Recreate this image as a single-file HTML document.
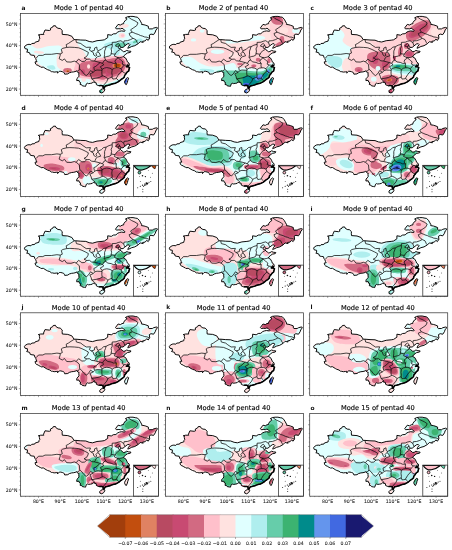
<!DOCTYPE html>
<html><head><meta charset="utf-8"><title>Modes of pentad 40</title>
<style>html,body{margin:0;padding:0;background:#fff}svg{display:block}text{font-family:"DejaVu Sans","Liberation Sans",sans-serif;fill:#262626}.t{font-size:6.7px;fill:#000;stroke:#000;stroke-width:.12px;text-anchor:middle}.k{font-size:4.65px;stroke:#262626;stroke-width:.07px}.l{font-size:5.9px;font-weight:bold;fill:#111}</style></head><body>
<svg width="452" height="550" viewBox="0 0 452 550">
<defs>
<path id="cn" d="M3.9 -9.5L4.8 -10.8L6.7 -11.9L8.5 -12.2L10.4 -11.9L11.3 -13L14.1 -13.2L14.7 -14.3L18.4 -15.4L18.6 -16.9L19.3 -17.6L18.9 -19.7L19.1 -21L17.8 -21.5L20.2 -22.1L23.4 -22.1L23 -23L24.5 -26.5L28.8 -26L30.1 -26.5L29.9 -28.2L32.3 -29.5L32.7 -30.6L34.9 -30.8L35.3 -29.7L37.5 -28.2L39.7 -28L41.8 -26L41.6 -24.5L41.8 -22.1L47.3 -21.7L51.4 -20.2L53.5 -16.9L55.3 -16.9L60.3 -16.5L65.3 -16.3L68.7 -15L72 -14.5L76.5 -15.8L81.5 -16.3L83.9 -16.7L87.2 -18.9L87.2 -21.9L90.8 -21.3L92.8 -22.6L95.4 -22.8L97.3 -24.5L99.1 -25.2L101 -25.6L104.1 -25.2L104.5 -25.8L102.8 -27.6L101.5 -28.2L99.9 -27.6L98.4 -27.8L95.8 -27.6L95 -28.6L97.6 -32.1L99.9 -31.5L101.5 -32.5L103.2 -32.8L103.2 -33.9L104.9 -36.2L106.2 -36.9L106.2 -38.2L104.9 -38.6L106.9 -39.7L109.7 -40.1L112.5 -40.1L115.3 -39.5L116.9 -39.3L118.8 -37.3L119.9 -35.4L121.2 -33L121 -32.1L123.6 -31.7L125.3 -31.2L127.9 -30.2L127.9 -28.2L128.6 -27.6L131.8 -27.6L133.1 -28.4L135.9 -29.1L136.8 -28.9L136.6 -27.6L135.5 -26.7L134.8 -24.5L133.1 -21.9L130.5 -22.4L128.8 -21.5L129.2 -18.4L127.7 -16.1L126.2 -17.4L124.7 -15.6L122.1 -15.2L122.7 -14.1L119.7 -14.8L117.7 -12.8L114.3 -10.8L111.2 -10L108.2 -8.5L107.3 -8.2L108 -10L109.5 -11.9L108.6 -12.8L106.9 -12.6L104.3 -10.6L102.5 -9.1L100.2 -9.1L99.5 -7.8L100.6 -6.7L102.3 -5.4L103 -4.8L104.5 -5L106.2 -6.1L108.2 -5.4L110.4 -5.2L109.9 -4.1L106.9 -3.5L105.4 -2.4L103.6 -0.9L103 0.4L105.1 1.5L106.4 3.9L106.9 5.4L108.6 6.7L108.8 8.7L106.9 9.5L105.8 10.2L107.7 10.2L109.1 11.1L108.6 12.6L108.2 14.5L106.7 15.4L105.4 17.4L104.1 18.9L103.8 20.6L102.3 21.9L100.6 23L98.9 24.5L97.6 25.4L95 26.7L92.4 27.3L90.8 27.8L89.5 28.4L86.9 29.1L84.8 29.5L83.9 31.2L83.5 31.9L82.6 31.2L82.6 29.5L81.1 29.1L79.3 29.1L78.7 29.3L77.4 28.9L75.9 28.2L75.7 26.3L74.1 26L72.8 25.4L71.8 26.5L69.8 26.9L67.9 27.1L66.8 26.7L65.9 27.3L65 29.9L64 29.7L61.8 29.3L61.1 28.2L59.6 28L60.1 26L59 25.6L58.5 23.9L56.2 24.1L56.4 22.1L57.5 21L58.5 19.7L58.3 17.4L58.5 16.1L57.7 16.1L55.9 14.5L55.5 14.8L53.3 15.4L51.2 15.6L48.8 16.3L47.3 17.4L44.2 17.7L43.8 16.5L43.1 15.6L41.8 15.2L40.3 14.8L38.8 14.8L37.5 16.1L37.1 16.7L37.1 15.2L35.6 15.4L33.6 15.6L32.1 15.2L31 15.2L29.3 13.9L27.1 13.2L25.6 12.4L22.8 10.6L20.6 10.8L20.2 10.4L18.4 9.5L17.6 8.9L15.8 8.2L15.2 7.6L14.5 5.4L15.4 5.2L16.5 5.2L15.8 3.9L15.2 2L14.3 0.9L13.7 -1.1L11.5 -1.3L9.8 -1.7L9.1 -3.7L7.2 -4.3L6.1 -4.6L6.9 -5L6.9 -7.4L4.6 -7.8Z M79.3 34.1L80.4 33L82.2 32.3L84.1 32.5L84.3 33.4L83.3 35.2L81.3 36.5L79.3 35.8Z M107.1 21L108.2 21.7L107.3 23.9L106.9 25.8L105.8 28.2L105.4 28.2L104.3 26.5L104.1 25L105.1 23L106 21.7Z"/>
<path id="co" d="M108.8 8.7L106.9 9.5L105.8 10.2L107.7 10.2L109.1 11.1L108.6 12.6L108.2 14.5L106.7 15.4L105.4 17.4L104.1 18.9L103.8 20.6L102.3 21.9L100.6 23L98.9 24.5L97.6 25.4L95 26.7L92.4 27.3L90.8 27.8L89.5 28.4L86.9 29.1L84.8 29.5L83.9 31.2L83.5 31.9L82.6 31.2L82.6 29.5L81.1 29.1L79.3 29.1L78.7 29.3"/>
<path id="pv" d="M15.8 1.5L18 -1.1L22.3 -1.1L24.5 -2.2L31 -2.2L36.4 -3L39.7 -2.6 M39.7 -2.6L41.8 -3.5L40.8 -7.2L42.3 -8.2L46.2 -9.1 M46.2 -9.1L45.7 -11.9L47.9 -13L50.5 -14.8L53.5 -16.7 M39.7 -2.6L39.7 -1.1L38.6 2.2L41.8 3.9L44 2.4L46.2 5.4L50.5 5.6L53.8 4.6L55.7 5.4 M55.7 5.4L58.8 8L59.2 12.6 M59.2 12.6L58.1 14.3L57 14.5L55.9 14.5 M66.3 2.8L63.5 1.5L66.1 0L67.4 -2.2L67.9 -4.1L64.6 -5.9L61.4 -7.4L58.1 -8.7L53.8 -9.1L49.4 -9.3L46.2 -9.1 M66.3 2.8L64 4.8L61.4 5L58.1 2.6L55.7 5.4 M70.7 -5.2L68.9 -6.5L70 -9.3L65.7 -9.1L62.4 -11.3L60.3 -13L55.9 -14.1L55.3 -16.9 M76.3 -9.5L76.5 -6.9L77.8 -5.9L77.2 -4.6L75.4 -2.8L76.3 -1.1L75 -0.4L73.3 -1.5L72.8 -3.9L70.7 -5.2L73.9 -6.1L74.1 -8.5L76.3 -9.5 M77.2 -4.6L78.7 -3.7L80.2 -0.7L77 0.2L75.4 1.5L74.8 3.3L73.9 4.6 M73.9 4.6L71.1 4.3L68.9 2.6L66.3 2.8 M73.9 4.6L76.5 5.2L79.8 6.1L82 6.9 M82 6.9L83.5 4.3L85.2 3.7 M85.2 3.7L84.3 1.7L83.7 0.9 M85.6 -9.8L85 -7.6L84.1 -5.4L84.1 -2.2L83.7 0.9 M85.6 -9.8L83 -9.3L80.9 -7.2L77.8 -5.9 M91.7 -12.2L88.5 -11.3L85.6 -9.8 M83.7 0.9L86.3 0L88.5 -0.4L90.6 -1.7L90.6 -3 M91.7 -12.2L91.7 -9.8L90.6 -7.6L91.1 -5.4L90.6 -3 M90.6 -3L93.4 -2.4L94.7 -2.4 M94.7 -2.4L96 -4.3L97.1 -5.6L99.5 -6.9L99.9 -7.2 M103.2 -13.7L100.4 -15.8L97.6 -15.2L95.6 -14.3L91.7 -14.1L91.7 -12.2 M103.2 -13.7L104.3 -10.8 M112.5 -18.2L110.1 -16.9L106.9 -15.8L103.6 -15.6L103.2 -13.7 M112.5 -18.2L115.3 -16.9L116.6 -14.1L117.7 -12.8 M111.7 -24.3L108.6 -23L109.5 -20.6L112.3 -18.4L112.5 -18.2 M111.7 -24.3L113.4 -23.7L115.3 -22.8L117.7 -22.1L119.9 -21L122.1 -20.4L124.2 -19.5L126.4 -19.3L129 -18.2 M107.5 -39.7L110.8 -37.3L114.5 -35.6L117.5 -33.6L116.2 -30.8L113.4 -28.9L110.1 -26.7L111.7 -24.3 M95 -10.4L96 -11.9L97.8 -13L99.1 -11.9L98.6 -10.4L97.1 -9.8L95 -10.4 M98.6 -10.4L99.5 -11.1L100.2 -9.3 M97.8 -9.8L98 -8.2L99.5 -7.8 M85.2 3.7L87.4 5.4L90.6 5.9L92.8 6.9L95.8 6.9 M95.8 6.9L94.5 5.2L95 3.3L96.9 2.2L96.9 0.9 M96.9 0.9L93.9 -0.4L94.7 -2.4 M96.9 0.9L99.3 1.1L101.5 0.7L103 0 M96.9 0.9L99.3 2.6L101 4.3L102.5 5.4L101.7 7.6L103.8 8.5 M103.8 8.5L105.8 8.7L106.9 8.9L107.5 9.3 M106.9 8.9L107.1 7.6L108 6.9 M103.8 8.5L102.3 10.2L100.6 12.2 M100.6 12.2L98.2 11.3L96 11.3 M96 11.3L95.6 9.1L95.8 6.9 M96 11.3L93.9 11.7L91.7 13 M91.7 13L89.5 11.7L86.3 11.1L84.1 11.5L81.5 12.8 M81.5 12.8L79.8 10.2L82.8 8.7L83 7.6L82 6.9 M91.7 13L91.3 16.3L91.7 19.1L91.5 20.6 M91.5 20.6L89.1 21.5L87.4 22.4 M87.4 22.4L85.2 20.6L83 19.5L81.7 19.5 M81.7 19.5L81.3 16.7L81.5 13.9L81.5 12.8 M100.6 12.2L101.5 14.5 M101.5 14.5L103.6 16.3L105.6 16.9 M101.5 14.5L99.3 16.3L97.8 18.4L96 21.3L96 22.1 M96 22.1L98 23.9L98.6 24.7 M96 22.1L93.9 22.4L92.4 22.6L91.5 20.6 M87.4 22.4L86.3 25L84.1 27.6L82.6 29.3 M81.7 19.5L78.7 21L75.4 21.7L71.3 22.4 M71.3 22.4L73.3 23.9L74.4 25L73.3 25.6 M71.3 22.4L70.7 20L69.4 17.4L72.8 15.8 M72.8 15.8L74.4 14.1L76.5 13.5L79.8 13.7L81.5 13.9 M72.8 15.8L70 14.1L67.9 17.4L65.7 19.1L63.5 17.4L61.4 14.5L59.2 12.6 M73.9 13.9L73.3 10.8L75.4 9.8L78.7 6.9L79.8 6.1"/>
<g id="dots" fill="#111"><circle cx="8.9" cy="10.4" r="0.78"/><circle cx="11.8" cy="11.3" r="0.69"/><circle cx="6.0" cy="11.3" r="0.44"/><circle cx="16.9" cy="11.9" r="0.44"/><circle cx="6.7" cy="16.2" r="0.44"/><circle cx="4.1" cy="22.4" r="0.50"/><circle cx="6.7" cy="20.9" r="0.56"/><circle cx="8.9" cy="19.9" r="0.62"/><circle cx="11.1" cy="18.8" r="0.69"/><circle cx="12.9" cy="17.9" r="1.00"/><circle cx="14.0" cy="18.2" r="0.69"/><circle cx="15.4" cy="16.9" r="0.56"/><circle cx="17.2" cy="16.2" r="0.50"/><circle cx="9.2" cy="23.9" r="0.50"/><circle cx="9.2" cy="26.4" r="0.50"/><circle cx="14.7" cy="5.3" r="0.44"/><circle cx="18.7" cy="7.9" r="0.44"/><circle cx="10.7" cy="20.2" r="0.56"/><circle cx="12.1" cy="19.6" r="0.62"/><circle cx="10.0" cy="21.3" r="0.50"/><circle cx="13.4" cy="19.2" r="0.56"/></g>
</defs>
<rect width="452" height="550" fill="#fff"/>
<clipPath id="c0"><use href="#cn" transform="translate(20.5 56.5)"/></clipPath>
<g clip-path="url(#c0)">
<rect x="20.5" y="13.5" width="138" height="81.8" fill="#FFE2E0"/>
<path d="M77.4 43C77.4 40.9 78.7 37.9 81.1 35.4C83.5 32.8 87.2 30 91.7 27.7C96.3 25.4 104.2 23.9 108.5 21.6C112.9 19.3 109.5 15.3 117.7 14C125.9 12.7 151.3 7.1 158 14C164.7 20.9 161.4 48.7 158 55.2C154.6 61.7 142.7 52.8 137.5 53.1C132.4 53.3 131.2 56.2 126.9 56.7C122.5 57.3 116.4 55.6 111.6 56.1C106.8 56.6 101.7 59.2 97.9 59.8C94 60.4 90.9 60.9 88.7 59.8C86.5 58.7 86 55 84.7 53.1C83.5 51.1 82.3 49.9 81.1 48.2C79.8 46.5 77.4 45.1 77.4 43Z" fill="#E0FFFF"/>
<ellipse cx="123.4" cy="26.1" rx="5.52" ry="2.07" transform="rotate(-5 123.4 26.1)" fill="#FFE2E0"/>
<ellipse cx="122" cy="35.6" rx="3.45" ry="2.76" fill="#FFE2E0"/>
<ellipse cx="122.6" cy="35.6" rx="1.73" ry="1.38" fill="#FFC0CB"/>
<path d="M104.4 44.2C105.6 43 112.5 41.6 116.5 41.3C120.5 40.9 124.7 42.4 128.6 42C132.5 41.5 137.6 38.6 139.8 38.5C142.1 38.4 143.5 40.1 142.1 41.6C140.6 43.1 134.7 46.3 131.2 47.6C127.7 49 124.4 49.7 120.8 49.9C117.2 50 112.4 49.5 109.6 48.5C106.9 47.6 103.3 45.4 104.4 44.2Z" fill="#AFEEEE"/>
<ellipse cx="116.5" cy="51.6" rx="3.11" ry="3.8" fill="#AFEEEE"/>
<path d="M115.1 43.8C116.2 43.2 119.4 42.6 121.7 42.8C124 42.9 128 44 129.1 44.7C130.2 45.5 129.6 46.7 128.3 47C126.9 47.4 123 47.2 120.9 47C118.7 46.9 116.4 46.6 115.5 46.1C114.5 45.5 114.1 44.3 115.1 43.8Z" fill="#66CDAA"/>
<ellipse cx="135.5" cy="41.6" rx="2.95" ry="1.15" transform="rotate(-25 135.5 41.6)" fill="#66CDAA"/>
<ellipse cx="118.6" cy="45.1" rx="1.09" ry="0.78" fill="#3CB371"/>
<ellipse cx="127.2" cy="46.3" rx="0.93" ry="0.62" fill="#3CB371"/>
<path d="M23.5 47.6C24.5 46.6 28.1 44.9 30.4 45.1C32.7 45.2 34.1 48.4 37.3 48.5C40.4 48.7 45.5 46.4 49.3 45.9C53.2 45.5 58.5 45.1 60.6 45.9C62.6 46.8 62 49.5 61.4 51.1C60.8 52.7 57.8 53 57.1 55.4C56.4 57.9 56.4 63.2 57.1 65.8C57.8 68.4 61.8 69.9 61.4 70.9C61 72 57.1 72.2 54.5 71.8C51.9 71.4 48.8 69.9 45.9 68.4C43 66.8 38.8 64.5 37.3 62.3C35.7 60.2 37.8 56.8 36.4 55.4C35 54 30.6 54.8 28.6 54C26.6 53.3 25.2 52.2 24.3 51.1C23.5 50 22.4 48.7 23.5 47.6Z" fill="#E0FFFF"/>
<ellipse cx="39" cy="52.3" rx="5.18" ry="1.38" transform="rotate(5 39 52.3)" fill="#FFE2E0"/>
<path d="M47.6 65.8C48.6 65.4 52.4 64.9 53.6 65.4C54.9 65.9 55.8 68.2 55.4 68.9C54.9 69.6 52.4 69.7 51.1 69.6C49.8 69.4 48.2 68.5 47.6 67.8C47 67.2 46.6 66.2 47.6 65.8Z" fill="#AFEEEE"/>
<path d="M77.8 73.5C79.2 72.2 84.3 70.9 86.4 71.8C88.6 72.7 90.5 76.1 90.8 78.7C91 81.3 89.9 86.2 88.2 87.3C86.4 88.5 82.1 86.9 80.4 85.6C78.7 84.3 78.2 81.6 77.8 79.6C77.4 77.6 76.4 74.8 77.8 73.5Z" fill="#E0FFFF"/>
<ellipse cx="83.8" cy="79.6" rx="2.42" ry="2.42" fill="#FFE2E0"/>
<path d="M76.9 59.7C79.2 58.4 86.4 57 89 58C91.6 59 92.5 63.3 92.5 65.8C92.5 68.2 91.3 71.7 89 72.7C86.7 73.7 80.9 73 78.7 71.8C76.4 70.7 75.9 67.8 75.6 65.8C75.3 63.8 74.7 61 76.9 59.7Z" fill="#FFC0CB"/>
<path d="M75.1 65.8C76.4 63.5 79.1 60.4 82 59.2C84.9 58 88.3 58.9 92.4 58.5C96.4 58.2 101.7 57.7 106.2 57.1C110.6 56.6 115.9 55.4 119.1 55.4C122.3 55.4 123.9 55.7 125.5 57.1C127.1 58.6 128.4 61.7 128.6 64C128.8 66.4 127.7 69.3 126.5 71.3C125.3 73.3 123.3 74.9 121.4 76.1C119.4 77.4 117 78.1 114.8 78.7C112.6 79.3 109.8 79.4 107.9 79.9C106 80.4 105.3 81.6 103.6 81.8C101.9 82 100 81.4 97.5 81C95.1 80.5 92.1 79.4 88.9 78.9C85.7 78.4 81 78.9 78.6 77.8C76.1 76.8 74.8 74.7 74.2 72.7C73.7 70.7 73.8 68 75.1 65.8Z" fill="#FFC0CB"/>
<path d="M78.9 66C79.7 64.3 80.7 62.9 83 62C85.4 61.1 89.1 61.1 92.9 60.7C96.7 60.3 101.8 59.9 106 59.4C110.2 58.9 115.4 57.8 118.3 57.8C121.2 57.7 122 57.9 123.2 59.1C124.4 60.2 125.5 62.7 125.7 64.6C125.8 66.6 125.1 68.9 124 70.5C123 72.2 121.1 73.4 119.4 74.5C117.7 75.5 115.8 76.2 113.9 76.8C111.9 77.3 109.4 77.4 107.6 77.9C105.9 78.4 105.1 79.6 103.5 79.7C102 79.9 100.5 79.3 98.1 78.9C95.8 78.5 92.4 77.7 89.6 77.1C86.8 76.5 83.3 76.4 81.4 75.5C79.5 74.6 78.9 73.3 78.5 71.7C78 70.1 78.2 67.6 78.9 66Z" fill="#D26A82"/>
<path d="M92.6 66.1C93 64.7 91.9 63.8 94.2 63C96.4 62.3 102.5 62 106.3 61.5C110.1 61 114.6 60 117.2 59.9C119.7 59.9 120.5 60.3 121.5 61.2C122.5 62.1 123.3 63.9 123.4 65.4C123.4 66.9 122.7 68.9 121.8 70.2C120.9 71.5 119.5 72.3 117.9 73.1C116.4 73.9 114.3 74.5 112.5 75C110.7 75.5 108.6 75.6 107.1 76.1C105.5 76.5 104.5 77.5 103.2 77.6C101.9 77.8 100.9 77.3 99.3 76.9C97.7 76.4 94.8 76 93.5 75.1C92.3 74.3 92.1 73.1 92 71.6C91.8 70.1 92.3 67.6 92.6 66.1Z" fill="#C84A72"/>
<ellipse cx="99.3" cy="71.3" rx="6.52" ry="4.35" fill="#B84A62"/>
<ellipse cx="113.1" cy="70.6" rx="6.52" ry="3.73" fill="#B84A62"/>
<ellipse cx="94.1" cy="74.7" rx="3.42" ry="1.86" fill="#B84A62"/>
<ellipse cx="106.2" cy="64.4" rx="6.21" ry="2.17" fill="#B84A62"/>
<ellipse cx="82.9" cy="71.8" rx="2.17" ry="2.48" fill="#C84A72"/>
<ellipse cx="104.4" cy="74.7" rx="1.97" ry="1.31" fill="#D26A82"/>
<ellipse cx="119.1" cy="73.5" rx="1.64" ry="1.15" fill="#D26A82"/>
<ellipse cx="88.6" cy="66.6" rx="1.55" ry="2.24" fill="#FFE2E0"/>
<ellipse cx="117.4" cy="65.8" rx="4.97" ry="2.8" fill="#E08262"/>
<ellipse cx="117.4" cy="65.4" rx="3.42" ry="1.86" fill="#C24E0E"/>
<ellipse cx="117.9" cy="65.1" rx="1.24" ry="0.78" fill="#A23E0C"/>
<ellipse cx="67.5" cy="70.3" rx="4.26" ry="2.3" fill="#D26A82"/>
<ellipse cx="67.5" cy="70.9" rx="2.17" ry="1.4" fill="#E08262"/>
<ellipse cx="67.8" cy="71.3" rx="1.24" ry="0.78" fill="#A23E0C"/>
<path d="M92.4 82.3C94.2 81.9 99.8 84.3 103.6 84.1C107.3 83.8 111.8 81.7 114.8 80.6C117.8 79.5 119.6 79 121.7 77.5C123.8 76 125.7 72.5 127.2 71.8C128.7 71.1 131.3 72.1 130.7 73.5C130 75 126.4 78.4 123.4 80.4C120.5 82.5 116.5 84.4 113.1 85.8C109.6 87.1 106.2 88.4 102.7 88.5C99.3 88.7 94.1 87.5 92.4 86.5C90.6 85.4 90.5 82.7 92.4 82.3Z" fill="#E0FFFF"/>
<path d="M96.7 84.4C97.8 84.2 101.9 85.5 104.4 85.3C107 85 109.8 83.8 112.2 82.9C114.7 81.9 117.6 79.7 119.1 79.4C120.6 79.1 122 80.1 121 81.1C120 82.1 115.8 84.2 113.1 85.3C110.3 86.3 107 87.3 104.4 87.5C101.9 87.7 98.8 87 97.5 86.5C96.2 86 95.5 84.6 96.7 84.4Z" fill="#AFEEEE"/>
<ellipse cx="107.9" cy="84.9" rx="6.56" ry="0.98" transform="rotate(-15 107.9 84.9)" fill="#66CDAA"/>
<ellipse cx="99.4" cy="90.9" rx="3.19" ry="2.9" fill="#66CDAA"/>
<ellipse cx="99.4" cy="91.2" rx="1.37" ry="1.37" fill="#008B8B"/>
<ellipse cx="125" cy="80.6" rx="2.2" ry="3.85" transform="rotate(15 125 80.6)" fill="#4169E1"/>
<ellipse cx="125" cy="80.3" rx="0.96" ry="1.92" transform="rotate(15 125 80.3)" fill="#191970"/>
</g>
<g transform="translate(20.5 56.5)" fill="none" stroke-linejoin="round"><use href="#pv" stroke="#0a0a0a" stroke-width="0.75"/><use href="#cn" stroke="#000" stroke-width="0.95"/><use href="#co" stroke="#000" stroke-width="1.5"/></g>
<rect x="20.50" y="13.50" width="138.00" height="81.80" fill="none" stroke="#3a3a3a" stroke-width="0.75"/>
<path d="M21.15 95.30 v0.9M25.49 95.30 v0.9M29.82 95.30 v0.9M34.16 95.30 v0.9M38.49 95.30 v1.7M42.83 95.30 v0.9M47.17 95.30 v0.9M51.50 95.30 v0.9M55.84 95.30 v0.9M60.17 95.30 v1.7M64.51 95.30 v0.9M68.85 95.30 v0.9M73.18 95.30 v0.9M77.52 95.30 v0.9M81.85 95.30 v1.7M86.19 95.30 v0.9M90.53 95.30 v0.9M94.86 95.30 v0.9M99.20 95.30 v0.9M103.53 95.30 v1.7M107.87 95.30 v0.9M112.21 95.30 v0.9M116.54 95.30 v0.9M120.88 95.30 v0.9M125.21 95.30 v1.7M129.55 95.30 v0.9M133.89 95.30 v0.9M138.22 95.30 v0.9M142.56 95.30 v0.9M146.89 95.30 v1.7M151.23 95.30 v0.9M155.57 95.30 v0.9M20.50 93.39 h-0.9M20.50 89.05 h-1.7M20.50 84.71 h-0.9M20.50 80.37 h-0.9M20.50 76.03 h-0.9M20.50 71.69 h-0.9M20.50 67.35 h-1.7M20.50 63.01 h-0.9M20.50 58.67 h-0.9M20.50 54.33 h-0.9M20.50 49.99 h-0.9M20.50 45.65 h-1.7M20.50 41.31 h-0.9M20.50 36.97 h-0.9M20.50 32.63 h-0.9M20.50 28.29 h-0.9M20.50 23.95 h-1.7M20.50 19.61 h-0.9M20.50 15.27 h-0.9" fill="none" stroke="#3a3a3a" stroke-width="0.45"/>
<text class="k" x="17.40" y="25.65" text-anchor="end">50°N</text>
<text class="k" x="17.40" y="47.35" text-anchor="end">40°N</text>
<text class="k" x="17.40" y="69.05" text-anchor="end">30°N</text>
<text class="k" x="17.40" y="90.75" text-anchor="end">20°N</text>
<text class="l" x="21.40" y="9.80">a</text>
<text class="t" x="88.65" y="10.20">Mode 1 of pentad 40</text>
<clipPath id="c1"><use href="#cn" transform="translate(165.4 56.5)"/></clipPath>
<g clip-path="url(#c1)">
<rect x="165.4" y="13.5" width="138" height="81.8" fill="#FFE2E0"/>
<path d="M204.7 54.3C206.5 51.9 214.1 49.2 218.4 48.2C222.8 47.2 228.1 48.4 230.6 48.2C233.2 48 231.4 46.7 233.9 46.8C236.5 46.8 242.8 49.1 246 48.5C249.2 47.9 249.4 44.3 252.9 43.3C256.3 42.3 263.5 41.6 266.7 42.5C269.9 43.3 271.6 46.1 272.2 48.5C272.8 51 270 54.6 270.1 57.1C270.3 59.7 273.8 62.3 273.3 64C272.7 65.8 271.5 67.1 266.7 67.8C261.9 68.6 250.9 68.2 244.3 68.4C237.6 68.5 231.6 69.3 227 68.9C222.4 68.4 219.9 66.8 216.7 65.8C213.4 64.8 209.7 64.8 207.7 62.8C205.7 60.9 202.9 56.7 204.7 54.3Z" fill="#FFD2D6"/>
<ellipse cx="252.9" cy="51.1" rx="2.42" ry="4.83" fill="#FFE2E0"/>
<ellipse cx="233.9" cy="55.4" rx="5.18" ry="3.11" fill="#FFE2E0"/>
<path d="M270.1 24.4C270.7 21.6 271.3 17.7 273.6 16.6C275.9 15.4 279.5 15.6 284 17.5C288.4 19.3 298.3 24.3 300.3 27.5C302.4 30.6 298.3 33.4 296 36.4C293.7 39.5 289.8 43.8 286.5 45.9C283.2 48.1 278.6 50.1 276.2 49.4C273.8 48.7 273.2 44.3 272.2 41.6C271.2 38.9 270.5 35.9 270.1 33C269.8 30.1 269.6 27.1 270.1 24.4Z" fill="#FFD2D6"/>
<path d="M227 39.9C229.6 38.7 238.5 37.1 244.3 36.4C250 35.8 258.2 35.7 261.5 36.1C264.8 36.5 266.4 38.1 264.1 39C261.8 39.9 253.6 40.8 247.7 41.6C241.8 42.4 232.2 44 228.7 43.7C225.3 43.4 224.4 41.1 227 39.9Z" fill="#E0FFFF"/>
<ellipse cx="296" cy="30.9" rx="3.8" ry="2.42" fill="#E0FFFF"/>
<ellipse cx="284" cy="30.4" rx="4.31" ry="3.11" fill="#FFE2E0"/>
<path d="M271.3 17.6C272.5 16.6 276.8 15.7 278.7 16C280.6 16.2 282.3 17.9 282.8 19.2C283.3 20.6 282.9 23.3 281.6 24.2C280.4 25 277 24.9 275.4 24.5C273.8 24.1 272.5 22.9 271.8 21.7C271.1 20.6 270.2 18.6 271.3 17.6Z" fill="#D26A82"/>
<ellipse cx="277.4" cy="18.7" rx="3.11" ry="1.86" fill="#C84A72"/>
<ellipse cx="276.2" cy="17.5" rx="1.24" ry="0.78" fill="#B84A62"/>
<ellipse cx="281.9" cy="39" rx="2.3" ry="2.95" fill="#D26A82"/>
<ellipse cx="280.5" cy="43.3" rx="5.25" ry="1.64" transform="rotate(-25 280.5 43.3)" fill="#D26A82"/>
<ellipse cx="258.1" cy="59.7" rx="2.3" ry="1.97" fill="#D26A82"/>
<ellipse cx="253.8" cy="65.8" rx="2.62" ry="1.64" fill="#D26A82"/>
<ellipse cx="268.9" cy="60.6" rx="1.64" ry="2.62" fill="#D26A82"/>
<ellipse cx="253.8" cy="66.1" rx="1.09" ry="0.62" fill="#C84A72"/>
<ellipse cx="240" cy="64" rx="2.95" ry="1.31" fill="#D26A82"/>
<path d="M180.9 58.5C181.5 56.9 187.8 56.5 190.9 57.1C194 57.8 196.3 61.1 199.5 62.7C202.7 64.2 206 66.1 209.9 66.6C213.7 67.1 218.8 66.3 222.8 65.8C226.8 65.2 231.9 62.5 234 63.2C236.2 63.9 237.5 68.4 235.8 70.1C234 71.7 227.4 72.4 223.7 73C219.9 73.7 217.3 74.3 213.3 74.1C209.3 73.8 203.8 73 199.5 71.8C195.2 70.6 190.5 68.8 187.4 66.6C184.3 64.4 180.3 60.1 180.9 58.5Z" fill="#E0FFFF"/>
<ellipse cx="193.5" cy="39.9" rx="2.76" ry="1.55" fill="#E0FFFF"/>
<ellipse cx="202.1" cy="30.9" rx="2.42" ry="1.73" fill="#E0FFFF"/>
<ellipse cx="217.6" cy="51.6" rx="6.9" ry="2.42" fill="#E0FFFF"/>
<ellipse cx="208.1" cy="70.6" rx="8.63" ry="1.55" transform="rotate(8 208.1 70.6)" fill="#AFEEEE"/>
<path d="M214.9 68.9C216.9 66.3 222.1 68 227 67.8C231.9 67.7 238.5 67.7 244.3 67.8C250 68 257.6 69.2 261.5 68.9C265.4 68.5 265.8 66.9 267.6 65.8C269.3 64.7 270.9 62.3 272.2 62.3C273.5 62.3 275.4 63.5 275.3 65.8C275.3 68.1 273.7 73.2 271.9 76.1C270 79 267.3 81 264.1 83C260.9 85.1 256.5 87.6 252.9 88.5C249.3 89.5 246.9 89.1 242.5 88.9C238.2 88.7 231.6 88.1 227 87.2C222.4 86.2 216.9 86.1 214.9 83C212.9 80 212.9 71.4 214.9 68.9Z" fill="#E0FFFF"/>
<path d="M216.6 71.5C218.5 69.6 223.5 70.7 228.1 70.5C232.7 70.4 239 70.4 244.5 70.5C250 70.7 257.1 71.9 260.9 71.5C264.7 71.1 265.7 69.2 267.4 68.2C269.2 67.3 270.7 65.7 271.5 65.6C272.4 65.6 273 66.2 272.7 67.9C272.4 69.6 271.5 73.4 269.9 75.8C268.3 78.1 265.7 80 262.9 82C260 84 256 86.6 252.7 87.6C249.4 88.6 247 88.1 242.9 87.9C238.8 87.7 232.5 87.2 228.1 86.3C223.7 85.4 218.5 84.8 216.6 82.3C214.7 79.9 214.7 73.5 216.6 71.5Z" fill="#66CDAA"/>
<path d="M236 73.9C237.3 72.3 241.2 72.9 245.3 72.8C249.4 72.7 257.1 73.9 260.8 73.4C264.6 72.9 266.2 70.8 267.8 70C269.4 69.2 270.3 67.8 270.5 68.8C270.6 69.7 269.9 73.4 268.6 75.4C267.3 77.5 265 79.1 262.4 80.9C259.8 82.6 256 84.9 253.1 85.8C250.1 86.8 247.1 87 244.5 86.5C241.9 85.9 239 84.5 237.5 82.4C236.1 80.3 234.7 75.5 236 73.9Z" fill="#3CB371"/>
<path d="M243.1 77.1C244 76.1 245.6 76 248.5 75.7C251.5 75.4 257.9 75.7 261 75.1C264.1 74.5 265.9 72.4 267.2 72C268.5 71.5 268.8 71.7 268.7 72.4C268.7 73.2 268 75 266.9 76.3C265.7 77.6 264 78.8 261.7 80.2C259.5 81.6 255.9 83.8 253.2 84.7C250.5 85.6 247.1 85.8 245.4 85.3C243.7 84.8 243.5 83.1 243.1 81.8C242.7 80.4 242.2 78.1 243.1 77.1Z" fill="#008B8B"/>
<ellipse cx="258.9" cy="77.5" rx="4.35" ry="2.8" transform="rotate(-25 258.9 77.5)" fill="#6495ED"/>
<ellipse cx="259.4" cy="77.8" rx="1.86" ry="1.09" transform="rotate(-25 259.4 77.8)" fill="#4169E1"/>
<ellipse cx="268.4" cy="71.3" rx="1.4" ry="2.17" fill="#6495ED"/>
<ellipse cx="268.4" cy="71.6" rx="0.62" ry="0.93" fill="#4169E1"/>
<ellipse cx="246.3" cy="84.4" rx="3.42" ry="1.55" fill="#4169E1"/>
<ellipse cx="246.3" cy="85.1" rx="1.86" ry="0.78" fill="#191970"/>
<ellipse cx="244.4" cy="90.9" rx="3.02" ry="2.75" fill="#6495ED"/>
<ellipse cx="244.4" cy="91.2" rx="1.37" ry="1.37" fill="#4169E1"/>
<ellipse cx="270" cy="80.6" rx="2.2" ry="3.85" transform="rotate(15 270 80.6)" fill="#008B8B"/>
<ellipse cx="270" cy="80.3" rx="0.96" ry="1.92" transform="rotate(15 270 80.3)" fill="#6495ED"/>
</g>
<g transform="translate(165.4 56.5)" fill="none" stroke-linejoin="round"><use href="#pv" stroke="#0a0a0a" stroke-width="0.75"/><use href="#cn" stroke="#000" stroke-width="0.95"/><use href="#co" stroke="#000" stroke-width="1.5"/></g>
<rect x="165.40" y="13.50" width="138.00" height="81.80" fill="none" stroke="#3a3a3a" stroke-width="0.75"/>
<path d="M166.05 95.30 v0.9M170.39 95.30 v0.9M174.72 95.30 v0.9M179.06 95.30 v0.9M183.39 95.30 v1.7M187.73 95.30 v0.9M192.07 95.30 v0.9M196.40 95.30 v0.9M200.74 95.30 v0.9M205.07 95.30 v1.7M209.41 95.30 v0.9M213.75 95.30 v0.9M218.08 95.30 v0.9M222.42 95.30 v0.9M226.75 95.30 v1.7M231.09 95.30 v0.9M235.43 95.30 v0.9M239.76 95.30 v0.9M244.10 95.30 v0.9M248.43 95.30 v1.7M252.77 95.30 v0.9M257.11 95.30 v0.9M261.44 95.30 v0.9M265.78 95.30 v0.9M270.11 95.30 v1.7M274.45 95.30 v0.9M278.79 95.30 v0.9M283.12 95.30 v0.9M287.46 95.30 v0.9M291.79 95.30 v1.7M296.13 95.30 v0.9M300.47 95.30 v0.9M165.40 93.39 h-0.9M165.40 89.05 h-1.7M165.40 84.71 h-0.9M165.40 80.37 h-0.9M165.40 76.03 h-0.9M165.40 71.69 h-0.9M165.40 67.35 h-1.7M165.40 63.01 h-0.9M165.40 58.67 h-0.9M165.40 54.33 h-0.9M165.40 49.99 h-0.9M165.40 45.65 h-1.7M165.40 41.31 h-0.9M165.40 36.97 h-0.9M165.40 32.63 h-0.9M165.40 28.29 h-0.9M165.40 23.95 h-1.7M165.40 19.61 h-0.9M165.40 15.27 h-0.9" fill="none" stroke="#3a3a3a" stroke-width="0.45"/>
<text class="l" x="166.30" y="9.80">b</text>
<text class="t" x="233.55" y="10.20">Mode 2 of pentad 40</text>
<clipPath id="c2"><use href="#cn" transform="translate(309.7 56.5)"/></clipPath>
<g clip-path="url(#c2)">
<rect x="309.7" y="13.5" width="138" height="81.8" fill="#FFE2E0"/>
<path d="M313.5 46.8C314 44.5 317.8 42.2 320.4 39.9C322.9 37.6 325.8 34.7 329 33C332.1 31.3 336.7 29.2 339.3 29.5C341.9 29.8 343.9 32.7 344.5 34.7C345.1 36.7 341.6 39.5 342.8 41.6C343.9 43.8 348.5 46.4 351.4 47.6C354.3 48.9 358.7 47.9 360 49.4C361.3 50.8 360.8 55 359.2 56.3C357.6 57.6 353 56.7 350.6 57.1C348.1 57.6 346 57.8 344.5 59.2C343.1 60.6 342.2 63.8 341.9 65.8C341.6 67.7 343.8 70.4 342.8 70.9C341.8 71.5 338.5 70.4 335.9 69.2C333.3 68.1 329.3 66.1 327.3 64C325.2 62 325.5 58.9 323.8 57.1C322.1 55.4 318.6 55.4 316.9 53.7C315.2 52 312.9 49.1 313.5 46.8Z" fill="#E0FFFF"/>
<path d="M326.4 57.1C327.5 55.8 333.3 55.9 335.9 56.3C338.5 56.6 341.1 57.6 341.9 59.2C342.8 60.8 342.1 64.3 341.1 65.8C340.1 67.2 337.9 68.1 335.9 67.8C333.9 67.6 330.6 65.8 329 64C327.4 62.3 325.2 58.4 326.4 57.1Z" fill="#AFEEEE"/>
<ellipse cx="352.3" cy="38.2" rx="6.9" ry="4.31" fill="#FFE2E0"/>
<path d="M349.7 52.2C350.7 47.8 353.8 48.6 358.8 46.1C363.9 43.5 373.1 40 380.2 36.9C387.3 33.8 396.5 31 401.6 27.7C406.7 24.4 405.7 19.3 410.8 17.1C415.8 14.8 425.9 12.5 432.1 14C438.3 15.5 445.4 19.6 448 26.2C450.6 32.8 451.7 49.6 448 53.7C444.3 57.8 430.7 49.1 426 50.6C421.3 52.2 422.5 60.5 419.9 62.8C417.4 65.2 415.7 64.4 410.8 64.7C405.8 65 393.5 63 390 64.7C386.5 66.4 388.1 72.4 390 75.1C391.9 77.7 397.6 79.8 401.6 80.6C405.6 81.3 412.3 78.5 413.8 79.6C415.3 80.8 413.8 85.5 410.8 87.3C407.7 89.1 400.6 90.1 395.5 90.3C390.4 90.6 384.8 89.3 380.2 88.8C375.6 88.3 370.6 89.6 368 87.3C365.5 85 367.5 77.6 365 75.1C362.4 72.5 355.3 75.8 352.7 72C350.2 68.2 348.7 56.5 349.7 52.2Z" fill="#FFD2D6"/>
<ellipse cx="437.6" cy="32.1" rx="6.9" ry="5.18" fill="#FFE2E0"/>
<path d="M360 43.3C361.3 42.2 366.4 41.3 368.7 41.6C371 41.9 373.8 43.8 373.8 45.1C373.8 46.4 370.8 48.8 368.7 49.4C366.5 50 362.3 49.5 360.9 48.5C359.5 47.5 358.7 44.5 360 43.3Z" fill="#FFE2E0"/>
<path d="M406.3 32.9C407.1 30.7 409.7 28.2 412 26.3C414.4 24.4 417.5 22.4 420.2 21.4C423 20.4 426.6 19.8 428.4 20.6C430.2 21.4 431.2 24.3 430.9 26.3C430.6 28.4 428.6 31 426.8 32.9C425 34.8 422.5 36.4 420.2 37.8C417.9 39.2 415 40.8 412.8 41.1C410.7 41.4 408.2 40.8 407.1 39.4C406 38.1 405.5 35.1 406.3 32.9Z" fill="#D26A82"/>
<path d="M408.9 34C409.7 32.7 411.9 30.6 413.9 28.9C415.9 27.3 418.7 25.2 420.9 24.3C423.1 23.4 425.9 22.9 427.1 23.5C428.3 24.1 428.7 26.4 428.2 27.8C427.7 29.3 425.6 30.7 424 32C422.4 33.3 420.4 34.6 418.6 35.6C416.8 36.6 414.6 37.5 413.1 37.8C411.6 38 410.3 37.8 409.6 37.2C408.9 36.5 408.2 35.4 408.9 34Z" fill="#C84A72"/>
<ellipse cx="415.1" cy="33.3" rx="4.35" ry="2.17" transform="rotate(-30 415.1 33.3)" fill="#B84A62"/>
<ellipse cx="424.6" cy="26.9" rx="3.73" ry="2.17" transform="rotate(-40 424.6 26.9)" fill="#B84A62"/>
<ellipse cx="406.5" cy="45.9" rx="2.62" ry="2.95" fill="#D26A82"/>
<ellipse cx="400.5" cy="51.1" rx="2.3" ry="5.74" transform="rotate(10 400.5 51.1)" fill="#D26A82"/>
<ellipse cx="409.6" cy="54" rx="4.92" ry="3.61" fill="#D26A82"/>
<ellipse cx="409.1" cy="54" rx="3.11" ry="2.17" fill="#C84A72"/>
<ellipse cx="406.5" cy="45.1" rx="1.24" ry="1.55" fill="#C84A72"/>
<path d="M367.5 54.9C368.7 52.6 373.8 51.7 377.3 51.6C380.9 51.5 386.6 52 388.8 54.1C391 56.1 390.6 61.4 390.4 63.9C390.3 66.4 389.9 67.7 388 68.8C386.1 69.9 382 71 379 70.5C376 69.9 371.9 68.1 370 65.5C368 63 366.3 57.2 367.5 54.9Z" fill="#D26A82"/>
<ellipse cx="385" cy="64.4" rx="3.11" ry="3.11" fill="#C84A72"/>
<ellipse cx="375.1" cy="59.7" rx="3.11" ry="4.35" fill="#C84A72"/>
<ellipse cx="385.5" cy="64.9" rx="1.4" ry="1.55" fill="#B84A62"/>
<ellipse cx="394.4" cy="58" rx="1.55" ry="2.17" fill="#C84A72"/>
<ellipse cx="378" cy="68.4" rx="2.42" ry="2.42" fill="#E0FFFF"/>
<ellipse cx="358.7" cy="69.6" rx="3.93" ry="2.62" fill="#D26A82"/>
<ellipse cx="358.7" cy="70.3" rx="1.71" ry="1.09" fill="#C84A72"/>
<path d="M390.1 64.9C391.3 63.4 394.6 62.9 397.9 62.7C401.2 62.5 406.4 63.3 410 63.7C413.6 64.1 417.7 63.7 419.5 64.9C421.2 66.1 420.9 69.1 420.3 70.9C419.8 72.8 418.3 75.4 416 76.1C413.7 76.8 409.5 75.5 406.5 75.3C403.5 75 400.5 75 397.9 74.4C395.3 73.8 392.3 73.4 391 71.8C389.7 70.2 389 66.4 390.1 64.9Z" fill="#E0FFFF"/>
<path d="M391.3 65.4C392.3 64.3 394.8 63.8 397.9 63.7C401 63.6 406.6 64.4 410 64.7C413.4 65.1 416.8 64.8 418.3 65.8C419.7 66.7 419.1 69.2 418.6 70.6C418.1 72 417.2 73.9 415.1 74.4C413.1 74.9 409.4 74 406.5 73.7C403.6 73.4 400.3 73.2 397.9 72.7C395.4 72.2 392.9 71.8 391.9 70.6C390.8 69.4 390.3 66.6 391.3 65.4Z" fill="#AFEEEE"/>
<path d="M392.4 65.5C393.3 64.7 395.4 64.3 398.1 64.2C400.9 64.2 406.2 64.7 408.8 65.2C411.4 65.7 413 66.2 413.7 67.2C414.4 68.1 415.2 70.1 412.9 70.8C410.6 71.4 403.1 71.3 399.8 71.1C396.4 70.9 394.1 70.4 392.9 69.5C391.7 68.5 391.5 66.4 392.4 65.5Z" fill="#66CDAA"/>
<ellipse cx="400.5" cy="66.8" rx="7.14" ry="1.86" fill="#3CB371"/>
<ellipse cx="397.9" cy="66.3" rx="2.48" ry="0.93" fill="#008B8B"/>
<ellipse cx="414.3" cy="70.1" rx="2.3" ry="2.95" fill="#66CDAA"/>
<ellipse cx="406.5" cy="79.6" rx="8.63" ry="3.45" transform="rotate(-15 406.5 79.6)" fill="#FFE2E0"/>
<path d="M382 77.1C382.6 75.6 386.7 74.8 389.3 74.7C391.9 74.6 396 75.4 397.5 76.6C399 77.9 399.2 80.6 398.4 82C397.5 83.5 394.8 85.1 392.6 85.3C390.4 85.6 387 85.1 385.2 83.7C383.5 82.3 381.3 78.6 382 77.1Z" fill="#D26A82"/>
<ellipse cx="390.1" cy="80.4" rx="6.21" ry="3.42" fill="#B84A62"/>
<ellipse cx="389.3" cy="80.1" rx="3.11" ry="1.4" transform="rotate(-10 389.3 80.1)" fill="#E08262"/>
<ellipse cx="389.3" cy="80.1" rx="1.86" ry="0.78" transform="rotate(-10 389.3 80.1)" fill="#C24E0E"/>
<ellipse cx="373.8" cy="79.2" rx="2.76" ry="2.42" fill="#E0FFFF"/>
<ellipse cx="389.4" cy="90.9" rx="3.02" ry="2.75" fill="#C84A72"/>
<ellipse cx="389.4" cy="91.2" rx="1.37" ry="1.37" fill="#B84A62"/>
<ellipse cx="415" cy="80.6" rx="2.2" ry="3.85" transform="rotate(15 415 80.6)" fill="#3CB371"/>
<ellipse cx="415" cy="80.3" rx="0.96" ry="1.92" transform="rotate(15 415 80.3)" fill="#008B8B"/>
</g>
<g transform="translate(309.7 56.5)" fill="none" stroke-linejoin="round"><use href="#pv" stroke="#0a0a0a" stroke-width="0.75"/><use href="#cn" stroke="#000" stroke-width="0.95"/><use href="#co" stroke="#000" stroke-width="1.5"/></g>
<rect x="309.70" y="13.50" width="138.00" height="81.80" fill="none" stroke="#3a3a3a" stroke-width="0.75"/>
<path d="M310.35 95.30 v0.9M314.69 95.30 v0.9M319.02 95.30 v0.9M323.36 95.30 v0.9M327.69 95.30 v1.7M332.03 95.30 v0.9M336.37 95.30 v0.9M340.70 95.30 v0.9M345.04 95.30 v0.9M349.37 95.30 v1.7M353.71 95.30 v0.9M358.05 95.30 v0.9M362.38 95.30 v0.9M366.72 95.30 v0.9M371.05 95.30 v1.7M375.39 95.30 v0.9M379.73 95.30 v0.9M384.06 95.30 v0.9M388.40 95.30 v0.9M392.73 95.30 v1.7M397.07 95.30 v0.9M401.41 95.30 v0.9M405.74 95.30 v0.9M410.08 95.30 v0.9M414.41 95.30 v1.7M418.75 95.30 v0.9M423.09 95.30 v0.9M427.42 95.30 v0.9M431.76 95.30 v0.9M436.09 95.30 v1.7M440.43 95.30 v0.9M444.77 95.30 v0.9M309.70 93.39 h-0.9M309.70 89.05 h-1.7M309.70 84.71 h-0.9M309.70 80.37 h-0.9M309.70 76.03 h-0.9M309.70 71.69 h-0.9M309.70 67.35 h-1.7M309.70 63.01 h-0.9M309.70 58.67 h-0.9M309.70 54.33 h-0.9M309.70 49.99 h-0.9M309.70 45.65 h-1.7M309.70 41.31 h-0.9M309.70 36.97 h-0.9M309.70 32.63 h-0.9M309.70 28.29 h-0.9M309.70 23.95 h-1.7M309.70 19.61 h-0.9M309.70 15.27 h-0.9" fill="none" stroke="#3a3a3a" stroke-width="0.45"/>
<text class="l" x="310.60" y="9.80">c</text>
<text class="t" x="377.85" y="10.20">Mode 3 of pentad 40</text>
<clipPath id="c3"><use href="#cn" transform="translate(20.5 156.9)"/></clipPath>
<g clip-path="url(#c3)">
<rect x="20.5" y="113.7" width="138" height="82.8" fill="#FFE2E0"/>
<ellipse cx="46.7" cy="133.8" rx="2.07" ry="1.21" fill="#E0FFFF"/>
<ellipse cx="41.6" cy="145.4" rx="1.21" ry="1.55" fill="#E0FFFF"/>
<path d="M36.4 157.1C38.1 155.7 42.9 155.4 47.6 155.4C52.4 155.4 60 156.3 64.9 157.1C69.8 158 74.8 158.3 76.9 160.6C79.1 162.9 79.2 168.8 77.8 170.9C76.4 173.1 72.2 173.4 68.3 173.5C64.4 173.7 58.5 172.5 54.5 171.8C50.5 171.1 47 170.5 44.2 169.2C41.3 167.9 38.6 166.1 37.3 164C36 162 34.7 158.6 36.4 157.1Z" fill="#FFC0CB"/>
<path d="M43.8 165C44.6 164.1 48 163.3 51.2 163.4C54.3 163.5 60.6 164.8 62.7 165.9C64.7 166.9 64.9 169.1 63.5 169.9C62.1 170.8 57.3 171.2 54.5 171.1C51.6 171 48 170.1 46.3 169.1C44.5 168.1 43 166 43.8 165Z" fill="#D26A82"/>
<ellipse cx="54.5" cy="168.4" rx="5.59" ry="1.4" transform="rotate(5 54.5 168.4)" fill="#C84A72"/>
<ellipse cx="53.6" cy="168.7" rx="2.48" ry="0.62" transform="rotate(5 53.6 168.7)" fill="#B84A62"/>
<ellipse cx="71.8" cy="159.2" rx="3.8" ry="2.07" fill="#E0FFFF"/>
<ellipse cx="65.7" cy="172.3" rx="1.73" ry="1.21" fill="#E0FFFF"/>
<path d="M75.1 141.6C76.3 140.2 78 140.6 82 139.9C86 139.2 93.5 138.2 99.3 137.3C105 136.4 113.2 136.9 116.5 134.7C119.8 132.6 117.1 127.2 119.1 124.4C121.1 121.5 125.3 118.3 128.6 117.5C131.9 116.6 136.9 117.2 139 119.2C141 121.2 140.7 125.5 140.7 129.5C140.7 133.6 141.3 140.2 139 143.3C136.7 146.5 129.2 146.2 126.9 148.5C124.6 150.8 126.9 154.6 125.1 157.1C123.4 159.7 120.3 162.6 116.5 164C112.8 165.5 105.6 166.6 102.7 165.8C99.8 164.9 99.3 161.7 99.3 158.9C99.3 156 103.9 150.7 102.7 148.5C101.6 146.4 95.8 146.2 92.4 145.9C88.9 145.6 84.9 146.4 82 146.8C79.1 147.2 76.3 149.4 75.1 148.5C74 147.6 74 143 75.1 141.6Z" fill="#FFD2D6"/>
<path d="M117 129.9C117.7 127.9 119.5 125.4 121.9 124.2C124.4 123 129.8 121.6 131.8 122.6C133.7 123.5 133.5 127.3 133.4 129.9C133.3 132.5 130.1 136.5 130.9 138.1C131.8 139.8 137.4 138.7 138.3 139.8C139.3 140.9 138.5 143.6 136.7 144.7C134.8 145.8 129.1 145.6 127.2 146.3C125.2 147 126.9 148.5 125.2 148.8C123.5 149.1 118.6 149.2 117 148C115.4 146.7 115.2 143.3 115.4 141.4C115.5 139.5 117.5 138.4 117.8 136.5C118.1 134.6 116.3 132 117 129.9Z" fill="#D26A82"/>
<ellipse cx="123.9" cy="135.6" rx="4.66" ry="3.73" fill="#C84A72"/>
<ellipse cx="123.4" cy="135.6" rx="3.11" ry="2.33" fill="#B84A62"/>
<ellipse cx="128.3" cy="126.4" rx="2.8" ry="2.17" fill="#C84A72"/>
<ellipse cx="117.6" cy="145.9" rx="1.4" ry="1.4" fill="#B84A62"/>
<path d="M128.3 117.5C129.7 116.7 137 117.6 139 118.5C140.9 119.3 141.4 121.9 140 122.6C138.6 123.4 132.3 123.8 130.3 123C128.4 122.1 126.8 118.2 128.3 117.5Z" fill="#E0FFFF"/>
<ellipse cx="134.6" cy="120.6" rx="3.45" ry="1.38" fill="#AFEEEE"/>
<ellipse cx="143.3" cy="133.8" rx="6.9" ry="4.83" transform="rotate(-30 143.3 133.8)" fill="#E0FFFF"/>
<ellipse cx="143.3" cy="134.4" rx="2.95" ry="2.62" fill="#66CDAA"/>
<ellipse cx="120" cy="154" rx="4.59" ry="2.62" fill="#D26A82"/>
<ellipse cx="111.3" cy="160.6" rx="3.61" ry="3.61" fill="#D26A82"/>
<ellipse cx="111.7" cy="161.5" rx="1.55" ry="1.86" fill="#C84A72"/>
<ellipse cx="116.5" cy="164.4" rx="2.59" ry="2.07" fill="#E0FFFF"/>
<ellipse cx="123.4" cy="163.7" rx="4.83" ry="6.21" fill="#E0FFFF"/>
<ellipse cx="123.8" cy="162.7" rx="3.28" ry="4.26" fill="#66CDAA"/>
<ellipse cx="124.1" cy="162" rx="1.86" ry="2.48" fill="#3CB371"/>
<path d="M79.8 162.6C81.3 161.1 86.7 160.7 88.8 161.3C90.8 161.8 91.6 164 92.1 165.9C92.5 167.7 92.8 171.1 91.7 172.4C90.6 173.7 87.5 174.1 85.5 173.7C83.5 173.3 80.7 171.8 79.8 170C78.8 168.1 78.3 164 79.8 162.6Z" fill="#D26A82"/>
<ellipse cx="88.2" cy="167.5" rx="2.8" ry="3.42" fill="#C84A72"/>
<ellipse cx="88.2" cy="168.5" rx="1.24" ry="1.09" fill="#E08262"/>
<ellipse cx="88.2" cy="168.7" rx="0.62" ry="0.54" fill="#C24E0E"/>
<ellipse cx="80.7" cy="174.7" rx="3.28" ry="4.26" transform="rotate(-20 80.7 174.7)" fill="#D26A82"/>
<ellipse cx="80.7" cy="174.7" rx="2.02" ry="2.95" transform="rotate(-20 80.7 174.7)" fill="#C84A72"/>
<ellipse cx="80.4" cy="174.4" rx="1.09" ry="1.55" transform="rotate(-20 80.4 174.4)" fill="#B84A62"/>
<ellipse cx="94.4" cy="165.4" rx="2.07" ry="2.24" fill="#E0FFFF"/>
<path d="M97.5 168.1C98.8 166.6 104.4 166 108.1 166.1C111.8 166.3 116.7 168 119.6 169.1C122.5 170.2 124.5 171.1 125.3 172.7C126.2 174.3 126 177.4 124.5 178.4C123 179.5 119 179.2 116.3 178.9C113.6 178.7 110.9 177.4 108.1 176.8C105.4 176.2 101.7 176.6 99.9 175.2C98.1 173.7 96.1 169.6 97.5 168.1Z" fill="#D26A82"/>
<path d="M99.3 169.3C100.6 168.3 105.1 167.6 108.3 167.8C111.5 167.9 115.9 169.4 118.4 170.4C121 171.4 122.8 172.3 123.5 173.5C124.3 174.7 124 176.7 122.8 177.4C121.5 178.1 118.5 178 116.1 177.7C113.7 177.4 110.9 176.1 108.3 175.5C105.8 174.9 102.4 175 100.9 174C99.4 172.9 98.1 170.3 99.3 169.3Z" fill="#C84A72"/>
<ellipse cx="104.4" cy="170.9" rx="4.97" ry="2.48" fill="#B84A62"/>
<ellipse cx="114.4" cy="174.1" rx="4.35" ry="2.8" fill="#B84A62"/>
<ellipse cx="122" cy="175.8" rx="2.17" ry="2.48" fill="#B84A62"/>
<ellipse cx="121.5" cy="175.6" rx="1.24" ry="1.09" fill="#E08262"/>
<path d="M91.5 178.2C92.9 176.8 99.1 177.5 102.7 177.5C106.3 177.5 111.2 177.3 113.1 178.2C114.9 179.1 115.4 181.5 113.9 183C112.5 184.5 107.7 186.9 104.4 187.3C101.1 187.8 96.2 187.1 94.1 185.6C91.9 184.1 90.1 179.5 91.5 178.2Z" fill="#E0FFFF"/>
<path d="M94.2 179.4C95.4 178.4 100 178.7 102.7 178.7C105.5 178.7 109.5 178.7 110.9 179.4C112.4 180 112.4 181.5 111.3 182.6C110.1 183.7 106.6 185.6 104.1 185.9C101.5 186.2 97.5 185.7 95.9 184.6C94.2 183.5 93.1 180.3 94.2 179.4Z" fill="#66CDAA"/>
<ellipse cx="102.4" cy="182.2" rx="4.97" ry="2.33" fill="#3CB371"/>
<ellipse cx="101" cy="182.3" rx="1.86" ry="1.09" fill="#008B8B"/>
<ellipse cx="86.8" cy="180.4" rx="4.14" ry="4.31" fill="#E0FFFF"/>
<ellipse cx="99.4" cy="190.9" rx="3.36" ry="3.05" fill="#E0FFFF"/>
<ellipse cx="125" cy="180.6" rx="2.2" ry="3.85" transform="rotate(15 125 180.6)" fill="#C24E0E"/>
<ellipse cx="125" cy="180.3" rx="0.96" ry="1.92" transform="rotate(15 125 180.3)" fill="#A23E0C"/>
</g>
<g transform="translate(20.5 156.9)" fill="none" stroke-linejoin="round"><use href="#pv" stroke="#0a0a0a" stroke-width="0.75"/><use href="#cn" stroke="#000" stroke-width="0.95"/><use href="#co" stroke="#000" stroke-width="1.5"/></g>
<g transform="translate(133.60 165.30)">
<rect width="24.90" height="31.10" fill="#fff"/>
<path d="M0.4 0.4 L17.6 0.4 C15.5 2.2 12 4 8.5 4.7 C5.5 5.2 2.5 3.8 0.4 0.4Z" fill="#66CDAA" stroke="#000" stroke-width="1.1"/>
<circle cx="5.8" cy="7.3" r="1.35" fill="#66CDAA" stroke="#000" stroke-width="0.8"/>
<path d="M18 0.4 L22.4 0.4 L21.4 3.6 L19.4 2.4Z" fill="#C24E0E" stroke="#000" stroke-width="0.6"/>
<use href="#dots"/>
<rect width="24.90" height="31.10" fill="none" stroke="#333" stroke-width="0.75"/>
</g>
<rect x="20.50" y="113.65" width="138.00" height="82.75" fill="none" stroke="#3a3a3a" stroke-width="0.75"/>
<path d="M21.15 196.40 v0.9M25.49 196.40 v0.9M29.82 196.40 v0.9M34.16 196.40 v0.9M38.49 196.40 v1.7M42.83 196.40 v0.9M47.17 196.40 v0.9M51.50 196.40 v0.9M55.84 196.40 v0.9M60.17 196.40 v1.7M64.51 196.40 v0.9M68.85 196.40 v0.9M73.18 196.40 v0.9M77.52 196.40 v0.9M81.85 196.40 v1.7M86.19 196.40 v0.9M90.53 196.40 v0.9M94.86 196.40 v0.9M99.20 196.40 v0.9M103.53 196.40 v1.7M107.87 196.40 v0.9M112.21 196.40 v0.9M116.54 196.40 v0.9M120.88 196.40 v0.9M125.21 196.40 v1.7M129.55 196.40 v0.9M133.89 196.40 v0.9M138.22 196.40 v0.9M142.56 196.40 v0.9M146.89 196.40 v1.7M151.23 196.40 v0.9M155.57 196.40 v0.9M20.50 193.79 h-0.9M20.50 189.45 h-1.7M20.50 185.11 h-0.9M20.50 180.77 h-0.9M20.50 176.43 h-0.9M20.50 172.09 h-0.9M20.50 167.75 h-1.7M20.50 163.41 h-0.9M20.50 159.07 h-0.9M20.50 154.73 h-0.9M20.50 150.39 h-0.9M20.50 146.05 h-1.7M20.50 141.71 h-0.9M20.50 137.37 h-0.9M20.50 133.03 h-0.9M20.50 128.69 h-0.9M20.50 124.35 h-1.7M20.50 120.01 h-0.9M20.50 115.67 h-0.9" fill="none" stroke="#3a3a3a" stroke-width="0.45"/>
<text class="k" x="17.40" y="126.05" text-anchor="end">50°N</text>
<text class="k" x="17.40" y="147.75" text-anchor="end">40°N</text>
<text class="k" x="17.40" y="169.45" text-anchor="end">30°N</text>
<text class="k" x="17.40" y="191.15" text-anchor="end">20°N</text>
<text class="l" x="21.40" y="109.95">d</text>
<text class="t" x="88.65" y="110.35">Mode 4 of pentad 40</text>
<clipPath id="c4"><use href="#cn" transform="translate(165.4 156.9)"/></clipPath>
<g clip-path="url(#c4)">
<rect x="165.4" y="113.7" width="138" height="82.8" fill="#E0FFFF"/>
<path d="M184 135.6C185.7 133.8 190.9 132 196.1 132.1C201.2 132.3 211.7 134.6 215 136.4C218.4 138.3 218.5 141.9 215.9 143.3C213.3 144.8 204.5 145.2 199.5 145.1C194.5 144.9 188.3 144.1 185.7 142.5C183.1 140.9 182.3 137.3 184 135.6Z" fill="#AFEEEE"/>
<ellipse cx="201.2" cy="138.5" rx="7.38" ry="1.48" transform="rotate(3 201.2 138.5)" fill="#66CDAA"/>
<ellipse cx="200.4" cy="138.5" rx="3.42" ry="0.62" transform="rotate(3 200.4 138.5)" fill="#3CB371"/>
<path d="M198.6 148.5C202.4 146.9 208 145.9 213.3 145.9C218.6 145.9 227.6 145.5 230.6 148.5C233.6 151.5 233.7 161 231.4 164C229.1 167.1 221.8 166.6 216.8 166.6C211.7 166.6 205.6 164.8 201.2 164C196.9 163.3 193.8 163.2 190.9 162.3C188 161.5 184 160 184 158.9C184 157.7 188.4 157.1 190.9 155.4C193.3 153.7 194.9 150.1 198.6 148.5Z" fill="#AFEEEE"/>
<path d="M204.9 149.7C206.5 147.6 211.4 147.9 215.1 148C218.9 148.2 225.2 148.3 227.4 150.5C229.6 152.7 230 159 228.2 161.2C226.5 163.3 220.4 163.4 216.8 163.3C213.1 163.2 208.1 162.6 206.1 160.3C204.1 158.1 203.4 151.7 204.9 149.7Z" fill="#66CDAA"/>
<path d="M207.3 151.5C208.4 150.2 212.6 150.3 215 150.4C217.5 150.6 220.9 150.9 222 152.3C223.2 153.7 223.2 157.5 222 158.8C220.9 160.1 217.4 160.2 215 160.1C212.7 160 209.3 159.6 208 158.2C206.7 156.8 206.1 152.8 207.3 151.5Z" fill="#3CB371"/>
<path d="M179.7 158C180.5 156.9 184.1 156.6 187.4 157.1C190.7 157.7 195.8 160 199.5 161.5C203.3 162.9 205.7 165 209.9 165.8C214 166.5 220.5 164.6 224.5 165.8C228.6 166.9 232.3 169.8 234 172.7C235.8 175.5 236.3 181.2 234.9 183C233.4 184.9 227.6 185.5 225.4 183.9C223.2 182.3 224.8 175.3 221.9 173.5C219.1 171.8 213 174.3 208.1 173.5C203.3 172.8 196.9 170.8 192.6 169.2C188.3 167.6 184.4 165.9 182.3 164C180.1 162.2 178.8 159.2 179.7 158Z" fill="#FFE2E0"/>
<path d="M181.4 159.2C182.1 158.5 184.6 158.2 187.4 158.9C190.3 159.5 195.1 161.6 198.6 163C202.2 164.4 204.8 166.4 209 167.1C213.2 167.9 219.7 166.4 223.7 167.5C227.6 168.6 231.1 171.1 232.6 173.5C234.2 176 234.3 180.6 233.2 182.2C232 183.7 227.5 184 225.7 182.7C224 181.4 225.7 176.1 222.8 174.4C219.9 172.7 213 173.8 208.1 172.7C203.3 171.6 197.6 169.4 193.5 167.8C189.3 166.2 185.1 164.4 183.1 163C181.1 161.6 180.7 159.9 181.4 159.2Z" fill="#FFC0CB"/>
<path d="M193.6 166C194.3 165.6 199.1 166.5 201.8 166.8C204.6 167.2 206.5 167.6 210 168C213.6 168.3 219.9 167.9 223.1 169C226.4 170 228.8 172.8 229.7 174.2C230.6 175.6 229.6 177.3 228.4 177.2C227.1 177 225.5 174.2 222.3 173.4C219.1 172.6 213.3 172.9 209.2 172.2C205.1 171.6 200.3 170.3 197.7 169.3C195.1 168.3 192.9 166.4 193.6 166Z" fill="#D26A82"/>
<path d="M204.9 168.6C205.2 168.2 207.5 168.9 210.3 169C213.1 169.2 219.7 169.1 221.9 169.7C224.1 170.2 224.4 171.7 223.5 172.1C222.6 172.6 219.1 172.3 216.5 172.1C213.9 172 209.9 171.8 208 171.2C206 170.6 204.5 168.9 204.9 168.6Z" fill="#C84A72"/>
<ellipse cx="215" cy="170.4" rx="6.21" ry="0.93" transform="rotate(3 215 170.4)" fill="#B84A62"/>
<ellipse cx="237.1" cy="165.8" rx="4.26" ry="3.93" fill="#66CDAA"/>
<ellipse cx="237.5" cy="165.8" rx="2.48" ry="2.33" fill="#3CB371"/>
<path d="M260.7 127.8C262.1 124.9 267.1 120 270.1 118.3C273.2 116.6 273.6 115.9 278.8 117.5C284 119 297.8 124.4 301.2 127.8C304.7 131.3 302.1 135.1 299.5 138.2C296.9 141.2 290.3 143.8 285.7 145.9C281.1 148.1 274.1 148.9 271.9 151.1C269.6 153.3 272.5 155.8 272.2 158.9C271.9 161.9 270.1 166.9 270.1 169.2C270.2 171.5 273 170.8 272.7 172.7C272.4 174.5 270.3 178.9 268.4 180.4C266.6 182 263.2 184 261.5 182.2C259.8 180.3 260.7 171.3 258.1 169.2C255.5 167.1 248.3 170.3 246 169.6C243.7 168.8 242 165.8 244.3 164.9C246.6 164 257.4 166.3 259.8 164C262.2 161.7 258.9 154.8 258.9 151.1C258.9 147.4 259.4 144.2 259.8 141.6C260.2 139 261.4 137.9 261.5 135.6C261.7 133.3 259.2 130.7 260.7 127.8Z" fill="#FFE2E0"/>
<path d="M272.2 126.9C273.7 124.4 274.1 122.3 278.8 122.6C283.5 122.9 297.2 126.2 300.3 128.7C303.5 131.1 300.3 134.6 297.8 137.3C295.2 140 289.2 142.9 284.8 145.1C280.4 147.2 273.8 148.1 271.5 150.2C269.2 152.4 271.4 155 271 158C270.6 161 269.4 165.8 269.3 168.4C269.1 170.9 270.6 171.8 270.1 173.5C269.7 175.3 268 177.7 266.7 178.7C265.4 179.7 263.5 181.7 262.4 179.6C261.2 177.4 260.1 170.5 259.8 165.8C259.5 161 260.4 155 260.7 151.1C260.9 147.2 259.6 144.6 261.2 142.5C262.8 140.3 268.3 140.7 270.1 138.2C272 135.6 270.8 129.5 272.2 126.9Z" fill="#FFC0CB"/>
<path d="M274.2 124.9C275.7 122.3 279.7 121.8 284 122.4C288.3 123 297.7 126.2 300.1 128.5C302.4 130.8 300.3 134.5 297.9 136.4C295.5 138.2 287.8 138.3 285.6 139.6C283.4 140.9 286.4 143.3 284.8 144.2C283.2 145.2 277.4 146.4 275.8 145.4C274.2 144.3 275.2 141.4 275 138C274.7 134.6 272.7 127.5 274.2 124.9Z" fill="#D26A82"/>
<path d="M278.3 126.9C279.1 125.3 281 124.3 284.2 124.7C287.5 125.1 296.1 127.7 297.9 129.4C299.7 131.1 297.1 133.8 295.1 135C293.1 136.2 288.3 136.6 285.8 136.5C283.3 136.4 281.1 136 279.9 134.4C278.7 132.7 277.6 128.5 278.3 126.9Z" fill="#C84A72"/>
<path d="M279.6 127.8C280.2 126.6 281.8 125.6 284.6 126C287.4 126.3 294.8 128.6 296.4 130C298 131.3 295.9 133.1 294.2 134C292.4 134.9 288 135.4 285.8 135.3C283.6 135.1 281.9 134.3 280.8 133.1C279.8 131.9 279 129 279.6 127.8Z" fill="#B84A62"/>
<ellipse cx="264.1" cy="146.8" rx="4.1" ry="4.1" fill="#D26A82"/>
<ellipse cx="262.6" cy="146.1" rx="1.4" ry="1.4" fill="#C84A72"/>
<ellipse cx="266.4" cy="154" rx="4.59" ry="2.46" fill="#D26A82"/>
<path d="M258.4 160.4C259.2 159 262.2 158.7 264.1 158.8C266.1 158.8 269.1 159.3 270.2 160.8C271.3 162.2 271.6 165.9 270.7 167.3C269.8 168.7 266.9 169.3 265 169.3C263 169.3 260.3 168.8 259.2 167.3C258.1 165.8 257.6 161.9 258.4 160.4Z" fill="#D26A82"/>
<ellipse cx="264.6" cy="164.4" rx="4.66" ry="3.73" fill="#C84A72"/>
<ellipse cx="264.6" cy="164.6" rx="3.42" ry="2.64" fill="#B84A62"/>
<path d="M244.7 165.5C245.9 164.8 250.4 164.5 252.9 164.5C255.3 164.5 258.3 164.8 259.4 165.5C260.5 166.2 260.5 168.1 259.4 168.8C258.3 169.4 255.2 169.4 252.9 169.4C250.5 169.4 246.9 169.4 245.5 168.8C244.1 168.1 243.4 166.2 244.7 165.5Z" fill="#D26A82"/>
<ellipse cx="252.9" cy="167" rx="5.44" ry="1.24" fill="#C84A72"/>
<ellipse cx="242.5" cy="153.7" rx="3.8" ry="5.18" fill="#AFEEEE"/>
<path d="M249.4 151.9C250.5 150.7 254.5 150.3 256.3 150.9C258 151.5 259.4 153.8 259.9 155.5C260.4 157.2 260.4 160.1 259.2 161.2C258.1 162.3 254.6 162.6 253 162C251.4 161.5 250.3 159.6 249.7 157.9C249.1 156.2 248.3 153 249.4 151.9Z" fill="#66CDAA"/>
<ellipse cx="255.7" cy="158" rx="2.8" ry="2.48" fill="#3CB371"/>
<ellipse cx="238.2" cy="164.9" rx="4.59" ry="3.28" fill="#66CDAA"/>
<ellipse cx="238.4" cy="164.9" rx="2.8" ry="2.02" fill="#3CB371"/>
<ellipse cx="250.3" cy="173.2" rx="4.83" ry="3.45" fill="#AFEEEE"/>
<ellipse cx="244.3" cy="179.2" rx="4.92" ry="2.62" fill="#66CDAA"/>
<ellipse cx="244.3" cy="179.4" rx="3.11" ry="1.55" fill="#3CB371"/>
<path d="M236.5 181.6C238.5 180.7 244.8 182.4 249.4 182.2C254 182 260.9 181.4 264.1 180.4C267.3 179.4 267.3 176.4 268.4 176.1C269.6 175.8 271.7 177.1 271 178.7C270.3 180.3 267.7 183.9 264.1 185.6C260.5 187.3 253.9 188.5 249.4 188.9C245 189.3 239.5 189.1 237.4 187.9C235.2 186.6 234.5 182.6 236.5 181.6Z" fill="#FFE2E0"/>
<path d="M239.1 183C240.7 182.4 245.4 183.6 249.4 183.4C253.5 183.1 261.1 181.4 263.2 181.6C265.4 181.9 264.7 184.1 262.4 185.1C260.1 186.1 253.2 187.6 249.4 187.9C245.7 188.1 241.7 187.6 240 186.8C238.2 186 237.5 183.6 239.1 183Z" fill="#FFC0CB"/>
<ellipse cx="268.4" cy="173.5" rx="2.76" ry="6.04" fill="#FFC0CB"/>
<ellipse cx="227.9" cy="174.7" rx="2.62" ry="1.97" fill="#D26A82"/>
<ellipse cx="244.4" cy="190.9" rx="3.19" ry="2.9" fill="#D26A82"/>
<ellipse cx="270" cy="180.6" rx="2.44" ry="4.27" transform="rotate(15 270 180.6)" fill="#FFE2E0"/>
</g>
<g transform="translate(165.4 156.9)" fill="none" stroke-linejoin="round"><use href="#pv" stroke="#0a0a0a" stroke-width="0.75"/><use href="#cn" stroke="#000" stroke-width="0.95"/><use href="#co" stroke="#000" stroke-width="1.5"/></g>
<g transform="translate(278.50 165.30)">
<rect width="24.90" height="31.10" fill="#fff"/>
<path d="M0.4 0.4 L17.6 0.4 C15.5 2.2 12 4 8.5 4.7 C5.5 5.2 2.5 3.8 0.4 0.4Z" fill="#FFC0CB" stroke="#000" stroke-width="1.1"/>
<circle cx="5.8" cy="7.3" r="1.35" fill="#FFC0CB" stroke="#000" stroke-width="0.8"/>
<path d="M18 0.4 L22.4 0.4 L21.4 3.6 L19.4 2.4Z" fill="#FFE2E0" stroke="#000" stroke-width="0.6"/>
<use href="#dots"/>
<rect width="24.90" height="31.10" fill="none" stroke="#333" stroke-width="0.75"/>
</g>
<rect x="165.40" y="113.65" width="138.00" height="82.75" fill="none" stroke="#3a3a3a" stroke-width="0.75"/>
<path d="M166.05 196.40 v0.9M170.39 196.40 v0.9M174.72 196.40 v0.9M179.06 196.40 v0.9M183.39 196.40 v1.7M187.73 196.40 v0.9M192.07 196.40 v0.9M196.40 196.40 v0.9M200.74 196.40 v0.9M205.07 196.40 v1.7M209.41 196.40 v0.9M213.75 196.40 v0.9M218.08 196.40 v0.9M222.42 196.40 v0.9M226.75 196.40 v1.7M231.09 196.40 v0.9M235.43 196.40 v0.9M239.76 196.40 v0.9M244.10 196.40 v0.9M248.43 196.40 v1.7M252.77 196.40 v0.9M257.11 196.40 v0.9M261.44 196.40 v0.9M265.78 196.40 v0.9M270.11 196.40 v1.7M274.45 196.40 v0.9M278.79 196.40 v0.9M283.12 196.40 v0.9M287.46 196.40 v0.9M291.79 196.40 v1.7M296.13 196.40 v0.9M300.47 196.40 v0.9M165.40 193.79 h-0.9M165.40 189.45 h-1.7M165.40 185.11 h-0.9M165.40 180.77 h-0.9M165.40 176.43 h-0.9M165.40 172.09 h-0.9M165.40 167.75 h-1.7M165.40 163.41 h-0.9M165.40 159.07 h-0.9M165.40 154.73 h-0.9M165.40 150.39 h-0.9M165.40 146.05 h-1.7M165.40 141.71 h-0.9M165.40 137.37 h-0.9M165.40 133.03 h-0.9M165.40 128.69 h-0.9M165.40 124.35 h-1.7M165.40 120.01 h-0.9M165.40 115.67 h-0.9" fill="none" stroke="#3a3a3a" stroke-width="0.45"/>
<text class="l" x="166.30" y="109.95">e</text>
<text class="t" x="233.55" y="110.35">Mode 5 of pentad 40</text>
<clipPath id="c5"><use href="#cn" transform="translate(309.7 156.9)"/></clipPath>
<g clip-path="url(#c5)">
<rect x="309.7" y="113.7" width="138" height="82.8" fill="#FFE2E0"/>
<path d="M327.3 134.7C330.7 132.3 335 129.2 339.3 128.7C343.6 128.1 350.3 129.4 353.1 131.3C356 133.1 358 138 356.6 139.9C355.2 141.8 348.5 142.2 344.5 142.5C340.5 142.8 335 140.6 332.4 141.6C329.8 142.6 331 146.4 329 148.5C327 150.7 322.9 154.6 320.4 154.6C317.8 154.6 313.7 150.4 313.5 148.5C313.2 146.6 316.3 145.6 318.6 143.3C320.9 141 323.8 137.2 327.3 134.7Z" fill="#E0FFFF"/>
<ellipse cx="338.5" cy="137.3" rx="6.21" ry="2.42" transform="rotate(5 338.5 137.3)" fill="#AFEEEE"/>
<ellipse cx="335.9" cy="136.8" rx="1.97" ry="0.82" fill="#66CDAA"/>
<path d="M330.7 144.2C332.1 142.2 339.6 143.2 344.5 142.5C349.4 141.8 356.9 138.9 360 139.9C363.2 140.9 364.6 145.9 363.5 148.5C362.3 151.1 357.7 154.4 353.1 155.4C348.5 156.4 339.6 156.4 335.9 154.6C332.1 152.7 329.3 146.2 330.7 144.2Z" fill="#FFD2D6"/>
<ellipse cx="331.6" cy="161.5" rx="6.9" ry="4.31" fill="#FFD2D6"/>
<path d="M336.7 159.7C338.5 158.4 344.8 157.3 348 158C351.1 158.7 354.7 162 355.7 164C356.7 166.1 355.9 169.1 354 170.1C352.1 171.1 347.2 170.8 344.5 170.1C341.8 169.4 338.9 167.5 337.6 165.8C336.3 164 335 161 336.7 159.7Z" fill="#E0FFFF"/>
<ellipse cx="346.2" cy="164" rx="6.9" ry="3.8" transform="rotate(20 346.2 164)" fill="#AFEEEE"/>
<path d="M348.8 148.5C350.8 146.5 355.2 146.5 361.8 145.1C368.3 143.6 383.6 139 388 139.9C392.4 140.7 389.8 147.6 388 150.2C386.2 152.8 378.8 152.5 377.3 155.4C375.8 158.3 380.5 164.5 379 167.5C377.6 170.5 372.7 172.8 368.7 173.5C364.6 174.3 357.3 173.4 354.9 171.8C352.4 170.2 354.9 166.5 354 164C353.1 161.6 350.6 159.7 349.7 157.1C348.8 154.6 346.8 150.5 348.8 148.5Z" fill="#FFC0CB"/>
<path d="M362.1 148.7C363.1 147.8 366.5 147.1 368.6 147.4C370.8 147.6 374 149 374.9 150.3C375.7 151.6 375.2 154.1 373.9 154.9C372.6 155.7 368.9 155.6 367 155.2C365.1 154.9 363.2 153.9 362.4 152.8C361.6 151.7 361 149.6 362.1 148.7Z" fill="#D26A82"/>
<ellipse cx="368.7" cy="151.3" rx="4.97" ry="2.48" transform="rotate(10 368.7 151.3)" fill="#C84A72"/>
<ellipse cx="369.5" cy="150.9" rx="3.11" ry="1.4" transform="rotate(10 369.5 150.9)" fill="#B84A62"/>
<ellipse cx="374.2" cy="164.4" rx="3.61" ry="3.61" fill="#D26A82"/>
<ellipse cx="374.2" cy="165.1" rx="1.55" ry="1.86" fill="#C84A72"/>
<ellipse cx="383.9" cy="167.8" rx="4.04" ry="1.55" transform="rotate(-30 383.9 167.8)" fill="#C84A72"/>
<ellipse cx="383.9" cy="167.8" rx="2.48" ry="0.78" transform="rotate(-30 383.9 167.8)" fill="#B84A62"/>
<path d="M368.7 174.4C370.4 173.1 376.6 171.8 379 172.7C381.5 173.5 383.1 177.1 383.3 179.6C383.6 182 382.6 186.2 380.8 187.3C378.9 188.5 374.1 187.6 372.1 186.5C370.1 185.3 369.2 182.4 368.7 180.4C368.1 178.4 366.9 175.7 368.7 174.4Z" fill="#E0FFFF"/>
<ellipse cx="373.5" cy="173.9" rx="1.97" ry="1.15" fill="#D26A82"/>
<path d="M366.8 138.2C370.6 136.4 382.6 136.7 389.3 136.1C395.9 135.5 403.2 133.7 406.5 134.4C409.8 135 410.5 138.2 409.1 139.9C407.7 141.5 402.4 143.2 397.9 144.2C393.4 145.2 387.5 145.5 382.4 145.9C377.2 146.4 369.4 148.1 366.8 146.8C364.2 145.5 363.1 139.9 366.8 138.2Z" fill="#FFD2D6"/>
<ellipse cx="416.5" cy="125.2" rx="5.18" ry="6.56" fill="#E0FFFF"/>
<ellipse cx="422.9" cy="143" rx="6.56" ry="3.11" transform="rotate(-15 422.9 143)" fill="#E0FFFF"/>
<path d="M422.1 126.1C423.1 123.8 425.1 122.2 429 122.6C432.8 123.1 443.3 126.2 445.3 128.7C447.4 131.1 443.5 135.4 441 137.3C438.6 139.2 433.7 140 430.7 139.9C427.7 139.7 424.4 138.7 422.9 136.4C421.5 134.1 421 128.4 422.1 126.1Z" fill="#FFC0CB"/>
<path d="M436.4 129.7C437.9 128.8 443.8 127.7 445.1 128.3C446.4 128.9 445.2 132 444.3 133.3C443.3 134.5 440.7 135.9 439.4 135.9C438 135.9 436.9 134.3 436.4 133.3C435.9 132.2 435 130.5 436.4 129.7Z" fill="#D26A82"/>
<ellipse cx="441.9" cy="131.8" rx="3.11" ry="1.86" transform="rotate(-25 441.9 131.8)" fill="#C84A72"/>
<path d="M387.5 148.5C390.3 144.6 398.8 143.5 403.1 142.5C407.4 141.5 411.1 141 413.4 142.5C415.8 143.9 416.7 148.4 417.2 151.1C417.7 153.8 417.9 156.4 416.5 158.9C415.2 161.3 410.5 163.5 409.1 165.8C407.7 168.1 411.6 171.2 408.2 172.7C404.9 174.1 392.9 175.5 389.3 174.4C385.7 173.2 387 170.1 386.7 165.8C386.4 161.5 384.8 152.4 387.5 148.5Z" fill="#E0FFFF"/>
<path d="M403.7 143.7C405 141.8 409.2 141.2 410.8 142.1C412.4 142.9 412.2 147.1 413.3 148.6C414.3 150.1 416.4 149.6 416.9 151.1C417.4 152.6 417.9 156.4 416.2 157.6C414.5 158.9 408.9 159.5 406.7 158.8C404.5 158.1 403.6 156.1 403.1 153.5C402.6 151 402.5 145.6 403.7 143.7Z" fill="#66CDAA"/>
<path d="M405 145.4C405.9 143.9 409.1 143.4 410.3 144.1C411.4 144.8 411 148.2 411.8 149.5C412.6 150.9 414.5 151 414.9 152.2C415.4 153.4 415.9 155.7 414.6 156.5C413.3 157.4 408.8 158 407.2 157.3C405.5 156.7 404.9 154.6 404.5 152.7C404.2 150.7 404 146.8 405 145.4Z" fill="#3CB371"/>
<ellipse cx="407" cy="146.1" rx="1.4" ry="1.24" fill="#008B8B"/>
<ellipse cx="410.3" cy="155.4" rx="3.11" ry="1.55" fill="#008B8B"/>
<path d="M398.3 154.8C399.7 152.9 403.7 152.6 406.5 152.6C409.3 152.6 413.8 153.3 415 154.8C416.3 156.2 415.2 159.5 413.9 161.3C412.6 163.1 409.9 165 407.3 165.4C404.7 165.9 399.8 165.9 398.3 164.1C396.8 162.3 397 156.7 398.3 154.8Z" fill="#66CDAA"/>
<path d="M400.3 156.1C401.3 154.7 404.4 154.5 406.5 154.5C408.7 154.5 412.4 155.1 413.4 156.1C414.3 157.1 413.2 159.2 412.1 160.4C411 161.7 408.8 163.2 406.8 163.5C404.9 163.9 401.4 163.8 400.3 162.6C399.2 161.4 399.3 157.4 400.3 156.1Z" fill="#3CB371"/>
<path d="M389.7 164.1C390.7 162.1 392.4 158.9 394.6 157.5C396.8 156.2 400.6 155.6 402.8 155.9C405.1 156.2 407.3 157 408.1 159.2C408.9 161.4 408.9 166.7 407.7 169C406.6 171.3 403.6 172.4 401.2 173.1C398.7 173.8 395 173.7 393 173.1C390.9 172.6 389.4 171.3 388.9 169.8C388.3 168.3 388.8 166.2 389.7 164.1Z" fill="#66CDAA"/>
<path d="M391.4 164.5C392.3 162.8 393.8 160.3 395.6 159.2C397.4 158.1 400.5 157.5 402.3 157.6C404.1 157.8 405.8 158.5 406.5 160.3C407.1 162 407.1 166.2 406.2 168C405.2 169.9 402.8 171 400.7 171.6C398.6 172.2 395.3 172 393.6 171.6C391.9 171.2 390.8 170.3 390.5 169.1C390.1 167.9 390.6 166.1 391.4 164.5Z" fill="#3CB371"/>
<path d="M392 165.1C393.1 163.7 396 160.7 397.9 159.9C399.8 159 402.2 159 403.3 159.9C404.5 160.7 405.3 163.2 404.9 165C404.5 166.7 402.8 169.5 401 170.4C399.2 171.4 395.6 171 394 170.7C392.4 170.4 391.7 169.5 391.4 168.6C391 167.6 390.9 166.6 392 165.1Z" fill="#008B8B"/>
<ellipse cx="396.2" cy="168" rx="5.28" ry="3.42" transform="rotate(-15 396.2 168)" fill="#6495ED"/>
<ellipse cx="396.5" cy="167.8" rx="3.42" ry="2.17" transform="rotate(-15 396.5 167.8)" fill="#4169E1"/>
<ellipse cx="397" cy="167.5" rx="1.4" ry="0.93" fill="#191970"/>
<ellipse cx="413.4" cy="169.2" rx="3.61" ry="4.26" fill="#D26A82"/>
<ellipse cx="413.4" cy="169.2" rx="2.33" ry="2.8" fill="#C84A72"/>
<ellipse cx="407.4" cy="175.3" rx="5.18" ry="4.49" fill="#FFC0CB"/>
<ellipse cx="407" cy="174.7" rx="2.95" ry="2.62" fill="#D26A82"/>
<ellipse cx="395.3" cy="176.1" rx="5.18" ry="3.11" fill="#E0FFFF"/>
<path d="M380.6 178.2C381.8 176.6 386.7 176.5 389.3 176.5C391.9 176.5 393.1 177.7 396.2 178.2C399.2 178.7 405.4 178.6 407.4 179.6C409.4 180.5 409.8 182.6 408.2 183.9C406.7 185.2 401.1 186.6 397.9 187.3C394.7 188.1 391.9 188.5 389.3 188.2C386.7 187.9 383.8 187.5 382.4 185.8C380.9 184.1 379.5 179.7 380.6 178.2Z" fill="#E0FFFF"/>
<path d="M382.6 179.4C383.6 178.2 387.3 177.7 389.5 177.7C391.7 177.7 393.3 178.9 396.1 179.4C398.8 179.9 404.1 179.8 405.9 180.5C407.7 181.3 408.1 182.9 406.7 183.8C405.3 184.8 400.6 185.7 397.7 186.3C394.8 186.8 391.8 187.3 389.5 187.1C387.2 186.9 384.9 186.2 383.8 185C382.6 183.7 381.7 180.6 382.6 179.4Z" fill="#66CDAA"/>
<ellipse cx="389.3" cy="182.2" rx="4.97" ry="2.8" fill="#3CB371"/>
<ellipse cx="388.9" cy="183.9" rx="1.86" ry="1.4" fill="#6495ED"/>
<ellipse cx="388.9" cy="184.1" rx="0.93" ry="0.62" fill="#4169E1"/>
<ellipse cx="374.1" cy="154.6" rx="3.28" ry="4.59" fill="#D26A82"/>
<ellipse cx="376.3" cy="165.8" rx="5.74" ry="3.28" fill="#D26A82"/>
<ellipse cx="384.1" cy="174.4" rx="4.83" ry="2.76" fill="#AFEEEE"/>
<ellipse cx="389.4" cy="190.9" rx="3.36" ry="3.05" fill="#E0FFFF"/>
<ellipse cx="415" cy="180.6" rx="2.2" ry="3.85" transform="rotate(15 415 180.6)" fill="#3CB371"/>
<ellipse cx="415" cy="180.3" rx="0.96" ry="1.92" transform="rotate(15 415 180.3)" fill="#008B8B"/>
</g>
<g transform="translate(309.7 156.9)" fill="none" stroke-linejoin="round"><use href="#pv" stroke="#0a0a0a" stroke-width="0.75"/><use href="#cn" stroke="#000" stroke-width="0.95"/><use href="#co" stroke="#000" stroke-width="1.5"/></g>
<g transform="translate(422.80 165.30)">
<rect width="24.90" height="31.10" fill="#fff"/>
<path d="M0.4 0.4 L17.6 0.4 C15.5 2.2 12 4 8.5 4.7 C5.5 5.2 2.5 3.8 0.4 0.4Z" fill="#66CDAA" stroke="#000" stroke-width="1.1"/>
<circle cx="5.8" cy="7.3" r="1.35" fill="#66CDAA" stroke="#000" stroke-width="0.8"/>
<path d="M18 0.4 L22.4 0.4 L21.4 3.6 L19.4 2.4Z" fill="#3CB371" stroke="#000" stroke-width="0.6"/>
<use href="#dots"/>
<rect width="24.90" height="31.10" fill="none" stroke="#333" stroke-width="0.75"/>
</g>
<rect x="309.70" y="113.65" width="138.00" height="82.75" fill="none" stroke="#3a3a3a" stroke-width="0.75"/>
<path d="M310.35 196.40 v0.9M314.69 196.40 v0.9M319.02 196.40 v0.9M323.36 196.40 v0.9M327.69 196.40 v1.7M332.03 196.40 v0.9M336.37 196.40 v0.9M340.70 196.40 v0.9M345.04 196.40 v0.9M349.37 196.40 v1.7M353.71 196.40 v0.9M358.05 196.40 v0.9M362.38 196.40 v0.9M366.72 196.40 v0.9M371.05 196.40 v1.7M375.39 196.40 v0.9M379.73 196.40 v0.9M384.06 196.40 v0.9M388.40 196.40 v0.9M392.73 196.40 v1.7M397.07 196.40 v0.9M401.41 196.40 v0.9M405.74 196.40 v0.9M410.08 196.40 v0.9M414.41 196.40 v1.7M418.75 196.40 v0.9M423.09 196.40 v0.9M427.42 196.40 v0.9M431.76 196.40 v0.9M436.09 196.40 v1.7M440.43 196.40 v0.9M444.77 196.40 v0.9M309.70 193.79 h-0.9M309.70 189.45 h-1.7M309.70 185.11 h-0.9M309.70 180.77 h-0.9M309.70 176.43 h-0.9M309.70 172.09 h-0.9M309.70 167.75 h-1.7M309.70 163.41 h-0.9M309.70 159.07 h-0.9M309.70 154.73 h-0.9M309.70 150.39 h-0.9M309.70 146.05 h-1.7M309.70 141.71 h-0.9M309.70 137.37 h-0.9M309.70 133.03 h-0.9M309.70 128.69 h-0.9M309.70 124.35 h-1.7M309.70 120.01 h-0.9M309.70 115.67 h-0.9" fill="none" stroke="#3a3a3a" stroke-width="0.45"/>
<text class="l" x="310.60" y="109.95">f</text>
<text class="t" x="377.85" y="110.35">Mode 6 of pentad 40</text>
<clipPath id="c6"><use href="#cn" transform="translate(20.5 257.7)"/></clipPath>
<g clip-path="url(#c6)">
<rect x="20.5" y="214.3" width="138" height="81.9" fill="#E0FFFF"/>
<path d="M41.6 235.6C43.6 234 50.5 232.8 54.5 233C58.5 233.1 63.9 234.6 65.7 236.4C67.5 238.2 67.4 242.3 65.2 243.7C63.1 245.1 56.6 244.9 52.8 244.7C49 244.5 44.3 244 42.4 242.5C40.6 240.9 39.6 237.2 41.6 235.6Z" fill="#AFEEEE"/>
<ellipse cx="53.1" cy="239.4" rx="6.89" ry="1.48" transform="rotate(3 53.1 239.4)" fill="#66CDAA"/>
<ellipse cx="51.9" cy="239.4" rx="3.11" ry="0.7" transform="rotate(3 51.9 239.4)" fill="#3CB371"/>
<ellipse cx="38.1" cy="253.3" rx="1.73" ry="1.38" fill="#FFE2E0"/>
<path d="M35.2 258C36.3 256.8 41.2 256.8 45.9 256.8C50.5 256.8 57.8 257.4 63.1 258C68.5 258.6 74.1 260.6 77.8 260.6C81.5 260.6 84.1 257.4 85.6 258C87 258.6 85.3 262.7 86.4 264C87.6 265.3 91.6 264.5 92.5 265.8C93.3 267.1 93.6 270.9 91.6 271.8C89.6 272.7 83.7 272 80.4 270.9C77.1 269.9 76.1 266.7 71.8 265.8C67.5 264.8 60 265.7 54.5 265.4C49 265.1 42.2 265.3 39 264C35.8 262.8 34 259.2 35.2 258Z" fill="#FFE2E0"/>
<path d="M40.7 259.2C42.9 258.5 49.3 258.2 54.5 258.5C59.7 258.8 68.9 260 71.8 260.9C74.6 261.9 74.6 263.9 71.8 264.4C68.9 264.9 59.5 264.3 54.5 264C49.5 263.8 43.9 263.5 41.6 262.7C39.3 261.9 38.6 259.9 40.7 259.2Z" fill="#FFC0CB"/>
<ellipse cx="84.7" cy="265.8" rx="5.18" ry="3.8" fill="#FFC0CB"/>
<ellipse cx="51.1" cy="269.2" rx="3.11" ry="1.21" fill="#AFEEEE"/>
<ellipse cx="75.2" cy="268.5" rx="2.07" ry="1.73" fill="#AFEEEE"/>
<path d="M76.9 241.6C80.2 240.2 94.5 236.6 98 238.2C101.5 239.7 99.5 248.9 98 251.1C96.5 253.3 92.2 251.8 89 251.1C85.8 250.4 80.7 248.4 78.7 246.8C76.7 245.2 73.7 243 76.9 241.6Z" fill="#FFE2E0"/>
<path d="M76.8 272.2C77.8 270.7 81.4 270.1 82.9 271C84.5 272 85.8 275.4 86.2 277.9C86.6 280.4 86.3 284.4 85.4 285.8C84.4 287.1 81.8 287.1 80.5 286.1C79.1 285.1 77.8 281.9 77.2 279.5C76.6 277.2 75.9 273.6 76.8 272.2Z" fill="#66CDAA"/>
<ellipse cx="81.3" cy="279.6" rx="2.48" ry="5.9" transform="rotate(-8 81.3 279.6)" fill="#3CB371"/>
<ellipse cx="80.7" cy="281.3" rx="1.24" ry="3.11" transform="rotate(-8 80.7 281.3)" fill="#008B8B"/>
<path d="M71.7 243.3C73.4 241.6 77.4 240.9 82 239.9C86.6 238.9 93.5 238 99.3 237.3C105 236.6 113.2 237.7 116.5 235.6C119.8 233.4 117.1 227.2 119.1 224.4C121.1 221.5 125.3 219 128.6 218.3C131.9 217.6 135.5 218.5 139 220C142.4 221.6 149 225.4 149.3 227.8C149.6 230.2 143.6 232.4 140.7 234.7C137.8 237 134.6 240.3 132.1 241.6C129.5 242.9 126.8 241.2 125.1 242.5C123.5 243.8 123.8 248 122 249.4C120.3 250.7 118 250.3 114.8 250.6C111.6 250.9 106.7 251.3 102.7 251.1C98.7 250.9 94.7 249.4 90.6 249.4C86.6 249.4 81.7 251 78.6 251.1C75.4 251.2 72.8 251.5 71.7 250.2C70.5 248.9 69.9 245.1 71.7 243.3Z" fill="#FFE2E0"/>
<path d="M87.2 241.6C88.5 240.1 94.4 239.7 99.3 239C104.2 238.3 113 239.5 116.5 237.3C120 235.1 118.3 228.8 120.3 226.1C122.3 223.3 125.6 221.6 128.6 220.9C131.6 220.2 135.1 220.6 138.1 221.8C141.1 223 146.4 226.2 146.7 228.2C147 230.1 142.4 231.4 139.8 233.3C137.2 235.3 133.8 238.6 131.2 239.9C128.6 241.2 126 239.9 124.3 241.3C122.6 242.6 122.5 246.8 120.8 248.2C119.2 249.5 117.5 249 114.4 249.2C111.4 249.4 106.5 249.8 102.7 249.5C98.9 249.3 94.1 249.1 91.5 247.8C88.9 246.5 85.9 243.1 87.2 241.6Z" fill="#FFC0CB"/>
<path d="M98.2 243.1C99.2 242.1 102.3 241.8 104.5 241.8C106.6 241.9 110.2 242.4 111.3 243.4C112.5 244.5 112.5 247.1 111.3 248C110.2 249 106.6 249.1 104.5 249C102.4 249 99.8 248.7 98.7 247.7C97.7 246.7 97.3 244.1 98.2 243.1Z" fill="#D26A82"/>
<ellipse cx="104.4" cy="245.8" rx="4.35" ry="2.02" fill="#C84A72"/>
<ellipse cx="103.6" cy="246.1" rx="1.86" ry="0.93" fill="#B84A62"/>
<ellipse cx="136.4" cy="231.3" rx="4.92" ry="3.28" transform="rotate(-25 136.4 231.3)" fill="#D26A82"/>
<ellipse cx="136.9" cy="230.9" rx="2.17" ry="1.4" transform="rotate(-25 136.9 230.9)" fill="#C84A72"/>
<ellipse cx="117.6" cy="246.4" rx="2.02" ry="1.86" fill="#C84A72"/>
<ellipse cx="117.6" cy="246.4" rx="1.24" ry="1.24" fill="#B84A62"/>
<path d="M124.3 242.5C125.4 240.8 129.9 240.2 133.8 238.2C137.7 236.1 143.8 232.2 147.6 230.4C151.4 228.6 154.9 227.3 156.6 227.5C158.2 227.6 158.7 229.5 157.2 231.3C155.7 233 150.9 235.9 147.6 238.2C144.2 240.5 140.6 243.4 137.2 245.1C133.8 246.7 129.4 248.6 127.2 248.2C125.1 247.7 123.2 244.1 124.3 242.5Z" fill="#E0FFFF"/>
<path d="M126.8 242.7C127.7 241.5 130.7 241.3 134.2 239.5C137.6 237.6 143.8 233.6 147.3 231.9C150.8 230.3 153.8 229.7 155.1 229.6C156.5 229.6 156.8 230.3 155.5 231.6C154.1 232.8 150 235.2 146.9 237.2C143.9 239.1 140.5 241.8 137.4 243.4C134.4 245 130.2 246.8 128.4 246.7C126.6 246.6 125.8 243.9 126.8 242.7Z" fill="#66CDAA"/>
<path d="M132.1 241.3C133 240.4 136.1 239.4 139.1 237.9C142.1 236.3 148.5 232.4 150 232C151.4 231.6 149.4 233.8 147.6 235.4C145.8 237 141.4 240.3 139.1 241.6C136.8 243 134.8 243.5 133.6 243.5C132.5 243.4 131.2 242.2 132.1 241.3Z" fill="#3CB371"/>
<ellipse cx="138.3" cy="241.3" rx="2.17" ry="1.4" transform="rotate(-25 138.3 241.3)" fill="#6495ED"/>
<ellipse cx="138.4" cy="241.3" rx="1.09" ry="0.7" transform="rotate(-25 138.4 241.3)" fill="#4169E1"/>
<path d="M92.9 261.4C94.3 259.9 99.2 257.7 102.8 256.5C106.3 255.3 112.1 254.2 114.3 254.3C116.4 254.5 117.3 256.1 115.9 257.3C114.5 258.5 108.5 260 106.1 261.4C103.6 262.8 103.1 264.8 101.1 265.5C99.2 266.2 95.9 266.2 94.6 265.5C93.2 264.8 91.6 262.9 92.9 261.4Z" fill="#66CDAA"/>
<path d="M94.6 261.9C95.7 260.8 100 259.2 102.6 258.3C105.3 257.4 109.6 256 110.4 256.3C111.2 256.5 108.9 258.5 107.3 259.8C105.7 261.1 103 263.3 101.1 264C99.2 264.8 96.9 264.9 95.8 264.5C94.7 264.1 93.4 262.9 94.6 261.9Z" fill="#3CB371"/>
<ellipse cx="98.2" cy="262.7" rx="2.8" ry="1.86" transform="rotate(-20 98.2 262.7)" fill="#008B8B"/>
<ellipse cx="98.6" cy="263.4" rx="1.09" ry="0.62" fill="#6495ED"/>
<path d="M115.9 253.1C117.7 252.2 124.4 251.1 126.2 251.9C128.1 252.7 127.6 256 126.9 258C126.1 260 123.3 262.9 121.6 263.7C119.9 264.6 117.8 264 116.7 262.9C115.7 261.8 115.5 258.8 115.4 257.2C115.3 255.5 114.1 253.9 115.9 253.1Z" fill="#66CDAA"/>
<ellipse cx="121.4" cy="255.4" rx="4.35" ry="2.17" transform="rotate(-10 121.4 255.4)" fill="#3CB371"/>
<ellipse cx="119.1" cy="260.9" rx="1.86" ry="2.02" fill="#008B8B"/>
<ellipse cx="118.8" cy="260.9" rx="0.93" ry="1.09" fill="#6495ED"/>
<path d="M111.7 264.9C113.7 264 122.8 263.7 125.1 264.4C127.5 265.1 128 268.4 126 269.2C124 270.1 115.5 270.3 113.1 269.6C110.7 268.8 109.7 265.8 111.7 264.9Z" fill="#FFC0CB"/>
<path d="M113 265.5C114.7 264.9 122.2 264.7 124.2 265.2C126.2 265.7 126.5 267.9 124.8 268.5C123.1 269.1 116 269.3 114 268.8C112.1 268.3 111.3 266.1 113 265.5Z" fill="#D26A82"/>
<ellipse cx="119.1" cy="267" rx="4.97" ry="1.09" fill="#C84A72"/>
<ellipse cx="118.2" cy="267.1" rx="2.17" ry="0.54" fill="#B84A62"/>
<ellipse cx="125.5" cy="269.6" rx="1.48" ry="3.28" fill="#66CDAA"/>
<ellipse cx="89.8" cy="267.8" rx="3.8" ry="4.49" fill="#FFC0CB"/>
<ellipse cx="89.8" cy="267.8" rx="1.97" ry="2.62" fill="#D26A82"/>
<path d="M91.5 270.9C94.1 268.9 104.9 268.2 107.9 270.1C110.9 272 112.2 280.1 109.6 282.2C107 284.2 95.4 284 92.4 282.2C89.3 280.3 88.9 273 91.5 270.9Z" fill="#FFE2E0"/>
<ellipse cx="100.1" cy="276.5" rx="6.9" ry="4.83" fill="#FFC0CB"/>
<ellipse cx="101.3" cy="279.6" rx="4.26" ry="1.97" fill="#D26A82"/>
<ellipse cx="101" cy="279.7" rx="2.48" ry="1.09" fill="#C84A72"/>
<ellipse cx="100.6" cy="279.9" rx="0.93" ry="0.47" fill="#E08262"/>
<path d="M111.4 271.6C113.2 269.7 120.9 270 123.2 270.9C125.4 271.8 125.5 275.1 124.8 277C124.1 278.8 121.2 281.1 119.1 281.9C116.9 282.7 113.3 283.6 112 281.9C110.7 280.2 109.5 273.4 111.4 271.6Z" fill="#66CDAA"/>
<ellipse cx="117.9" cy="275.8" rx="4.35" ry="4.04" fill="#3CB371"/>
<ellipse cx="114.4" cy="280.4" rx="2.17" ry="1.4" fill="#008B8B"/>
<ellipse cx="119.1" cy="274.4" rx="1.86" ry="1.86" fill="#008B8B"/>
<ellipse cx="109.6" cy="283.9" rx="4.59" ry="1.48" transform="rotate(-10 109.6 283.9)" fill="#66CDAA"/>
<ellipse cx="84.1" cy="279.6" rx="2.95" ry="5.25" fill="#66CDAA"/>
<ellipse cx="83.4" cy="279.6" rx="1.4" ry="3.11" fill="#3CB371"/>
<ellipse cx="91.5" cy="285.6" rx="2.42" ry="1.38" fill="#AFEEEE"/>
<ellipse cx="99.4" cy="290.9" rx="3.36" ry="3.05" fill="#E0FFFF"/>
<ellipse cx="125" cy="280.6" rx="2.2" ry="3.85" transform="rotate(15 125 280.6)" fill="#C24E0E"/>
<ellipse cx="125" cy="280.3" rx="0.96" ry="1.92" transform="rotate(15 125 280.3)" fill="#A23E0C"/>
</g>
<g transform="translate(20.5 257.7)" fill="none" stroke-linejoin="round"><use href="#pv" stroke="#0a0a0a" stroke-width="0.75"/><use href="#cn" stroke="#000" stroke-width="0.95"/><use href="#co" stroke="#000" stroke-width="1.5"/></g>
<g transform="translate(133.60 265.10)">
<rect width="24.90" height="31.10" fill="#fff"/>
<path d="M0.4 0.4 L17.6 0.4 C15.5 2.2 12 4 8.5 4.7 C5.5 5.2 2.5 3.8 0.4 0.4Z" fill="#E0FFFF" stroke="#000" stroke-width="1.1"/>
<circle cx="5.8" cy="7.3" r="1.35" fill="#E0FFFF" stroke="#000" stroke-width="0.8"/>
<path d="M18 0.4 L22.4 0.4 L21.4 3.6 L19.4 2.4Z" fill="#C24E0E" stroke="#000" stroke-width="0.6"/>
<use href="#dots"/>
<rect width="24.90" height="31.10" fill="none" stroke="#333" stroke-width="0.75"/>
</g>
<rect x="20.50" y="214.30" width="138.00" height="81.90" fill="none" stroke="#3a3a3a" stroke-width="0.75"/>
<path d="M21.15 296.20 v0.9M25.49 296.20 v0.9M29.82 296.20 v0.9M34.16 296.20 v0.9M38.49 296.20 v1.7M42.83 296.20 v0.9M47.17 296.20 v0.9M51.50 296.20 v0.9M55.84 296.20 v0.9M60.17 296.20 v1.7M64.51 296.20 v0.9M68.85 296.20 v0.9M73.18 296.20 v0.9M77.52 296.20 v0.9M81.85 296.20 v1.7M86.19 296.20 v0.9M90.53 296.20 v0.9M94.86 296.20 v0.9M99.20 296.20 v0.9M103.53 296.20 v1.7M107.87 296.20 v0.9M112.21 296.20 v0.9M116.54 296.20 v0.9M120.88 296.20 v0.9M125.21 296.20 v1.7M129.55 296.20 v0.9M133.89 296.20 v0.9M138.22 296.20 v0.9M142.56 296.20 v0.9M146.89 296.20 v1.7M151.23 296.20 v0.9M155.57 296.20 v0.9M20.50 294.59 h-0.9M20.50 290.25 h-1.7M20.50 285.91 h-0.9M20.50 281.57 h-0.9M20.50 277.23 h-0.9M20.50 272.89 h-0.9M20.50 268.55 h-1.7M20.50 264.21 h-0.9M20.50 259.87 h-0.9M20.50 255.53 h-0.9M20.50 251.19 h-0.9M20.50 246.85 h-1.7M20.50 242.51 h-0.9M20.50 238.17 h-0.9M20.50 233.83 h-0.9M20.50 229.49 h-0.9M20.50 225.15 h-1.7M20.50 220.81 h-0.9M20.50 216.47 h-0.9" fill="none" stroke="#3a3a3a" stroke-width="0.45"/>
<text class="k" x="17.40" y="226.85" text-anchor="end">50°N</text>
<text class="k" x="17.40" y="248.55" text-anchor="end">40°N</text>
<text class="k" x="17.40" y="270.25" text-anchor="end">30°N</text>
<text class="k" x="17.40" y="291.95" text-anchor="end">20°N</text>
<text class="l" x="21.40" y="210.60">g</text>
<text class="t" x="88.65" y="211.00">Mode 7 of pentad 40</text>
<clipPath id="c7"><use href="#cn" transform="translate(165.4 257.7)"/></clipPath>
<g clip-path="url(#c7)">
<rect x="165.4" y="214.3" width="138" height="81.9" fill="#FFE2E0"/>
<ellipse cx="203.3" cy="232.6" rx="5.18" ry="3.11" fill="#E0FFFF"/>
<path d="M204.7 249.4C206.4 246.9 212.5 246.6 216.8 246.8C221.1 246.9 228.1 247.9 230.6 250.2C233 252.5 232.9 258.3 231.4 260.6C230 262.9 226.1 263.9 221.9 264C217.8 264.2 209.3 263.9 206.4 261.5C203.5 259 203 251.8 204.7 249.4Z" fill="#FFC0CB"/>
<path d="M206.5 255.6C207.8 254.7 212.4 254.5 215 254.7C217.7 255 221.3 256.1 222.4 257.2C223.5 258.3 223.1 260.5 221.6 261.3C220.1 262.1 215.8 262.4 213.4 262.1C211 261.8 208.3 260.8 207.1 259.7C206 258.6 205.2 256.4 206.5 255.6Z" fill="#D26A82"/>
<ellipse cx="214.2" cy="258.5" rx="4.04" ry="1.24" transform="rotate(10 214.2 258.5)" fill="#C84A72"/>
<path d="M180.5 259.2C181.1 257.8 187.4 257.6 190.9 258C194.3 258.4 196.9 260.2 201.2 261.5C205.6 262.7 213 264.8 216.8 265.8C220.5 266.8 222.7 266.1 223.7 267.5C224.7 268.9 224.5 273.2 222.8 274.4C221.1 275.6 217.2 275.2 213.3 274.7C209.4 274.3 203.8 273.2 199.5 271.8C195.2 270.5 190.6 268.7 187.4 266.6C184.3 264.5 180 260.6 180.5 259.2Z" fill="#E0FFFF"/>
<path d="M185.7 264C186.6 263.5 192.3 264.2 196.1 264.9C199.8 265.6 204.7 267.5 208.1 268.4C211.6 269.2 215.5 269.2 216.8 270.1C218.1 270.9 218.2 273.2 215.9 273.5C213.6 273.8 207.1 272.7 203 271.8C198.8 270.9 193.8 269.7 190.9 268.4C188 267.1 184.8 264.6 185.7 264Z" fill="#AFEEEE"/>
<ellipse cx="195.7" cy="269.2" rx="3.93" ry="1.64" transform="rotate(20 195.7 269.2)" fill="#66CDAA"/>
<ellipse cx="196.1" cy="269.6" rx="1.86" ry="0.78" transform="rotate(20 196.1 269.6)" fill="#3CB371"/>
<ellipse cx="211.9" cy="271.6" rx="2.95" ry="1.64" fill="#66CDAA"/>
<ellipse cx="212.5" cy="272" rx="1.24" ry="0.78" fill="#3CB371"/>
<path d="M216.8 243.3C217.3 242 222.8 240.7 227.1 239.9C231.5 239 240.4 236.7 243 238.2C245.6 239.6 244.5 246.6 243 248.5C241.5 250.4 237.2 249.5 234 249.4C230.8 249.2 226.5 248.7 223.7 247.6C220.8 246.6 216.2 244.6 216.8 243.3Z" fill="#E0FFFF"/>
<ellipse cx="228" cy="268.4" rx="5.18" ry="5.52" fill="#FFC0CB"/>
<path d="M221.9 273.5C223 272.2 227.3 271.3 228.8 272.3C230.4 273.3 231.3 277.2 231.4 279.6C231.6 281.9 230.9 285.4 229.7 286.5C228.6 287.6 225.8 287.1 224.5 286.1C223.3 285.1 222.7 282.5 222.3 280.4C221.9 278.3 220.9 274.9 221.9 273.5Z" fill="#E0FFFF"/>
<ellipse cx="225.7" cy="279.6" rx="2.42" ry="5.87" fill="#AFEEEE"/>
<ellipse cx="225.1" cy="277.8" rx="1.15" ry="2.62" fill="#66CDAA"/>
<path d="M216.7 241.6C218.4 239.7 222.4 239.2 227 238.2C231.6 237.2 238.5 236.3 244.3 235.6C250 234.9 257.1 233.8 261.5 233.8C266 233.8 269.2 234.1 271 235.6C272.8 237 272.4 240.3 272.2 242.5C272.1 244.6 270.1 245.8 270.1 248.5C270.1 251.2 272.1 255.4 272.2 258.9C272.4 262.3 272.4 267.6 271 269.2C269.7 270.9 265.7 270.6 264.1 268.9C262.5 267.1 264 260.7 261.5 258.9C259.1 257.1 251.7 259.2 249.4 258C247.1 256.9 249.7 253.5 247.7 252C245.7 250.4 241.1 249.1 237.4 248.5C233.6 247.9 228.7 248.4 225.3 248.5C221.8 248.7 218.1 250.5 216.7 249.4C215.2 248.2 214.9 243.5 216.7 241.6Z" fill="#E0FFFF"/>
<ellipse cx="231.3" cy="254.6" rx="5.18" ry="5.18" fill="#FFC0CB"/>
<ellipse cx="266.4" cy="251.1" rx="3.8" ry="5.18" fill="#FFC0CB"/>
<path d="M261.5 227.8C262.2 225.8 265.5 221.6 268.4 220C271.3 218.5 275.9 217.9 278.8 218.3C281.7 218.7 284.8 220.5 285.7 222.6C286.5 224.8 285.7 229.5 284 231.3C282.2 233 278.6 232.8 275.3 233C272 233.1 266.4 233 264.1 232.1C261.8 231.3 260.8 229.8 261.5 227.8Z" fill="#FFC0CB"/>
<path d="M275.3 226.9C276.8 225.1 281.4 223.2 285.7 223.5C290 223.8 298.8 226.7 301.2 228.7C303.7 230.7 302.9 232.6 300.3 235.6C297.8 238.6 290 244.6 285.7 246.8C281.4 248.9 276.7 249.4 274.5 248.5C272.2 247.6 271.8 243.9 272.2 241.6C272.7 239.3 276.5 237.2 277.1 234.7C277.6 232.3 273.9 228.8 275.3 226.9Z" fill="#FFC0CB"/>
<path d="M277.4 228.2C278.6 226.7 281.9 225.5 285.6 225.8C289.3 226 297.4 228.3 299.5 229.8C301.7 231.4 300.8 232.6 298.4 235.1C296 237.6 289.1 243 285.3 244.9C281.5 246.8 277.6 247.1 275.8 246.6C273.9 246 273.6 243.6 274.1 241.7C274.6 239.7 278.2 237.3 278.7 235.1C279.3 232.9 276.3 229.8 277.4 228.2Z" fill="#D26A82"/>
<path d="M283.8 229C285 228 288.4 227.7 290.8 228C293.1 228.2 296.8 229.4 297.7 230.6C298.7 231.8 297.9 234.1 296.2 235.3C294.5 236.4 289.8 237.5 287.7 237.3C285.5 237.1 284 235.5 283.3 234.2C282.7 232.8 282.5 230.1 283.8 229Z" fill="#C84A72"/>
<ellipse cx="290.5" cy="232.6" rx="5.28" ry="2.8" transform="rotate(-10 290.5 232.6)" fill="#B84A62"/>
<path d="M273.9 242.9C274.5 241.6 277.1 239.4 278.8 238.6C280.6 237.7 283.3 237.2 284.3 237.8C285.2 238.4 285.6 241.1 284.7 242.5C283.8 243.8 280.5 245.4 278.8 246C277.2 246.7 275.6 246.9 274.8 246.3C274 245.8 273.2 244.2 273.9 242.9Z" fill="#C84A72"/>
<ellipse cx="279.1" cy="242.5" rx="4.04" ry="1.86" transform="rotate(-35 279.1 242.5)" fill="#B84A62"/>
<ellipse cx="281.5" cy="243.3" rx="0.78" ry="0.62" fill="#E08262"/>
<path d="M223.6 264.9C225.6 262.7 231.6 262.5 233.9 263.2C236.2 263.9 237.1 265.9 237.4 269.2C237.6 272.5 237.4 280.4 235.6 283C233.9 285.6 229.3 285.9 227 284.8C224.7 283.6 222.4 279.4 221.8 276.1C221.3 272.8 221.5 267.1 223.6 264.9Z" fill="#AFEEEE"/>
<path d="M237.6 261.5C238.5 259.9 242.4 259.9 244.5 259.4C246.6 258.8 247.4 258.4 250.3 258.2C253.1 258 259.8 257.5 261.7 258.2C263.6 259 263.6 261.8 261.7 262.7C259.8 263.5 252.4 262.1 250.3 263.2C248.1 264.2 250.4 267.9 248.6 268.9C246.8 269.9 241.4 270.4 239.6 269.2C237.8 268 236.8 263.2 237.6 261.5Z" fill="#66CDAA"/>
<path d="M238.9 262.5C239.6 261.4 242.6 261.1 244.2 260.9C245.8 260.8 248.1 260.6 248.6 261.7C249 262.8 248.4 266.5 247 267.5C245.7 268.5 241.8 268.6 240.5 267.8C239.1 266.9 238.3 263.6 238.9 262.5Z" fill="#3CB371"/>
<ellipse cx="256" cy="260.2" rx="4.97" ry="1.71" fill="#3CB371"/>
<ellipse cx="242.9" cy="264.4" rx="2.17" ry="1.4" fill="#6495ED"/>
<ellipse cx="242.9" cy="264.4" rx="1.24" ry="0.78" fill="#4169E1"/>
<ellipse cx="241.7" cy="277" rx="4.83" ry="4.83" fill="#FFC0CB"/>
<path d="M243.4 267.8C244.8 266.7 249.3 266.6 252.9 266.6C256.5 266.6 261.9 267 265 267.8C268.1 268.7 270.7 269.7 271.5 271.8C272.4 273.9 271.8 278.1 270.1 280.4C268.5 282.7 265 284.5 261.5 285.6C258.1 286.8 253 287.5 249.4 287.3C245.8 287.2 241.2 286.3 240 284.8C238.7 283.2 241 279.7 241.7 277.8C242.4 276 244 275.2 244.3 273.5C244.6 271.9 242 269 243.4 267.8Z" fill="#FFC0CB"/>
<path d="M245.1 268.9C246.2 268 249.9 267.9 253 267.9C256 268 260.9 268.4 263.6 269.2C266.3 270.1 268.6 271.2 269.4 272.9C270.1 274.5 269.6 277.6 268.2 279.4C266.8 281.3 263.9 283 260.8 284C257.8 285 253.1 285.7 250 285.6C246.9 285.6 243.2 284.8 242.1 283.5C241.1 282.3 243.3 279.7 243.9 278.1C244.6 276.5 245.9 275.2 246.1 273.7C246.3 272.1 243.9 269.9 245.1 268.9Z" fill="#D26A82"/>
<path d="M246.5 269.9C247.3 268.7 250.3 269 253 269.1C255.7 269.2 260.7 269.5 262.6 270.5C264.6 271.6 265.1 273.5 264.6 275.3C264.2 277.2 262.2 280.2 260 281.5C257.8 282.9 253.9 283.5 251.4 283.6C249 283.6 245.8 283.3 245.2 282C244.7 280.8 247.8 278.1 248 276.1C248.2 274.1 245.6 271.1 246.5 269.9Z" fill="#C84A72"/>
<ellipse cx="255" cy="272.7" rx="7.77" ry="3.11" fill="#B84A62"/>
<ellipse cx="252.9" cy="280.4" rx="5.44" ry="2.17" fill="#B84A62"/>
<ellipse cx="249.4" cy="277" rx="2.3" ry="1.31" fill="#D26A82"/>
<ellipse cx="230.5" cy="280.4" rx="4.14" ry="6.04" fill="#AFEEEE"/>
<ellipse cx="229.1" cy="279.6" rx="1.64" ry="3.61" fill="#66CDAA"/>
<ellipse cx="244.4" cy="290.9" rx="3.19" ry="2.9" fill="#66CDAA"/>
<ellipse cx="244.4" cy="291.2" rx="1.37" ry="1.37" fill="#008B8B"/>
<ellipse cx="270" cy="280.6" rx="2.32" ry="4.06" transform="rotate(15 270 280.6)" fill="#D26A82"/>
<ellipse cx="270" cy="280.3" rx="0.96" ry="1.92" transform="rotate(15 270 280.3)" fill="#C84A72"/>
</g>
<g transform="translate(165.4 257.7)" fill="none" stroke-linejoin="round"><use href="#pv" stroke="#0a0a0a" stroke-width="0.75"/><use href="#cn" stroke="#000" stroke-width="0.95"/><use href="#co" stroke="#000" stroke-width="1.5"/></g>
<g transform="translate(278.50 265.10)">
<rect width="24.90" height="31.10" fill="#fff"/>
<path d="M0.4 0.4 L17.6 0.4 C15.5 2.2 12 4 8.5 4.7 C5.5 5.2 2.5 3.8 0.4 0.4Z" fill="#D26A82" stroke="#000" stroke-width="1.1"/>
<circle cx="5.8" cy="7.3" r="1.35" fill="#D26A82" stroke="#000" stroke-width="0.8"/>
<path d="M18 0.4 L22.4 0.4 L21.4 3.6 L19.4 2.4Z" fill="#D26A82" stroke="#000" stroke-width="0.6"/>
<use href="#dots"/>
<rect width="24.90" height="31.10" fill="none" stroke="#333" stroke-width="0.75"/>
</g>
<rect x="165.40" y="214.30" width="138.00" height="81.90" fill="none" stroke="#3a3a3a" stroke-width="0.75"/>
<path d="M166.05 296.20 v0.9M170.39 296.20 v0.9M174.72 296.20 v0.9M179.06 296.20 v0.9M183.39 296.20 v1.7M187.73 296.20 v0.9M192.07 296.20 v0.9M196.40 296.20 v0.9M200.74 296.20 v0.9M205.07 296.20 v1.7M209.41 296.20 v0.9M213.75 296.20 v0.9M218.08 296.20 v0.9M222.42 296.20 v0.9M226.75 296.20 v1.7M231.09 296.20 v0.9M235.43 296.20 v0.9M239.76 296.20 v0.9M244.10 296.20 v0.9M248.43 296.20 v1.7M252.77 296.20 v0.9M257.11 296.20 v0.9M261.44 296.20 v0.9M265.78 296.20 v0.9M270.11 296.20 v1.7M274.45 296.20 v0.9M278.79 296.20 v0.9M283.12 296.20 v0.9M287.46 296.20 v0.9M291.79 296.20 v1.7M296.13 296.20 v0.9M300.47 296.20 v0.9M165.40 294.59 h-0.9M165.40 290.25 h-1.7M165.40 285.91 h-0.9M165.40 281.57 h-0.9M165.40 277.23 h-0.9M165.40 272.89 h-0.9M165.40 268.55 h-1.7M165.40 264.21 h-0.9M165.40 259.87 h-0.9M165.40 255.53 h-0.9M165.40 251.19 h-0.9M165.40 246.85 h-1.7M165.40 242.51 h-0.9M165.40 238.17 h-0.9M165.40 233.83 h-0.9M165.40 229.49 h-0.9M165.40 225.15 h-1.7M165.40 220.81 h-0.9M165.40 216.47 h-0.9" fill="none" stroke="#3a3a3a" stroke-width="0.45"/>
<text class="l" x="166.30" y="210.60">h</text>
<text class="t" x="233.55" y="211.00">Mode 8 of pentad 40</text>
<clipPath id="c8"><use href="#cn" transform="translate(309.7 257.7)"/></clipPath>
<g clip-path="url(#c8)">
<rect x="309.7" y="214.3" width="138" height="81.9" fill="#E0FFFF"/>
<ellipse cx="341.9" cy="239.9" rx="9.49" ry="1.73" transform="rotate(3 341.9 239.9)" fill="#AFEEEE"/>
<ellipse cx="361.8" cy="254.6" rx="8.63" ry="3.11" fill="#AFEEEE"/>
<path d="M324.7 258.5C325.5 257.1 331.1 256.9 335.9 257.1C340.6 257.3 347.7 258.9 353.1 259.7C358.6 260.6 365.9 260.2 368.7 262.3C371.4 264.5 371.3 270.7 369.5 272.7C367.8 274.7 362.5 274.7 358.3 274.4C354.1 274.1 349.1 272.4 344.5 270.9C339.9 269.5 334 267.8 330.7 265.8C327.4 263.7 323.8 260 324.7 258.5Z" fill="#FFE2E0"/>
<path d="M326.4 259.6C327.1 258.5 331.4 258.3 335.9 258.5C340.3 258.8 347.8 260.1 353.1 260.9C358.5 261.8 365.3 261.9 367.8 263.7C370.3 265.5 369.9 270.2 368.3 271.8C366.7 273.4 362.3 273.7 358.3 273.4C354.3 273 349 271.3 344.5 269.9C340.1 268.5 334.6 266.8 331.6 265.1C328.6 263.4 325.7 260.6 326.4 259.6Z" fill="#FFC0CB"/>
<path d="M344.3 264.6C345 263.6 349.6 263.9 353.3 263.9C357.1 263.9 364.4 263.3 366.8 264.6C369.1 265.8 368.5 270.2 367.3 271.6C366 273 362.1 273.1 359.1 272.8C356 272.4 351.7 270.8 349.2 269.5C346.8 268.1 343.6 265.5 344.3 264.6Z" fill="#D26A82"/>
<ellipse cx="359.7" cy="270.1" rx="2.8" ry="2.8" transform="rotate(20 359.7 270.1)" fill="#C84A72"/>
<ellipse cx="364.9" cy="265.8" rx="2.8" ry="1.4" fill="#C84A72"/>
<ellipse cx="360" cy="270.9" rx="1.4" ry="1.55" transform="rotate(20 360 270.9)" fill="#B84A62"/>
<ellipse cx="374.2" cy="267.5" rx="4.49" ry="3.11" fill="#AFEEEE"/>
<path d="M366.9 273.8C368 272.5 372.1 271.5 374.1 272.2C376.1 272.9 378.2 275.9 378.7 278.3C379.2 280.6 378.8 284.8 377.4 286.1C376 287.5 372.2 287.4 370.5 286.5C368.8 285.5 367.8 282.5 367.2 280.4C366.6 278.3 365.7 275.2 366.9 273.8Z" fill="#66CDAA"/>
<ellipse cx="372.5" cy="279.9" rx="4.04" ry="5.28" fill="#3CB371"/>
<ellipse cx="371.3" cy="281.6" rx="1.86" ry="2.8" fill="#008B8B"/>
<path d="M409.1 226.1C409.7 223.9 411.8 221.2 414.3 220C416.7 218.8 421.6 218.1 423.8 218.8C425.9 219.6 427.1 221.7 427.2 224.4C427.4 227 425.6 232.1 424.6 234.7C423.6 237.3 422.8 239 421.2 239.9C419.5 240.7 416.5 241 414.8 239.9C413.1 238.7 411.8 235.3 410.8 233C409.9 230.7 408.5 228.2 409.1 226.1Z" fill="#FFE2E0"/>
<path d="M410.3 226.4C410.8 224.6 412.7 222.7 414.8 221.8C416.9 220.8 421.2 220.1 423.1 220.6C424.9 221 425.8 222.5 425.8 224.7C425.9 226.9 424.4 231.6 423.4 233.8C422.5 236.1 421.6 237.4 420.3 238.2C419 238.9 416.9 239.1 415.5 238.2C414.1 237.2 412.9 234.6 412 232.6C411.2 230.7 409.9 228.2 410.3 226.4Z" fill="#FFC0CB"/>
<ellipse cx="418.9" cy="230.9" rx="2.95" ry="2.13" fill="#D26A82"/>
<ellipse cx="418.6" cy="224.4" rx="2.62" ry="1.64" fill="#D26A82"/>
<ellipse cx="434.1" cy="231.6" rx="6.89" ry="3.93" transform="rotate(-25 434.1 231.6)" fill="#66CDAA"/>
<ellipse cx="433.8" cy="231.3" rx="3.42" ry="1.71" transform="rotate(-25 433.8 231.3)" fill="#3CB371"/>
<path d="M381.5 248.5C382.4 245.6 386 243 389.3 241.6C392.6 240.2 397.9 239.7 401.3 239.9C404.8 240 407.5 240.6 410 242.5C412.4 244.3 415.1 248.7 416 251.1C416.9 253.5 416.4 255.8 415.1 257.1C413.9 258.5 413.4 258.9 408.2 259.2C403.1 259.6 388.5 261 384.1 259.2C379.6 257.4 380.6 251.4 381.5 248.5Z" fill="#AFEEEE"/>
<path d="M384.5 249.4C385.1 247 387.7 244.9 390.5 243.6C393.3 242.4 398.3 241.9 401.2 242C404.1 242.1 406.7 242.5 408.1 244C409.5 245.5 409.9 248.7 409.7 251C409.5 253.3 410.8 256.4 406.9 257.6C403 258.7 390.2 259.1 386.4 257.7C382.7 256.4 383.8 251.7 384.5 249.4Z" fill="#66CDAA"/>
<path d="M389.4 250.3C389.8 248.5 391.4 246.6 393.3 245.6C395.2 244.6 399 244.2 401.1 244.4C403.1 244.5 404.8 244.8 405.7 246.4C406.6 248 407 252.5 406.5 254.2C406 255.8 405.2 256.1 402.6 256.5C400 256.9 393.2 257.5 391 256.5C388.8 255.4 389 252.1 389.4 250.3Z" fill="#3CB371"/>
<path d="M380.6 259.2C382.9 257.8 390.1 257.3 394.4 257.1C398.8 257 403.2 258 406.5 258.5C409.8 259 413 258.9 414.3 260.2C415.6 261.6 416.2 265.4 414.3 266.6C412.4 267.9 407.2 267.6 403.1 267.8C398.9 268.1 392.9 268.7 389.3 268.4C385.6 268 382.4 267.3 381 265.8C379.5 264.2 378.4 260.6 380.6 259.2Z" fill="#FFC0CB"/>
<path d="M382.8 260.1C384.7 259 390.7 258.5 394.6 258.4C398.5 258.3 403.1 259.1 406.1 259.6C409.1 260 411.6 260.2 412.7 261.2C413.7 262.2 414.3 264.7 412.7 265.6C411 266.5 406.6 266.4 402.8 266.6C399 266.9 393 267.4 389.7 267.1C386.4 266.8 384.3 266.1 383.1 265C382 263.8 380.9 261.1 382.8 260.1Z" fill="#D26A82"/>
<path d="M384.5 260.8C386.1 260 391.4 259.3 394.8 259.3C398.2 259.2 402.2 260 404.9 260.5C407.6 261 410.1 261.3 411.1 262.1C412.1 262.8 412.1 264.3 410.6 264.9C409.2 265.4 406 265.3 402.6 265.5C399.1 265.7 393 266.3 390.1 266.1C387.2 265.9 386.1 265.1 385.2 264.2C384.2 263.4 382.9 261.7 384.5 260.8Z" fill="#C84A72"/>
<ellipse cx="388.9" cy="264.4" rx="4.97" ry="2.17" fill="#B84A62"/>
<ellipse cx="407.9" cy="263.4" rx="3.11" ry="1.4" fill="#B84A62"/>
<ellipse cx="398.8" cy="261.5" rx="4.97" ry="2.17" transform="rotate(-5 398.8 261.5)" fill="#E08262"/>
<ellipse cx="398.8" cy="261.3" rx="3.42" ry="1.4" transform="rotate(-5 398.8 261.3)" fill="#C24E0E"/>
<ellipse cx="397.9" cy="261.6" rx="1.24" ry="0.62" fill="#A23E0C"/>
<path d="M390.5 268.3C391.7 267.5 395.4 267.6 397.9 267.6C400.4 267.7 404 267.6 405.3 268.5C406.5 269.3 406.5 271.7 405.3 272.6C404 273.4 400.3 273.4 397.9 273.4C395.5 273.3 392.2 273.1 391 272.2C389.8 271.4 389.4 269.1 390.5 268.3Z" fill="#66CDAA"/>
<ellipse cx="397.9" cy="270.4" rx="5.44" ry="1.55" fill="#3CB371"/>
<ellipse cx="412" cy="271.8" rx="4.49" ry="7.25" fill="#FFC0CB"/>
<ellipse cx="411.7" cy="270.9" rx="2.62" ry="3.93" fill="#D26A82"/>
<ellipse cx="411.4" cy="269.6" rx="1.09" ry="1.86" fill="#C84A72"/>
<ellipse cx="379.8" cy="267.5" rx="3.8" ry="3.11" fill="#FFE2E0"/>
<path d="M393.6 278.2C394.6 276.8 398.8 277 401.3 277C403.9 277 407.9 276.9 409.1 278.2C410.3 279.5 409.9 283.3 408.6 284.8C407.3 286.2 403.6 286.8 401.3 286.8C399.1 286.9 396.6 286.5 395.3 285.1C394 283.7 392.6 279.5 393.6 278.2Z" fill="#FFC0CB"/>
<path d="M398.1 278.4C399.8 277.7 406.7 278.1 408.3 279C409.9 280 408.8 282.9 407.6 284C406.5 285 403 285.8 401.4 285.6C399.8 285.4 398.7 284.2 398.1 283C397.6 281.8 396.4 279 398.1 278.4Z" fill="#D26A82"/>
<ellipse cx="404.1" cy="281.6" rx="3.11" ry="2.48" fill="#C84A72"/>
<ellipse cx="404.8" cy="282.2" rx="1.55" ry="1.24" fill="#B84A62"/>
<ellipse cx="388.4" cy="283" rx="5.18" ry="2.76" fill="#FFE2E0"/>
<ellipse cx="388.4" cy="283.4" rx="2.76" ry="1.38" fill="#FFC0CB"/>
<path d="M367.1 271.3C368.6 269.7 373.4 269.2 375.3 270C377.2 270.8 378.2 273.6 378.6 276.2C379 278.9 379.1 284.3 377.8 286.1C376.4 287.8 372.3 288 370.4 286.9C368.5 285.8 366.8 282.1 366.3 279.5C365.8 276.9 365.6 272.9 367.1 271.3Z" fill="#66CDAA"/>
<ellipse cx="373.4" cy="278.7" rx="2.8" ry="6.21" fill="#3CB371"/>
<ellipse cx="389.4" cy="290.9" rx="3.36" ry="3.05" fill="#AFEEEE"/>
<ellipse cx="389.4" cy="291.2" rx="1.45" ry="1.45" fill="#66CDAA"/>
<ellipse cx="415" cy="280.6" rx="2.2" ry="3.85" transform="rotate(15 415 280.6)" fill="#E08262"/>
<ellipse cx="415" cy="280.3" rx="0.96" ry="1.92" transform="rotate(15 415 280.3)" fill="#C24E0E"/>
</g>
<g transform="translate(309.7 257.7)" fill="none" stroke-linejoin="round"><use href="#pv" stroke="#0a0a0a" stroke-width="0.75"/><use href="#cn" stroke="#000" stroke-width="0.95"/><use href="#co" stroke="#000" stroke-width="1.5"/></g>
<g transform="translate(422.80 265.10)">
<rect width="24.90" height="31.10" fill="#fff"/>
<path d="M0.4 0.4 L17.6 0.4 C15.5 2.2 12 4 8.5 4.7 C5.5 5.2 2.5 3.8 0.4 0.4Z" fill="#FFC0CB" stroke="#000" stroke-width="1.1"/>
<circle cx="5.8" cy="7.3" r="1.35" fill="#FFC0CB" stroke="#000" stroke-width="0.8"/>
<path d="M18 0.4 L22.4 0.4 L21.4 3.6 L19.4 2.4Z" fill="#E08262" stroke="#000" stroke-width="0.6"/>
<use href="#dots"/>
<rect width="24.90" height="31.10" fill="none" stroke="#333" stroke-width="0.75"/>
</g>
<rect x="309.70" y="214.30" width="138.00" height="81.90" fill="none" stroke="#3a3a3a" stroke-width="0.75"/>
<path d="M310.35 296.20 v0.9M314.69 296.20 v0.9M319.02 296.20 v0.9M323.36 296.20 v0.9M327.69 296.20 v1.7M332.03 296.20 v0.9M336.37 296.20 v0.9M340.70 296.20 v0.9M345.04 296.20 v0.9M349.37 296.20 v1.7M353.71 296.20 v0.9M358.05 296.20 v0.9M362.38 296.20 v0.9M366.72 296.20 v0.9M371.05 296.20 v1.7M375.39 296.20 v0.9M379.73 296.20 v0.9M384.06 296.20 v0.9M388.40 296.20 v0.9M392.73 296.20 v1.7M397.07 296.20 v0.9M401.41 296.20 v0.9M405.74 296.20 v0.9M410.08 296.20 v0.9M414.41 296.20 v1.7M418.75 296.20 v0.9M423.09 296.20 v0.9M427.42 296.20 v0.9M431.76 296.20 v0.9M436.09 296.20 v1.7M440.43 296.20 v0.9M444.77 296.20 v0.9M309.70 294.59 h-0.9M309.70 290.25 h-1.7M309.70 285.91 h-0.9M309.70 281.57 h-0.9M309.70 277.23 h-0.9M309.70 272.89 h-0.9M309.70 268.55 h-1.7M309.70 264.21 h-0.9M309.70 259.87 h-0.9M309.70 255.53 h-0.9M309.70 251.19 h-0.9M309.70 246.85 h-1.7M309.70 242.51 h-0.9M309.70 238.17 h-0.9M309.70 233.83 h-0.9M309.70 229.49 h-0.9M309.70 225.15 h-1.7M309.70 220.81 h-0.9M309.70 216.47 h-0.9" fill="none" stroke="#3a3a3a" stroke-width="0.45"/>
<text class="l" x="310.60" y="210.60">i</text>
<text class="t" x="377.85" y="211.00">Mode 9 of pentad 40</text>
<clipPath id="c9"><use href="#cn" transform="translate(20.5 356.1)"/></clipPath>
<g clip-path="url(#c9)">
<rect x="20.5" y="312.8" width="138" height="82.6" fill="#FFE2E0"/>
<ellipse cx="54.5" cy="330.6" rx="3.11" ry="1.73" fill="#E0FFFF"/>
<ellipse cx="49.7" cy="337.3" rx="3.8" ry="2.42" fill="#E0FFFF"/>
<path d="M35.2 356.3C35.8 354.3 41.2 354.4 45.9 354.6C50.5 354.7 57.8 356.1 63.1 357.1C68.5 358.1 75.2 358.1 77.8 360.6C80.4 363 80.3 369.7 78.7 371.8C77.1 374 72.3 373.7 68.3 373.5C64.3 373.4 58.8 372.1 54.5 370.9C50.2 369.8 45.7 369.1 42.4 366.6C39.2 364.2 34.6 358.3 35.2 356.3Z" fill="#FFC0CB"/>
<path d="M39.2 361.1C40.1 360.3 44.6 360 47.7 360.5C50.7 361 55.7 362.7 57.5 364.1C59.3 365.5 59.6 368.1 58.3 369C57.1 369.9 52.9 369.9 50.1 369.3C47.4 368.8 43.8 367.1 41.9 365.7C40.1 364.4 38.2 362 39.2 361.1Z" fill="#D26A82"/>
<ellipse cx="52.8" cy="367.5" rx="4.35" ry="1.55" transform="rotate(15 52.8 367.5)" fill="#C84A72"/>
<ellipse cx="53.1" cy="367.8" rx="2.48" ry="0.78" transform="rotate(15 53.1 367.8)" fill="#B84A62"/>
<ellipse cx="45" cy="364.4" rx="2.48" ry="1.09" transform="rotate(15 45 364.4)" fill="#C84A72"/>
<ellipse cx="72.6" cy="367.1" rx="4.49" ry="2.07" fill="#E0FFFF"/>
<ellipse cx="89.9" cy="363.2" rx="4.49" ry="2.42" fill="#E0FFFF"/>
<path d="M76.9 371.8C78.9 370.3 86.4 369.3 89 370.6C91.6 371.9 92.5 376.9 92.5 379.6C92.5 382.3 91 385.7 89 386.8C87 388 82.4 387.7 80.4 386.5C78.4 385.3 77.9 382 77.3 379.6C76.7 377.1 75 373.3 76.9 371.8Z" fill="#FFC0CB"/>
<ellipse cx="83" cy="379.2" rx="4.59" ry="5.9" fill="#D26A82"/>
<ellipse cx="82.1" cy="379.6" rx="2.8" ry="3.73" fill="#C84A72"/>
<ellipse cx="81.8" cy="379.9" rx="1.55" ry="2.17" fill="#B84A62"/>
<ellipse cx="86.4" cy="368.4" rx="5.18" ry="3.11" fill="#FFC0CB"/>
<path d="M115.7 333C116.1 330.7 117.2 327.8 119.1 326.1C121 324.4 123.6 323.1 126.9 322.6C130.2 322.2 134.2 322.5 139 323.5C143.7 324.5 153.3 326.4 155.3 328.7C157.4 331 153.5 335.4 151 337.3C148.6 339.2 144.7 339.5 140.7 339.9C136.7 340.3 130.9 339.9 126.9 339.9C122.8 339.9 118.4 341 116.5 339.9C114.7 338.7 115.2 335.3 115.7 333Z" fill="#E0FFFF"/>
<path d="M126 316.6C127.7 315.6 135.1 315.7 137.2 316.6C139.4 317.5 140.6 320.8 139 321.8C137.3 322.8 129.4 323.5 127.2 322.6C125.1 321.8 124.3 317.6 126 316.6Z" fill="#FFC0CB"/>
<path d="M127.5 317C128.8 316.3 134.5 316.6 136.2 317.2C137.8 317.8 138.6 320.1 137.3 320.8C136 321.5 130.1 322.1 128.5 321.5C126.8 320.8 126.2 317.8 127.5 317Z" fill="#D26A82"/>
<ellipse cx="132.4" cy="318.8" rx="3.11" ry="1.4" fill="#C84A72"/>
<ellipse cx="146.7" cy="331.3" rx="5.18" ry="3.45" transform="rotate(-20 146.7 331.3)" fill="#FFE2E0"/>
<path d="M116.2 332.1C116.4 330 118.5 328.2 120.3 326.9C122.2 325.6 124.3 324.6 127.2 324.4C130.2 324.2 136 324.3 138.1 325.7C140.2 327.2 140.5 330.8 139.8 333C139.1 335.2 137.2 337.9 133.8 339C130.3 340.1 122 340.7 119.1 339.5C116.2 338.4 116 334.2 116.2 332.1Z" fill="#AFEEEE"/>
<path d="M117.9 332.6C118.1 331.1 120.1 329.8 121.7 328.8C123.2 327.9 124.9 326.8 127.2 326.7C129.6 326.6 134.3 326.9 135.9 328C137.6 329.1 137.6 331.7 137.1 333.3C136.5 334.9 135.4 336.8 132.6 337.5C129.9 338.3 123.1 338.7 120.7 337.9C118.2 337 117.7 334.1 117.9 332.6Z" fill="#66CDAA"/>
<ellipse cx="126.5" cy="333.3" rx="5.59" ry="3.11" transform="rotate(-15 126.5 333.3)" fill="#3CB371"/>
<ellipse cx="125.5" cy="334" rx="2.48" ry="1.4" fill="#008B8B"/>
<ellipse cx="125.1" cy="334.4" rx="1.4" ry="0.93" fill="#6495ED"/>
<ellipse cx="125.1" cy="334.4" rx="0.7" ry="0.47" fill="#4169E1"/>
<path d="M112.2 343.3C114.2 341.5 120.5 340.6 125.1 339.9C129.8 339.2 137.5 338.2 139.8 339C142.1 339.9 141.1 343.5 139 345.1C136.9 346.6 129.5 346.4 127.2 348.5C124.9 350.7 127.1 356.3 125.1 358C123.2 359.7 117.7 359.7 115.7 358.5C113.6 357.4 113.6 353.6 113.1 351.1C112.5 348.6 110.2 345.2 112.2 343.3Z" fill="#FFC0CB"/>
<path d="M114 344.4C115.7 342.8 121.1 342.1 125.1 341.4C129.1 340.8 135.9 340.1 137.9 340.6C139.9 341.1 138.8 343.3 136.9 344.5C135 345.8 128.5 345.8 126.4 347.8C124.3 349.8 125.9 355.1 124.3 356.7C122.7 358.2 118.5 358 116.9 357C115.3 356.1 115.1 353 114.6 350.9C114.1 348.8 112.2 346 114 344.4Z" fill="#D26A82"/>
<ellipse cx="119.6" cy="352.8" rx="3.11" ry="4.35" fill="#C84A72"/>
<ellipse cx="119.6" cy="353.3" rx="1.71" ry="2.8" fill="#B84A62"/>
<ellipse cx="131.2" cy="343" rx="4.04" ry="1.55" transform="rotate(-20 131.2 343)" fill="#C84A72"/>
<ellipse cx="125.1" cy="354.6" rx="1.73" ry="1.38" fill="#AFEEEE"/>
<path d="M82 348.5C83.4 345.9 90.2 346.2 92.4 347.6C94.5 349.1 95 354.4 95 357.1C95 359.9 94.2 363 92.4 364C90.5 365 85.5 365.8 83.7 363.2C82 360.6 80.6 351.1 82 348.5Z" fill="#E0FFFF"/>
<path d="M95.2 352.5C96.5 351.4 100.9 350.3 102.6 350.9C104.3 351.5 105.3 354.5 105.5 356.3C105.7 358.2 105.2 361 103.9 362.1C102.6 363.1 99.1 363.1 97.7 362.4C96.2 361.7 95.4 359.6 95 358C94.6 356.3 93.9 353.7 95.2 352.5Z" fill="#66CDAA"/>
<ellipse cx="100.1" cy="356.8" rx="3.11" ry="4.35" fill="#3CB371"/>
<path d="M98.4 358.5C99.8 356.7 104.4 357.2 107.9 357.1C111.3 357.1 115.9 357.7 119.1 358C122.3 358.3 125.9 357.8 127.2 359.2C128.6 360.6 129 365.1 127.2 366.6C125.4 368.2 121.2 368.2 116.5 368.4C111.9 368.6 102.3 369.5 99.3 367.8C96.2 366.2 97 360.3 98.4 358.5Z" fill="#FFC0CB"/>
<path d="M99.7 359.4C101 358 104.9 358.4 107.9 358.4C111 358.4 116.3 357.9 118.1 359.2C119.9 360.6 120.3 365.1 118.6 366.4C116.9 367.8 111 367.2 107.9 367.3C104.9 367.3 101.8 367.9 100.4 366.6C99 365.3 98.5 360.8 99.7 359.4Z" fill="#D26A82"/>
<path d="M101.2 360.2C102.2 359.2 105.3 359.5 108 359.6C110.7 359.6 115.7 359.5 117.3 360.5C118.9 361.5 119.2 364.5 117.6 365.5C116.1 366.4 110.6 366.1 108 366.1C105.4 366.1 102.9 366.5 101.8 365.5C100.7 364.5 100.1 361.2 101.2 360.2Z" fill="#C84A72"/>
<ellipse cx="109.3" cy="363" rx="7.45" ry="2.33" fill="#B84A62"/>
<ellipse cx="116.5" cy="364" rx="2.17" ry="1.4" fill="#E08262"/>
<ellipse cx="116.5" cy="364" rx="1.24" ry="0.78" fill="#C24E0E"/>
<ellipse cx="123.4" cy="360.9" rx="3.28" ry="2.46" fill="#66CDAA"/>
<ellipse cx="92" cy="366.6" rx="4.92" ry="1.97" fill="#D26A82"/>
<ellipse cx="92" cy="366.6" rx="3.42" ry="1.09" fill="#C84A72"/>
<ellipse cx="92.4" cy="366.8" rx="1.86" ry="0.62" fill="#B84A62"/>
<path d="M92.4 369.6C94.3 368.5 100.8 368.4 104.4 368.4C108 368.3 112.5 368 113.9 369.2C115.4 370.5 114.9 374.6 113.1 375.8C111.2 377 106.1 376.6 102.7 376.5C99.3 376.3 94.4 375.9 92.7 374.7C91 373.6 90.4 370.6 92.4 369.6Z" fill="#E0FFFF"/>
<path d="M95.9 370.2C97.2 369.5 101.8 369.4 104.4 369.4C107 369.4 110.2 369.4 111.3 370.2C112.3 371 112 373.5 110.6 374.3C109.2 375.1 105.2 375 102.8 374.9C100.4 374.8 97.3 374.4 96.2 373.6C95.1 372.8 94.5 370.9 95.9 370.2Z" fill="#66CDAA"/>
<ellipse cx="103.6" cy="372" rx="5.59" ry="1.55" fill="#3CB371"/>
<ellipse cx="119.1" cy="373.5" rx="5.18" ry="6.21" fill="#E0FFFF"/>
<ellipse cx="118.2" cy="373.5" rx="2.95" ry="4.26" fill="#66CDAA"/>
<ellipse cx="117.9" cy="373.5" rx="1.4" ry="2.33" fill="#3CB371"/>
<ellipse cx="124.3" cy="372.7" rx="1.64" ry="3.61" fill="#D26A82"/>
<path d="M89.8 376.5C91.5 374.7 98.1 375.4 102.7 375.8C107.3 376.2 115.1 377.4 117.4 378.7C119.7 380.1 118.7 382.4 116.5 383.9C114.4 385.3 108.5 387 104.4 387.3C100.4 387.7 94.8 387.9 92.4 386.1C89.9 384.3 88 378.2 89.8 376.5Z" fill="#FFC0CB"/>
<path d="M91.6 377.4C93.1 376 98.8 376.5 102.8 376.9C106.8 377.3 113.5 378.6 115.6 379.7C117.6 380.7 116.8 381.9 114.9 382.9C113 384 107.9 385.6 104.4 385.9C100.9 386.2 96.1 386.3 93.9 384.9C91.8 383.5 90.2 378.7 91.6 377.4Z" fill="#D26A82"/>
<ellipse cx="99.3" cy="378.9" rx="4.97" ry="1.71" fill="#C84A72"/>
<ellipse cx="113.1" cy="381.6" rx="3.11" ry="1.55" fill="#C84A72"/>
<ellipse cx="99.3" cy="378.9" rx="2.8" ry="0.78" fill="#B84A62"/>
<path d="M78.6 371.8C79.7 369.2 85.2 369.7 87.2 370.9C89.1 372.2 90.1 377 90.3 379.6C90.4 382.2 89.7 385.3 88 386.5C86.4 387.7 81.9 389.3 80.3 386.8C78.7 384.4 77.4 374.5 78.6 371.8Z" fill="#FFC0CB"/>
<ellipse cx="83.7" cy="378.2" rx="3.61" ry="6.56" fill="#D26A82"/>
<ellipse cx="82.9" cy="378.2" rx="1.86" ry="4.35" fill="#C84A72"/>
<ellipse cx="99.4" cy="390.9" rx="3.36" ry="3.05" fill="#FFE2E0"/>
<ellipse cx="125" cy="380.6" rx="2.44" ry="4.27" transform="rotate(15 125 380.6)" fill="#E0FFFF"/>
</g>
<g transform="translate(20.5 356.1)" fill="none" stroke-linejoin="round"><use href="#pv" stroke="#0a0a0a" stroke-width="0.75"/><use href="#cn" stroke="#000" stroke-width="0.95"/><use href="#co" stroke="#000" stroke-width="1.5"/></g>
<rect x="20.50" y="312.80" width="138.00" height="82.60" fill="none" stroke="#3a3a3a" stroke-width="0.75"/>
<path d="M21.15 395.40 v0.9M25.49 395.40 v0.9M29.82 395.40 v0.9M34.16 395.40 v0.9M38.49 395.40 v1.7M42.83 395.40 v0.9M47.17 395.40 v0.9M51.50 395.40 v0.9M55.84 395.40 v0.9M60.17 395.40 v1.7M64.51 395.40 v0.9M68.85 395.40 v0.9M73.18 395.40 v0.9M77.52 395.40 v0.9M81.85 395.40 v1.7M86.19 395.40 v0.9M90.53 395.40 v0.9M94.86 395.40 v0.9M99.20 395.40 v0.9M103.53 395.40 v1.7M107.87 395.40 v0.9M112.21 395.40 v0.9M116.54 395.40 v0.9M120.88 395.40 v0.9M125.21 395.40 v1.7M129.55 395.40 v0.9M133.89 395.40 v0.9M138.22 395.40 v0.9M142.56 395.40 v0.9M146.89 395.40 v1.7M151.23 395.40 v0.9M155.57 395.40 v0.9M20.50 392.99 h-0.9M20.50 388.65 h-1.7M20.50 384.31 h-0.9M20.50 379.97 h-0.9M20.50 375.63 h-0.9M20.50 371.29 h-0.9M20.50 366.95 h-1.7M20.50 362.61 h-0.9M20.50 358.27 h-0.9M20.50 353.93 h-0.9M20.50 349.59 h-0.9M20.50 345.25 h-1.7M20.50 340.91 h-0.9M20.50 336.57 h-0.9M20.50 332.23 h-0.9M20.50 327.89 h-0.9M20.50 323.55 h-1.7M20.50 319.21 h-0.9M20.50 314.87 h-0.9" fill="none" stroke="#3a3a3a" stroke-width="0.45"/>
<text class="k" x="17.40" y="325.25" text-anchor="end">50°N</text>
<text class="k" x="17.40" y="346.95" text-anchor="end">40°N</text>
<text class="k" x="17.40" y="368.65" text-anchor="end">30°N</text>
<text class="k" x="17.40" y="390.35" text-anchor="end">20°N</text>
<text class="l" x="21.40" y="309.10">j</text>
<text class="t" x="88.65" y="309.50">Mode 10 of pentad 40</text>
<clipPath id="c10"><use href="#cn" transform="translate(165.4 356.1)"/></clipPath>
<g clip-path="url(#c10)">
<rect x="165.4" y="312.8" width="138" height="82.6" fill="#FFE2E0"/>
<path d="M196.9 333C197.6 331.1 200.5 329 203 328.7C205.4 328.4 209.3 329.7 211.6 331.3C213.9 332.8 216.2 335.9 216.8 338.2C217.3 340.5 217.1 343.8 215 345.1C213 346.4 207.4 346.8 204.7 345.9C202 345.1 199.9 342 198.6 339.9C197.4 337.7 196.2 334.9 196.9 333Z" fill="#E0FFFF"/>
<path d="M216.8 342.5C217.3 341 222.8 340.6 227.1 339.9C231.5 339.2 240.4 336.3 243 338.2C245.6 340 244.5 348.9 243 351.1C241.5 353.3 237.2 351.5 234 351.1C230.8 350.7 226.5 350 223.7 348.5C220.8 347.1 216.2 343.9 216.8 342.5Z" fill="#E0FFFF"/>
<path d="M180.2 357.1C180.8 355.3 186.2 355.3 190.9 355.4C195.5 355.6 202.8 357 208.1 358C213.5 359 220.3 359.2 222.8 361.5C225.3 363.8 224.9 369.8 223.3 371.8C221.7 373.8 217.3 373.7 213.3 373.5C209.3 373.4 203.8 372.1 199.5 370.9C195.2 369.8 190.7 368.9 187.4 366.6C184.2 364.3 179.6 359 180.2 357.1Z" fill="#FFC0CB"/>
<path d="M188.6 364.2C189.4 363.4 192.4 363.1 194.3 363.4C196.3 363.6 199.1 364.7 200.1 365.8C201 366.9 201 369.2 200.1 369.9C199.1 370.7 196.1 370.8 194.3 370.4C192.6 370.1 190.4 368.8 189.4 367.8C188.5 366.8 187.8 364.9 188.6 364.2Z" fill="#D26A82"/>
<ellipse cx="194" cy="367.5" rx="2.8" ry="1.55" transform="rotate(20 194 367.5)" fill="#C84A72"/>
<ellipse cx="194" cy="367.7" rx="1.4" ry="0.78" transform="rotate(20 194 367.7)" fill="#B84A62"/>
<ellipse cx="216.8" cy="368.4" rx="4.83" ry="2.42" fill="#E0FFFF"/>
<path d="M223.3 361.5C224.6 359.2 231.2 358 233.2 359.7C235.1 361.5 236.2 369.5 234.9 371.8C233.6 374.1 227.3 375.3 225.4 373.5C223.5 371.8 222 363.8 223.3 361.5Z" fill="#E0FFFF"/>
<path d="M221.6 372.7C223.6 371.4 231.2 370.7 234 371.8C236.8 373 238.1 377.1 238.3 379.6C238.6 382.1 237.9 385.7 235.8 386.8C233.6 388 227.7 387.7 225.4 386.5C223.1 385.3 222.6 381.9 221.9 379.6C221.3 377.3 219.6 374 221.6 372.7Z" fill="#FFC0CB"/>
<ellipse cx="229.2" cy="379.6" rx="5.57" ry="4.92" fill="#D26A82"/>
<ellipse cx="229.2" cy="379.9" rx="4.04" ry="2.48" fill="#C84A72"/>
<ellipse cx="228.8" cy="379.9" rx="2.17" ry="1.24" fill="#B84A62"/>
<path d="M216.7 341.6C218.4 337.6 222.4 339.2 227 338.2C231.6 337.2 238.5 336.6 244.3 335.6C250 334.6 256.9 332.8 261.5 332.1C266.1 331.4 269 331.1 271.9 331.3C274.8 331.4 273.9 333.6 278.8 333C283.7 332.4 297.8 326.9 301.2 327.8C304.7 328.7 302.1 335 299.5 338.2C296.9 341.3 290.2 345.1 285.7 346.8C281.1 348.5 274.5 346.5 272.2 348.5C270 350.5 274 357.1 272.2 358.9C270.4 360.6 263.6 359.5 261.5 359.2C259.4 358.9 262.1 357.2 259.8 357.1C257.5 357.1 251.5 358.3 247.7 358.9C244 359.4 240.8 359.7 237.4 360.6C233.9 361.5 230.5 363.8 227 364C223.6 364.3 218.4 366.1 216.7 362.3C214.9 358.6 214.9 345.6 216.7 341.6Z" fill="#E0FFFF"/>
<path d="M260.7 326.9C260.7 324.8 265.7 320.2 268.4 318.3C271.2 316.4 274.3 315.3 277.1 315.4C279.8 315.5 281.7 316.9 284.8 318.8C288 320.8 294.3 324.5 296 326.9C297.8 329.4 296.9 332.3 295.2 333.3C293.4 334.3 288.4 333.1 285.7 333C282.9 332.9 281.7 332.9 278.8 332.6C275.9 332.3 271.4 332.2 268.4 331.3C265.4 330.3 260.7 329.1 260.7 326.9Z" fill="#FFC0CB"/>
<path d="M261.9 326.8C261.9 325 266.2 321.2 268.7 319.4C271.3 317.7 274.4 316.5 276.9 316.5C279.5 316.5 282.5 317.8 283.8 319.4C285.1 321.1 285.7 324.4 284.8 326.3C283.9 328.3 281.3 330.6 278.6 331.2C275.9 331.9 271.5 331.2 268.7 330.4C266 329.7 261.9 328.6 261.9 326.8Z" fill="#D26A82"/>
<path d="M263.5 326.5C263.5 325.1 267.1 322.1 269.4 320.6C271.6 319.2 274.6 317.9 276.8 317.8C279 317.8 281.3 319 282.4 320.3C283.5 321.6 284.1 324 283.3 325.6C282.6 327.2 280.4 329.3 278.1 329.9C275.7 330.6 271.8 329.9 269.4 329.3C266.9 328.7 263.5 328 263.5 326.5Z" fill="#C84A72"/>
<path d="M264.7 326.2C264.7 325.1 268 322.8 270 321.6C272 320.3 274.9 319 276.8 318.9C278.7 318.8 280.6 319.9 281.5 320.9C282.4 322 282.9 323.9 282.3 325.3C281.6 326.6 279.6 328.5 277.6 329C275.5 329.5 272.1 328.9 270 328.4C267.8 327.9 264.7 327.4 264.7 326.2Z" fill="#B84A62"/>
<ellipse cx="282.2" cy="338.2" rx="3.45" ry="3.45" fill="#FFC0CB"/>
<ellipse cx="290.9" cy="330.4" rx="4.49" ry="2.07" transform="rotate(15 290.9 330.4)" fill="#FFC0CB"/>
<path d="M247.7 339.9C250.3 337.9 256.6 335.7 261.5 334.7C266.4 333.7 273.3 333.3 277.1 333.8C280.8 334.4 284 336.3 284 338.2C284 340 279.6 343.3 277.1 345.1C274.5 346.8 272.4 347.5 268.4 348.5C264.4 349.5 256.6 351.4 252.9 351.1C249.2 350.8 246.9 348.7 246 346.8C245.1 344.9 245.1 341.9 247.7 339.9Z" fill="#AFEEEE"/>
<ellipse cx="237.4" cy="357.1" rx="6.9" ry="4.31" fill="#AFEEEE"/>
<path d="M252.5 343.3C253.6 341 257.2 341.1 259.8 341.1C262.4 341.1 266.5 341.4 268 343.3C269.5 345.2 269.9 350.4 268.9 352.6C267.8 354.8 264.1 356 261.5 356.4C258.9 356.7 254.8 356.9 253.3 354.7C251.8 352.6 251.4 345.5 252.5 343.3Z" fill="#66CDAA"/>
<ellipse cx="261.2" cy="348.2" rx="4.35" ry="4.97" fill="#3CB371"/>
<ellipse cx="261.5" cy="345.1" rx="1.4" ry="1.4" fill="#008B8B"/>
<ellipse cx="265" cy="356.8" rx="3.45" ry="2.07" fill="#FFC0CB"/>
<path d="M261.2 359.2C262.5 357.4 268.3 357.7 270.1 358.5C272 359.3 272.1 362.3 272.2 364C272.4 365.8 272.7 368.3 271 369.2C269.4 370.1 264 371.2 262.4 369.6C260.7 367.9 259.9 361.1 261.2 359.2Z" fill="#FFC0CB"/>
<ellipse cx="266.7" cy="364" rx="4.26" ry="4.59" fill="#D26A82"/>
<ellipse cx="267.7" cy="364" rx="2.02" ry="1.71" fill="#C84A72"/>
<ellipse cx="236" cy="366.6" rx="2.13" ry="3.61" transform="rotate(10 236 366.6)" fill="#D26A82"/>
<ellipse cx="236" cy="366.6" rx="1.09" ry="2.48" transform="rotate(10 236 366.6)" fill="#C84A72"/>
<path d="M235.8 364.3C237.3 362.7 241.2 362 244.3 361.9C247.3 361.7 252.3 362 254.1 363.5C255.9 365 255.8 368.7 254.9 370.9C254.1 373.1 251.8 375.6 249.2 376.6C246.6 377.6 241.7 377.9 239.4 377.1C237 376.3 235.9 373.8 235.3 371.7C234.7 369.6 234.3 366 235.8 364.3Z" fill="#66CDAA"/>
<path d="M237.3 365.4C238.6 364.1 241.8 363.4 244.3 363.3C246.8 363.3 250.9 363.7 252.4 364.9C253.8 366.1 253.7 368.8 253 370.5C252.3 372.2 250.5 374.3 248.3 375.1C246.2 376 242.2 376.1 240.3 375.4C238.3 374.8 237.3 372.8 236.8 371.1C236.4 369.4 236.1 366.6 237.3 365.4Z" fill="#3CB371"/>
<ellipse cx="243.4" cy="370.1" rx="4.97" ry="4.04" fill="#008B8B"/>
<ellipse cx="242.2" cy="370.9" rx="2.8" ry="1.71" fill="#6495ED"/>
<ellipse cx="241.8" cy="371.1" rx="1.55" ry="0.93" fill="#4169E1"/>
<path d="M252.9 367.8C254.8 365.8 263.4 365.5 265.8 367.5C268.3 369.4 269.4 377.5 267.6 379.6C265.7 381.6 257.1 381.9 254.6 379.9C252.2 378 251 369.9 252.9 367.8Z" fill="#FFC0CB"/>
<ellipse cx="261.5" cy="372.7" rx="3.61" ry="3.61" fill="#D26A82"/>
<ellipse cx="261.9" cy="372.3" rx="1.4" ry="1.4" fill="#C84A72"/>
<path d="M237.4 378.2C239.3 376.8 245 377.7 249.4 377.8C253.9 378 261.8 378 264.1 379.2C266.4 380.4 265.7 383.6 263.2 385.1C260.8 386.6 253.7 388 249.4 388.2C245.2 388.4 239.7 388.1 237.7 386.5C235.7 384.8 235.4 379.6 237.4 378.2Z" fill="#E0FFFF"/>
<ellipse cx="243.4" cy="381" rx="6.21" ry="2.24" fill="#FFC0CB"/>
<ellipse cx="242.9" cy="381" rx="3.93" ry="1.31" fill="#D26A82"/>
<ellipse cx="257.2" cy="380.4" rx="4.31" ry="2.42" fill="#FFC0CB"/>
<ellipse cx="267.6" cy="376.5" rx="2.42" ry="3.8" fill="#E0FFFF"/>
<ellipse cx="228.7" cy="380.4" rx="4.26" ry="4.92" fill="#D26A82"/>
<ellipse cx="229.1" cy="381.6" rx="2.8" ry="2.48" fill="#C84A72"/>
<ellipse cx="244.4" cy="390.9" rx="3.36" ry="3.05" fill="#FFE2E0"/>
<ellipse cx="270" cy="380.6" rx="2.2" ry="3.85" transform="rotate(15 270 380.6)" fill="#4169E1"/>
<ellipse cx="270" cy="380.3" rx="0.96" ry="1.92" transform="rotate(15 270 380.3)" fill="#191970"/>
</g>
<g transform="translate(165.4 356.1)" fill="none" stroke-linejoin="round"><use href="#pv" stroke="#0a0a0a" stroke-width="0.75"/><use href="#cn" stroke="#000" stroke-width="0.95"/><use href="#co" stroke="#000" stroke-width="1.5"/></g>
<rect x="165.40" y="312.80" width="138.00" height="82.60" fill="none" stroke="#3a3a3a" stroke-width="0.75"/>
<path d="M166.05 395.40 v0.9M170.39 395.40 v0.9M174.72 395.40 v0.9M179.06 395.40 v0.9M183.39 395.40 v1.7M187.73 395.40 v0.9M192.07 395.40 v0.9M196.40 395.40 v0.9M200.74 395.40 v0.9M205.07 395.40 v1.7M209.41 395.40 v0.9M213.75 395.40 v0.9M218.08 395.40 v0.9M222.42 395.40 v0.9M226.75 395.40 v1.7M231.09 395.40 v0.9M235.43 395.40 v0.9M239.76 395.40 v0.9M244.10 395.40 v0.9M248.43 395.40 v1.7M252.77 395.40 v0.9M257.11 395.40 v0.9M261.44 395.40 v0.9M265.78 395.40 v0.9M270.11 395.40 v1.7M274.45 395.40 v0.9M278.79 395.40 v0.9M283.12 395.40 v0.9M287.46 395.40 v0.9M291.79 395.40 v1.7M296.13 395.40 v0.9M300.47 395.40 v0.9M165.40 392.99 h-0.9M165.40 388.65 h-1.7M165.40 384.31 h-0.9M165.40 379.97 h-0.9M165.40 375.63 h-0.9M165.40 371.29 h-0.9M165.40 366.95 h-1.7M165.40 362.61 h-0.9M165.40 358.27 h-0.9M165.40 353.93 h-0.9M165.40 349.59 h-0.9M165.40 345.25 h-1.7M165.40 340.91 h-0.9M165.40 336.57 h-0.9M165.40 332.23 h-0.9M165.40 327.89 h-0.9M165.40 323.55 h-1.7M165.40 319.21 h-0.9M165.40 314.87 h-0.9" fill="none" stroke="#3a3a3a" stroke-width="0.45"/>
<text class="l" x="166.30" y="309.10">k</text>
<text class="t" x="233.55" y="309.50">Mode 11 of pentad 40</text>
<clipPath id="c11"><use href="#cn" transform="translate(309.7 356.1)"/></clipPath>
<g clip-path="url(#c11)">
<rect x="309.7" y="312.8" width="138" height="82.6" fill="#FFE2E0"/>
<path d="M330.7 333C332.1 330.8 340.5 329.5 344.5 329.5C348.5 329.5 352.3 331.3 354.9 333C357.5 334.7 360.3 338 360 339.9C359.8 341.8 357.2 343.8 353.1 344.2C349.1 344.6 339.6 344.3 335.9 342.5C332.1 340.6 329.3 335.1 330.7 333Z" fill="#FFC0CB"/>
<ellipse cx="342.8" cy="337.6" rx="8.52" ry="1.64" transform="rotate(5 342.8 337.6)" fill="#D26A82"/>
<ellipse cx="340.2" cy="337.3" rx="3.11" ry="0.62" transform="rotate(5 340.2 337.3)" fill="#C84A72"/>
<path d="M314.3 346.8C315 344.9 319.1 342.9 322.1 342.5C325.1 342 330.6 342.8 332.4 344.2C334.3 345.6 334.2 349.3 333.3 351.1C332.4 352.9 329.8 354.6 327.3 355.1C324.7 355.5 319.9 355.1 317.8 353.7C315.6 352.3 313.6 348.7 314.3 346.8Z" fill="#E0FFFF"/>
<path d="M325.2 357.1C325.8 355.3 331.2 355.3 335.9 355.4C340.5 355.6 347.8 357 353.1 358C358.5 359 365.3 359.2 367.8 361.5C370.3 363.8 369.9 369.8 368.3 371.8C366.7 373.8 362.3 373.7 358.3 373.5C354.3 373.4 348.8 372.1 344.5 370.9C340.2 369.8 335.7 368.9 332.4 366.6C329.2 364.3 324.6 359 325.2 357.1Z" fill="#FFC0CB"/>
<path d="M349.3 355.4C350.5 354.1 357.3 353.6 360 354C362.8 354.5 365.5 356.6 366.1 358C366.7 359.4 365.7 361.7 363.5 362.3C361.3 363 355.5 363.1 353.1 362C350.8 360.8 348.2 356.7 349.3 355.4Z" fill="#E0FFFF"/>
<ellipse cx="359.2" cy="369.6" rx="6.21" ry="2.76" fill="#E0FFFF"/>
<path d="M366.6 372.7C368.6 371.4 376.2 370.7 379 371.8C381.8 373 383.1 377.1 383.3 379.6C383.6 382.1 382.9 385.7 380.8 386.8C378.6 388 372.7 387.7 370.4 386.5C368.1 385.3 367.6 381.9 366.9 379.6C366.3 377.3 364.6 374 366.6 372.7Z" fill="#FFC0CB"/>
<ellipse cx="375.6" cy="380.4" rx="3.61" ry="2.62" fill="#D26A82"/>
<ellipse cx="410.3" cy="326.1" rx="4.83" ry="2.76" fill="#E0FFFF"/>
<path d="M428.1 328.7C430.8 327.5 442.6 326.2 445.3 327.8C448.1 329.4 446.9 335.4 444.5 338.2C442 340.9 434.1 343.9 430.7 344.2C427.2 344.5 424.1 341.5 423.8 339.9C423.5 338.3 428.2 336.6 429 334.7C429.7 332.8 425.4 329.8 428.1 328.7Z" fill="#E0FFFF"/>
<path d="M410.3 324.4C410.9 322.9 416.1 323.1 417.2 321.8C418.4 320.4 415.4 316.9 417.2 316.1C419 315.2 425.7 315.2 428.1 316.6C430.5 318 431.7 321.6 431.5 324.4C431.4 327.1 429.4 331.3 427.2 333C425.1 334.7 420.9 335.1 418.6 334.7C416.3 334.3 414.8 332.1 413.4 330.4C412 328.7 409.7 325.8 410.3 324.4Z" fill="#FFC0CB"/>
<path d="M417.5 316.5C419 315.8 425.6 316.2 427.3 316.9C429.1 317.6 429.5 320 428 320.8C426.5 321.6 420.2 322.2 418.5 321.5C416.7 320.7 416 317.3 417.5 316.5Z" fill="#D26A82"/>
<ellipse cx="422.6" cy="318.7" rx="4.04" ry="1.55" fill="#C84A72"/>
<ellipse cx="422.1" cy="318.1" rx="2.02" ry="0.78" fill="#B84A62"/>
<ellipse cx="422.9" cy="342.6" rx="4.26" ry="1.97" transform="rotate(-30 422.9 342.6)" fill="#D26A82"/>
<path d="M369.4 353.7C371.1 348.9 375 348.9 378.9 347.6C382.8 346.4 388.1 346.1 392.7 345.9C397.3 345.8 402.4 345.9 406.5 346.8C410.6 347.6 415.4 347.1 417.2 351.1C419 355.1 418 365.6 417.2 370.9C416.4 376.3 415.5 380.9 412.6 383C409.6 385.2 402.1 386.5 399.6 383.9C397.2 381.3 400.8 370.5 397.9 367.5C395 364.5 385.5 364.3 382.4 365.8C379.2 367.2 381.2 374.4 378.9 376.1C376.6 377.8 370.1 379.9 368.6 376.1C367 372.4 367.7 358.4 369.4 353.7Z" fill="#E0FFFF"/>
<path d="M371.4 355C372.9 350.9 376.1 350.8 379.6 349.6C383.2 348.4 388.4 348.1 392.8 348C397.1 347.8 402.1 348.1 405.9 348.8C409.6 349.5 413.8 348.7 415.4 352.2C416.9 355.7 415.8 365 415.1 369.8C414.3 374.5 413.3 378.8 410.8 380.7C408.3 382.7 402.2 384.1 400.1 381.7C398.1 379.4 401.4 369.4 398.5 366.5C395.6 363.6 386.2 363.1 382.9 364.4C379.7 365.6 381 372.6 379 374.2C376.9 375.8 371.9 377.4 370.6 374.2C369.4 371 369.9 359.1 371.4 355Z" fill="#66CDAA"/>
<ellipse cx="394.1" cy="354" rx="3.73" ry="5.28" fill="#3CB371"/>
<ellipse cx="410.3" cy="354" rx="4.97" ry="2.64" fill="#3CB371"/>
<ellipse cx="401" cy="362" rx="5.9" ry="3.73" fill="#3CB371"/>
<ellipse cx="382.7" cy="355.8" rx="4.97" ry="5.59" fill="#3CB371"/>
<ellipse cx="375.5" cy="360.6" rx="3.11" ry="4.66" fill="#3CB371"/>
<ellipse cx="399.6" cy="361.5" rx="2.76" ry="2.07" fill="#E0FFFF"/>
<ellipse cx="388.4" cy="354.6" rx="1.73" ry="2.42" fill="#E0FFFF"/>
<ellipse cx="403.1" cy="351.1" rx="2.42" ry="1.73" fill="#AFEEEE"/>
<ellipse cx="406.9" cy="355.4" rx="2.33" ry="1.55" transform="rotate(-20 406.9 355.4)" fill="#6495ED"/>
<ellipse cx="406.9" cy="355.4" rx="1.24" ry="0.78" transform="rotate(-20 406.9 355.4)" fill="#4169E1"/>
<ellipse cx="379.3" cy="364" rx="2.17" ry="2.17" fill="#008B8B"/>
<ellipse cx="379.3" cy="364" rx="1.4" ry="1.55" fill="#6495ED"/>
<ellipse cx="379.3" cy="364" rx="0.7" ry="0.78" fill="#4169E1"/>
<path d="M372.2 367C373.4 366.3 376 365.1 376.9 366.3C377.8 367.4 378.3 372.6 377.6 374C377 375.4 374.3 375.3 373 374.8C371.7 374.3 370 372.2 369.9 370.9C369.7 369.6 371 367.8 372.2 367Z" fill="#3CB371"/>
<path d="M400 368.1C400.7 365.6 404.6 366.3 406.5 366.5C408.4 366.8 410.7 367.3 411.4 369.6C412.2 371.9 412.4 378.5 410.8 380.5C409.2 382.5 403.6 383.5 401.8 381.4C400 379.4 399.2 370.6 400 368.1Z" fill="#3CB371"/>
<ellipse cx="405.7" cy="374.4" rx="3.11" ry="4.66" fill="#008B8B"/>
<ellipse cx="412.6" cy="365.8" rx="2.76" ry="3.45" fill="#E0FFFF"/>
<ellipse cx="412" cy="367.8" rx="1.15" ry="1.15" fill="#D26A82"/>
<path d="M382 360.2C383.4 358.6 388.3 358.1 391 359.2C393.6 360.3 396.6 364 397.9 366.6C399.2 369.2 399.9 373.3 398.8 374.7C397.6 376.2 393.7 376.2 391 375.3C388.3 374.3 384.2 371.7 382.7 369.2C381.2 366.7 380.6 361.9 382 360.2Z" fill="#FFC0CB"/>
<path d="M383.4 361.3C384.5 359.9 388.4 359.6 390.6 360.6C392.9 361.6 395.6 365 396.7 367.2C397.9 369.4 398.4 372.6 397.5 373.7C396.6 374.9 393.5 374.9 391.3 374.1C389.1 373.2 385.4 370.9 384.1 368.8C382.8 366.7 382.3 362.6 383.4 361.3Z" fill="#D26A82"/>
<path d="M384.7 362.2C385.5 361.2 388.2 361 390 361.9C391.8 362.8 394.6 366 395.6 367.8C396.7 369.6 397.1 371.9 396.4 372.8C395.7 373.6 393.4 373.7 391.6 372.9C389.7 372.2 386.5 369.9 385.4 368.1C384.2 366.3 384 363.3 384.7 362.2Z" fill="#C84A72"/>
<ellipse cx="387.5" cy="365.4" rx="2.64" ry="3.73" transform="rotate(-20 387.5 365.4)" fill="#B84A62"/>
<ellipse cx="393.6" cy="370.9" rx="3.11" ry="2.48" fill="#B84A62"/>
<path d="M380.3 377.5C382 376.2 390.4 375.9 392.7 377C395.1 378 396.2 382.5 394.4 383.9C392.7 385.2 384.7 386.2 382.4 385.1C380 384 378.6 378.9 380.3 377.5Z" fill="#FFC0CB"/>
<ellipse cx="387.5" cy="381" rx="5.25" ry="2.3" fill="#D26A82"/>
<ellipse cx="387.2" cy="381" rx="3.11" ry="1.24" fill="#C84A72"/>
<ellipse cx="400.5" cy="383.9" rx="5.18" ry="1.73" transform="rotate(-10 400.5 383.9)" fill="#E0FFFF"/>
<ellipse cx="389.4" cy="390.9" rx="3.36" ry="3.05" fill="#FFE2E0"/>
<ellipse cx="415" cy="380.6" rx="2.44" ry="4.27" transform="rotate(15 415 380.6)" fill="#FFE2E0"/>
</g>
<g transform="translate(309.7 356.1)" fill="none" stroke-linejoin="round"><use href="#pv" stroke="#0a0a0a" stroke-width="0.75"/><use href="#cn" stroke="#000" stroke-width="0.95"/><use href="#co" stroke="#000" stroke-width="1.5"/></g>
<rect x="309.70" y="312.80" width="138.00" height="82.60" fill="none" stroke="#3a3a3a" stroke-width="0.75"/>
<path d="M310.35 395.40 v0.9M314.69 395.40 v0.9M319.02 395.40 v0.9M323.36 395.40 v0.9M327.69 395.40 v1.7M332.03 395.40 v0.9M336.37 395.40 v0.9M340.70 395.40 v0.9M345.04 395.40 v0.9M349.37 395.40 v1.7M353.71 395.40 v0.9M358.05 395.40 v0.9M362.38 395.40 v0.9M366.72 395.40 v0.9M371.05 395.40 v1.7M375.39 395.40 v0.9M379.73 395.40 v0.9M384.06 395.40 v0.9M388.40 395.40 v0.9M392.73 395.40 v1.7M397.07 395.40 v0.9M401.41 395.40 v0.9M405.74 395.40 v0.9M410.08 395.40 v0.9M414.41 395.40 v1.7M418.75 395.40 v0.9M423.09 395.40 v0.9M427.42 395.40 v0.9M431.76 395.40 v0.9M436.09 395.40 v1.7M440.43 395.40 v0.9M444.77 395.40 v0.9M309.70 392.99 h-0.9M309.70 388.65 h-1.7M309.70 384.31 h-0.9M309.70 379.97 h-0.9M309.70 375.63 h-0.9M309.70 371.29 h-0.9M309.70 366.95 h-1.7M309.70 362.61 h-0.9M309.70 358.27 h-0.9M309.70 353.93 h-0.9M309.70 349.59 h-0.9M309.70 345.25 h-1.7M309.70 340.91 h-0.9M309.70 336.57 h-0.9M309.70 332.23 h-0.9M309.70 327.89 h-0.9M309.70 323.55 h-1.7M309.70 319.21 h-0.9M309.70 314.87 h-0.9" fill="none" stroke="#3a3a3a" stroke-width="0.45"/>
<text class="l" x="310.60" y="309.10">l</text>
<text class="t" x="377.85" y="309.50">Mode 12 of pentad 40</text>
<clipPath id="c12"><use href="#cn" transform="translate(20.5 457.3)"/></clipPath>
<g clip-path="url(#c12)">
<rect x="20.5" y="413.4" width="138" height="82.8" fill="#FFE2E0"/>
<ellipse cx="26" cy="447.1" rx="1.73" ry="1.38" fill="#E0FFFF"/>
<path d="M59.3 449.4C61.4 447.8 67.3 445.9 71.8 445.9C76.3 445.9 83.9 446.9 86.4 449.4C89 451.8 88.8 458.1 87 460.6C85.1 463 79.2 463.9 75.2 464C71.3 464.2 65.7 462.9 63.1 461.5C60.6 460 60.3 457.4 59.7 455.4C59.1 453.4 57.3 451 59.3 449.4Z" fill="#FFC0CB"/>
<path d="M72.1 448.3C73.1 447.4 76.7 446.7 78.6 447C80.6 447.3 83.1 448.7 83.9 450C84.6 451.3 84.4 454 83.2 454.9C82.1 455.8 78.8 455.9 77 455.5C75.2 455.2 73.2 454 72.4 452.8C71.6 451.6 71 449.3 72.1 448.3Z" fill="#D26A82"/>
<ellipse cx="78.3" cy="451.1" rx="4.35" ry="2.8" transform="rotate(10 78.3 451.1)" fill="#C84A72"/>
<ellipse cx="78.7" cy="450.6" rx="2.64" ry="1.55" transform="rotate(10 78.7 450.6)" fill="#B84A62"/>
<ellipse cx="66.6" cy="457.1" rx="5.25" ry="1.97" transform="rotate(10 66.6 457.1)" fill="#D26A82"/>
<path d="M35.2 457.5C36 456 41.2 456 45.9 456.3C50.5 456.6 60.3 457.6 63.1 459.2C66 460.8 65.2 464.3 63.1 465.8C61.1 467.2 54.8 468 51.1 467.8C47.3 467.7 43.4 466.6 40.7 464.9C38.1 463.2 34.3 458.9 35.2 457.5Z" fill="#FFC0CB"/>
<path d="M51.9 465.4C53.1 464.1 58.8 463.4 63.1 463.2C67.5 462.9 75.3 462.6 77.8 464C80.3 465.5 79.9 470.2 78.3 471.8C76.7 473.4 72 473.7 68.3 473.5C64.6 473.4 59 472.3 56.2 470.9C53.5 469.6 50.8 466.7 51.9 465.4Z" fill="#E0FFFF"/>
<path d="M54.5 466.6C55.5 465.9 59.7 465 63.1 464.9C66.6 464.8 73.1 464.8 75.2 465.8C77.3 466.7 77 469.6 75.6 470.6C74.1 471.6 69.7 472.2 66.6 472C63.5 471.8 59.1 470.5 57.1 469.6C55.1 468.7 53.5 467.4 54.5 466.6Z" fill="#AFEEEE"/>
<path d="M78.7 460.9C80.7 458.5 90 457.5 92.5 459.7C94.9 462 95.4 472 93.3 474.4C91.3 476.8 82.8 476.6 80.4 474.4C78 472.2 76.7 463.4 78.7 460.9Z" fill="#FFC0CB"/>
<ellipse cx="88.7" cy="468.4" rx="2.3" ry="6.23" transform="rotate(15 88.7 468.4)" fill="#D26A82"/>
<ellipse cx="88.7" cy="468.4" rx="1.09" ry="4.04" transform="rotate(15 88.7 468.4)" fill="#C84A72"/>
<path d="M76.5 474.7C77.5 473.6 81.4 472.8 82.9 473.9C84.3 475 85 479.2 85 481.3C85 483.4 83.9 485.7 82.9 486.5C81.8 487.3 79.8 486.9 78.8 485.8C77.7 484.8 77.2 482.3 76.8 480.4C76.4 478.6 75.5 475.8 76.5 474.7Z" fill="#66CDAA"/>
<ellipse cx="80.4" cy="480.4" rx="2.02" ry="4.97" fill="#3CB371"/>
<ellipse cx="90.4" cy="479.9" rx="3.93" ry="3.61" fill="#D26A82"/>
<ellipse cx="90.8" cy="480.3" rx="2.17" ry="2.02" fill="#C84A72"/>
<path d="M75.1 441.6C76.3 440.2 78 440.6 82 439.9C86 439.2 93.5 438.1 99.3 437.3C105 436.5 113.2 434.5 116.5 435.1C119.8 435.6 120.5 439.1 119.1 440.7C117.7 442.4 112.4 444.1 107.9 445.1C103.4 446.1 97.8 446.2 92.4 446.8C86.9 447.4 78 449.4 75.1 448.5C72.2 447.6 74 443 75.1 441.6Z" fill="#FFC0CB"/>
<path d="M115.7 433C115.7 430.5 117.2 427.8 119.1 425.2C121 422.6 123.9 418.6 127.2 417.5C130.5 416.3 136.6 416.6 139 418.3C141.3 420 141.5 424.8 141.5 427.8C141.5 430.8 141.3 434.4 139 436.4C136.6 438.4 130.5 439.3 127.2 439.9C123.9 440.5 121 441 119.1 439.9C117.2 438.7 115.7 435.4 115.7 433Z" fill="#E0FFFF"/>
<path d="M121.3 426.1C121.7 424.2 124.7 420.5 127.4 419.5C130.1 418.6 135.7 419 137.7 420.3C139.7 421.7 140 426.1 139.4 427.7C138.7 429.3 136 429.6 133.6 430.2C131.3 430.7 127.5 431.7 125.4 431C123.4 430.3 121 428 121.3 426.1Z" fill="#66CDAA"/>
<ellipse cx="130.7" cy="424.7" rx="6.21" ry="4.04" transform="rotate(-20 130.7 424.7)" fill="#3CB371"/>
<path d="M115.7 435.6C116.8 434 122 431.7 125.1 430.4C128.3 429.1 132.9 427.5 134.6 427.8C136.4 428.1 136.7 430.5 135.5 432.1C134.3 433.7 130.1 436 127.2 437.3C124.3 438.6 120.2 440.2 118.2 439.9C116.3 439.6 114.5 437.2 115.7 435.6Z" fill="#FFC0CB"/>
<path d="M117.8 435.5C118.8 434.3 122.6 432.4 125.2 431.4C127.7 430.4 131.7 429.3 133.1 429.4C134.4 429.5 134.4 430.9 133.4 432C132.3 433.1 129.2 434.9 126.8 436C124.5 437 121 438.3 119.5 438.3C117.9 438.2 116.9 436.6 117.8 435.5Z" fill="#D26A82"/>
<ellipse cx="126" cy="433.3" rx="4.04" ry="1.24" transform="rotate(-28 126 433.3)" fill="#C84A72"/>
<ellipse cx="137.2" cy="435.6" rx="5.18" ry="3.8" fill="#E0FFFF"/>
<path d="M139.8 433.8C142.3 432.3 145.7 429.7 148.4 428.7C151.2 427.6 155.2 427 156.6 427.5C157.9 427.9 157.9 429.6 156.6 431.3C155.2 432.9 151.1 434.7 148.4 437.3C145.8 439.9 144.2 444.9 140.7 446.8C137.1 448.7 129.4 449.1 127.2 448.5C125.1 447.9 126.6 445.1 127.7 443.3C128.8 441.6 131.8 439.7 133.8 438.2C135.8 436.6 137.4 435.4 139.8 433.8Z" fill="#FFC0CB"/>
<path d="M141.6 434C143.9 432.5 146.4 430.8 148.6 429.9C150.9 429.1 154.2 428.7 155.2 428.9C156.2 429.1 156.1 430 154.9 431.2C153.6 432.5 150.1 434.2 147.7 436.5C145.2 438.8 143.2 443.3 140.1 445C137.1 446.7 131 446.9 129.3 446.6C127.5 446.4 128.7 444.6 129.6 443.4C130.6 442.1 133 440.5 135 438.9C137 437.4 139.3 435.5 141.6 434Z" fill="#D26A82"/>
<ellipse cx="148.4" cy="432.1" rx="6.52" ry="1.71" transform="rotate(-28 148.4 432.1)" fill="#C84A72"/>
<ellipse cx="135.8" cy="440.7" rx="4.04" ry="2.02" transform="rotate(-35 135.8 440.7)" fill="#C84A72"/>
<ellipse cx="136.9" cy="439.9" rx="2.17" ry="1.09" transform="rotate(-35 136.9 439.9)" fill="#B84A62"/>
<ellipse cx="117.6" cy="445.4" rx="3.28" ry="3.28" fill="#D26A82"/>
<ellipse cx="117.6" cy="445.9" rx="1.4" ry="1.4" fill="#C84A72"/>
<path d="M101 447.6C103 445.9 110.4 446.4 114.8 446.8C119.2 447.2 125.2 448.5 127.2 450.2C129.2 452 128.7 455.8 126.9 457.1C125.1 458.4 120.5 458 116.5 458C112.5 458 105.3 458.9 102.7 457.1C100.1 455.4 99 449.4 101 447.6Z" fill="#E0FFFF"/>
<path d="M102.7 448.4C103.9 446.8 109.3 446.7 111.2 447.4C113.2 448.1 114.2 451.2 114.5 452.8C114.8 454.4 114.6 456.3 112.9 456.9C111.1 457.5 105.5 458 103.9 456.6C102.2 455.2 101.5 449.9 102.7 448.4Z" fill="#66CDAA"/>
<path d="M115.9 450.7C117.4 449.7 124.1 449.8 125.8 450.7C127.4 451.6 127.4 455.1 125.9 456.1C124.4 457.2 118.4 457.9 116.7 457C115.1 456.1 114.4 451.8 115.9 450.7Z" fill="#66CDAA"/>
<ellipse cx="121" cy="453.7" rx="4.04" ry="2.17" fill="#3CB371"/>
<path d="M100.1 457.1C101.3 456.5 105 456.4 107.9 457.1C110.8 457.9 115.8 460.1 117.4 461.5C119 462.8 119 465 117.4 465.4C115.8 465.9 110.7 464.8 107.9 464C105.1 463.3 101.9 462.1 100.6 460.9C99.4 459.8 98.9 457.8 100.1 457.1Z" fill="#FFC0CB"/>
<path d="M101.4 458C102.4 457.6 105.5 457.5 107.9 458.2C110.4 458.8 114.8 461 116.1 462.1C117.5 463.2 117.5 464.4 116.1 464.5C114.8 464.7 110.3 463.8 107.9 463.1C105.5 462.4 102.8 461.1 101.7 460.3C100.6 459.4 100.3 458.3 101.4 458Z" fill="#D26A82"/>
<ellipse cx="108.8" cy="461.3" rx="6.83" ry="1.4" transform="rotate(18 108.8 461.3)" fill="#C84A72"/>
<ellipse cx="107.9" cy="460.9" rx="3.42" ry="0.7" transform="rotate(18 107.9 460.9)" fill="#B84A62"/>
<path d="M117.6 457.7C118.9 456.3 124.8 456 126.3 457.4C127.9 458.7 128.3 464.2 127 465.6C125.7 466.9 120 466.9 118.5 465.6C116.9 464.2 116.3 459.1 117.6 457.7Z" fill="#66CDAA"/>
<ellipse cx="121.4" cy="460.2" rx="3.11" ry="2.33" fill="#3CB371"/>
<ellipse cx="123.4" cy="464" rx="1.97" ry="1.8" fill="#D26A82"/>
<ellipse cx="123.4" cy="464" rx="0.93" ry="0.93" fill="#C84A72"/>
<path d="M88.9 459.5C90.3 457.2 97.1 456.5 99.1 457.5C101.1 458.6 101.2 463.4 101.1 465.7C100.9 468.1 100 470.5 98.3 471.5C96.6 472.4 92.4 473.5 90.9 471.5C89.3 469.5 87.6 461.8 88.9 459.5Z" fill="#66CDAA"/>
<ellipse cx="95" cy="464.4" rx="4.04" ry="5.59" fill="#3CB371"/>
<ellipse cx="94.8" cy="468.4" rx="2.02" ry="1.55" fill="#008B8B"/>
<ellipse cx="94.8" cy="468.7" rx="1.4" ry="0.93" fill="#6495ED"/>
<ellipse cx="94.8" cy="468.7" rx="0.7" ry="0.47" fill="#4169E1"/>
<ellipse cx="88.2" cy="467.5" rx="2.13" ry="6.56" transform="rotate(30 88.2 467.5)" fill="#D26A82"/>
<ellipse cx="88.2" cy="467.5" rx="1.09" ry="4.66" transform="rotate(30 88.2 467.5)" fill="#C84A72"/>
<path d="M99.5 466C102.3 464.9 112.6 465.4 116.3 465.7C119.9 466 120.7 466.3 121.5 468C122.3 469.7 122.9 474.8 121.2 476.2C119.5 477.6 113.3 476.8 111.3 476.2C109.4 475.6 111.6 473.2 109.7 472.6C107.8 472 101.6 473.7 99.9 472.6C98.2 471.5 96.8 467.2 99.5 466Z" fill="#66CDAA"/>
<path d="M101.3 467.1C103.5 466.3 112.1 466.6 115.2 466.9C118.3 467.2 119.2 467.7 119.9 469.1C120.6 470.4 120.7 473.9 119.4 474.8C118.1 475.8 113.6 475.4 112.1 474.8C110.7 474.3 112.3 472.1 110.6 471.6C108.8 471 103.3 472.3 101.7 471.6C100.2 470.8 99 467.8 101.3 467.1Z" fill="#3CB371"/>
<ellipse cx="115.1" cy="470.6" rx="3.11" ry="2.17" fill="#008B8B"/>
<ellipse cx="115.1" cy="470.6" rx="1.55" ry="1.24" fill="#6495ED"/>
<ellipse cx="115.1" cy="470.6" rx="0.78" ry="0.62" fill="#4169E1"/>
<path d="M92.4 472.7C94.9 471.5 105.2 471.5 107.9 472.7C110.6 473.8 111.3 478.4 108.8 479.6C106.2 480.7 95.4 480.7 92.7 479.6C90 478.4 89.8 473.8 92.4 472.7Z" fill="#FFC0CB"/>
<path d="M93.8 473.5C95.8 472.7 104.5 472.8 106.7 473.7C108.9 474.5 109.2 477.9 107.2 478.7C105.1 479.6 96.6 479.6 94.4 478.7C92.2 477.9 91.7 474.3 93.8 473.5Z" fill="#D26A82"/>
<ellipse cx="100.1" cy="476.1" rx="5.59" ry="2.02" fill="#C84A72"/>
<path d="M110.7 474.9C112.1 473.7 117.9 473.7 119.4 474.9C121 476.2 121.4 481.2 120.1 482.5C118.7 483.7 112.8 483.7 111.2 482.5C109.7 481.2 109.4 476.2 110.7 474.9Z" fill="#66CDAA"/>
<ellipse cx="115.1" cy="478.7" rx="3.11" ry="3.11" fill="#3CB371"/>
<ellipse cx="124.8" cy="470.1" rx="1.48" ry="4.26" fill="#D26A82"/>
<ellipse cx="107.9" cy="480.4" rx="2.95" ry="2.3" fill="#66CDAA"/>
<path d="M90.3 480.4C92.4 479.6 99.9 482 104.4 482.2C109 482.3 115.4 480.7 117.4 481.3C119.4 481.9 118.7 484.4 116.5 485.6C114.4 486.8 108.6 488.3 104.4 488.5C100.3 488.8 93.9 488.7 91.5 487.3C89.1 486 88.1 481.3 90.3 480.4Z" fill="#FFC0CB"/>
<path d="M92.1 481.8C94 481.2 100.5 483 104.4 483.1C108.4 483.2 114.1 482.1 115.9 482.4C117.7 482.8 117 484.2 115.1 485.1C113.2 485.9 108.1 487.1 104.4 487.4C100.8 487.6 95.3 487.3 93.3 486.4C91.2 485.4 90.3 482.3 92.1 481.8Z" fill="#D26A82"/>
<ellipse cx="103.6" cy="485.1" rx="9.32" ry="1.24" transform="rotate(-3 103.6 485.1)" fill="#C84A72"/>
<path d="M77.1 473.9C78.2 471.6 83 471.9 84.5 473C86 474.1 86.1 478.2 86.1 480.4C86.1 482.7 85.8 485.5 84.5 486.5C83.1 487.5 79.1 488.6 77.9 486.5C76.7 484.4 76 476.1 77.1 473.9Z" fill="#66CDAA"/>
<ellipse cx="82.4" cy="480.4" rx="1.86" ry="5.28" fill="#3CB371"/>
<ellipse cx="99.4" cy="490.9" rx="3.36" ry="3.05" fill="#FFC0CB"/>
<ellipse cx="125" cy="480.6" rx="2.44" ry="4.27" transform="rotate(15 125 480.6)" fill="#FFE2E0"/>
</g>
<g transform="translate(20.5 457.3)" fill="none" stroke-linejoin="round"><use href="#pv" stroke="#0a0a0a" stroke-width="0.75"/><use href="#cn" stroke="#000" stroke-width="0.95"/><use href="#co" stroke="#000" stroke-width="1.5"/></g>
<g transform="translate(133.60 465.10)">
<rect width="24.90" height="31.10" fill="#fff"/>
<path d="M0.4 0.4 L17.6 0.4 C15.5 2.2 12 4 8.5 4.7 C5.5 5.2 2.5 3.8 0.4 0.4Z" fill="#D26A82" stroke="#000" stroke-width="1.1"/>
<circle cx="5.8" cy="7.3" r="1.35" fill="#D26A82" stroke="#000" stroke-width="0.8"/>
<path d="M18 0.4 L22.4 0.4 L21.4 3.6 L19.4 2.4Z" fill="#FFE2E0" stroke="#000" stroke-width="0.6"/>
<use href="#dots"/>
<rect width="24.90" height="31.10" fill="none" stroke="#333" stroke-width="0.75"/>
</g>
<rect x="20.50" y="413.40" width="138.00" height="82.80" fill="none" stroke="#3a3a3a" stroke-width="0.75"/>
<path d="M21.15 496.20 v0.9M25.49 496.20 v0.9M29.82 496.20 v0.9M34.16 496.20 v0.9M38.49 496.20 v1.7M42.83 496.20 v0.9M47.17 496.20 v0.9M51.50 496.20 v0.9M55.84 496.20 v0.9M60.17 496.20 v1.7M64.51 496.20 v0.9M68.85 496.20 v0.9M73.18 496.20 v0.9M77.52 496.20 v0.9M81.85 496.20 v1.7M86.19 496.20 v0.9M90.53 496.20 v0.9M94.86 496.20 v0.9M99.20 496.20 v0.9M103.53 496.20 v1.7M107.87 496.20 v0.9M112.21 496.20 v0.9M116.54 496.20 v0.9M120.88 496.20 v0.9M125.21 496.20 v1.7M129.55 496.20 v0.9M133.89 496.20 v0.9M138.22 496.20 v0.9M142.56 496.20 v0.9M146.89 496.20 v1.7M151.23 496.20 v0.9M155.57 496.20 v0.9M20.50 494.19 h-0.9M20.50 489.85 h-1.7M20.50 485.51 h-0.9M20.50 481.17 h-0.9M20.50 476.83 h-0.9M20.50 472.49 h-0.9M20.50 468.15 h-1.7M20.50 463.81 h-0.9M20.50 459.47 h-0.9M20.50 455.13 h-0.9M20.50 450.79 h-0.9M20.50 446.45 h-1.7M20.50 442.11 h-0.9M20.50 437.77 h-0.9M20.50 433.43 h-0.9M20.50 429.09 h-0.9M20.50 424.75 h-1.7M20.50 420.41 h-0.9M20.50 416.07 h-0.9" fill="none" stroke="#3a3a3a" stroke-width="0.45"/>
<text class="k" x="17.40" y="426.45" text-anchor="end">50°N</text>
<text class="k" x="17.40" y="448.15" text-anchor="end">40°N</text>
<text class="k" x="17.40" y="469.85" text-anchor="end">30°N</text>
<text class="k" x="17.40" y="491.55" text-anchor="end">20°N</text>
<text class="k" x="38.49" y="502.90" text-anchor="middle">80°E</text>
<text class="k" x="60.17" y="502.90" text-anchor="middle">90°E</text>
<text class="k" x="81.85" y="502.90" text-anchor="middle">100°E</text>
<text class="k" x="103.53" y="502.90" text-anchor="middle">110°E</text>
<text class="k" x="125.21" y="502.90" text-anchor="middle">120°E</text>
<text class="k" x="146.89" y="502.90" text-anchor="middle">130°E</text>
<text class="l" x="21.40" y="409.70">m</text>
<text class="t" x="88.65" y="410.10">Mode 13 of pentad 40</text>
<clipPath id="c13"><use href="#cn" transform="translate(165.4 457.3)"/></clipPath>
<g clip-path="url(#c13)">
<rect x="165.4" y="413.4" width="138" height="82.8" fill="#FFE2E0"/>
<path d="M168.8 447.6C169.2 446 173.1 444.3 175.4 444.2C177.6 444.1 180 446.1 182.3 446.8C184.6 447.5 187.7 447.2 189.2 448.5C190.6 449.8 192 453.3 190.9 454.6C189.7 455.8 185.3 456.4 182.3 456.3C179.2 456.2 175 455.5 172.8 454C170.5 452.6 168.4 449.3 168.8 447.6Z" fill="#E0FFFF"/>
<path d="M184 436.4C185.9 434.1 192 430.1 196.1 429.5C200.1 429 205 431.3 208.1 433C211.3 434.7 214.2 437.3 215 439.9C215.9 442.5 215.9 446.4 213.3 448.5C210.7 450.7 203.3 453 199.5 452.8C195.8 452.7 193.3 449.2 190.9 447.6C188.4 446.1 186 445.2 184.8 443.3C183.7 441.5 182.1 438.7 184 436.4Z" fill="#FFC0CB"/>
<path d="M203.8 449.4C205.8 447.8 212.9 447.5 216.8 445.9C220.7 444.3 222.8 441.2 227.1 439.9C231.5 438.6 240.4 436.4 243 438.2C245.6 439.9 244.8 448.1 243 450.2C241.2 452.4 234.2 449.2 232.3 451.1C230.4 453 233.4 459.4 231.4 461.5C229.4 463.5 224.1 463.2 220.2 463.2C216.3 463.2 210.7 462.7 208.1 461.5C205.6 460.2 205.4 457.4 204.7 455.4C204 453.4 201.8 451 203.8 449.4Z" fill="#E0FFFF"/>
<path d="M205.6 451.1C206.8 449.2 212.7 448.5 216.8 448.5C220.8 448.5 227.6 449.2 229.7 451.1C231.9 453 231.3 458 229.7 459.7C228.1 461.5 223.7 461.5 220.2 461.5C216.8 461.5 211.4 461.5 209 459.7C206.6 458 204.3 453 205.6 451.1Z" fill="#AFEEEE"/>
<path d="M180.2 458C180.8 456.3 186.2 456 190.9 456.3C195.5 456.6 202.7 458.6 208.1 459.7C213.6 460.9 220.9 461 223.7 463.2C226.4 465.3 226.3 470.9 224.5 472.7C222.8 474.5 217.5 474.3 213.3 474.1C209.1 473.8 203.8 472.2 199.5 470.9C195.2 469.7 190.7 468.8 187.4 466.6C184.2 464.5 179.6 459.7 180.2 458Z" fill="#FFC0CB"/>
<path d="M194.3 465.6C194.7 464.8 198.5 465 203.3 465.1C208.1 465.1 219.6 464.8 223 465.9C226.4 467 225.3 470.5 223.8 471.6C222.3 472.8 217.8 473.1 214 472.8C210.1 472.5 204.1 471.2 200.8 470C197.6 468.8 193.9 466.4 194.3 465.6Z" fill="#D26A82"/>
<path d="M200.4 467.7C201.3 467.3 205 467.6 208.4 467.7C211.9 467.7 218.7 467.4 220.9 468C223 468.6 222.5 470.5 221.2 471.1C219.9 471.7 216.1 471.9 213.1 471.7C210.1 471.5 205.1 470.5 203 469.9C200.9 469.2 199.5 468 200.4 467.7Z" fill="#C84A72"/>
<ellipse cx="210.2" cy="469.6" rx="6.99" ry="0.93" transform="rotate(3 210.2 469.6)" fill="#B84A62"/>
<ellipse cx="229.2" cy="468.9" rx="4.26" ry="5.25" fill="#D26A82"/>
<ellipse cx="228.8" cy="469.6" rx="2.02" ry="2.64" fill="#C84A72"/>
<path d="M221.7 474.4C223.6 473.1 231 472.2 233.8 473C236.6 473.9 238.1 477.4 238.4 479.6C238.7 481.8 237.6 485.3 235.4 486.5C233.3 487.6 227.8 487.5 225.6 486.5C223.4 485.5 222.6 482.4 222 480.4C221.3 478.4 219.7 475.6 221.7 474.4Z" fill="#66CDAA"/>
<ellipse cx="229.7" cy="480.4" rx="6.21" ry="4.66" fill="#3CB371"/>
<ellipse cx="230.6" cy="479.6" rx="3.11" ry="2.17" fill="#008B8B"/>
<path d="M216.7 441.6C218.4 439.5 222.4 439.2 227 438.2C231.6 437.2 238.5 436.4 244.3 435.6C250 434.7 258.2 434.9 261.5 433C264.8 431.1 262.3 426.9 264.1 424.4C265.9 421.8 268.9 418.5 272.2 417.5C275.5 416.4 282.9 416.9 284 418.3C285 419.8 279.8 422.8 278.8 426.1C277.8 429.4 279 435.4 277.9 438.2C276.8 440.9 273.5 440.3 272.2 442.5C270.9 444.6 272.1 449.7 270.1 451.1C268.2 452.5 264.4 451.7 260.7 451.1C256.9 450.5 251.6 448.1 247.7 447.6C243.8 447.2 240.8 447.9 237.4 448.5C233.9 449.1 230.5 450.7 227 451.1C223.6 451.5 218.4 452.7 216.7 451.1C214.9 449.5 214.9 443.8 216.7 441.6Z" fill="#E0FFFF"/>
<path d="M261.6 432.9C261.9 430.7 263.1 428.1 264.9 426C266.6 423.9 270.1 420.9 272.1 420.1C274.1 419.3 276.2 418.6 277 421.4C277.8 424.2 277.7 434 276.7 437C275.7 440 273.3 439.1 270.9 439.4C268.6 439.8 264.3 440.2 262.7 439.1C261.2 438 261.2 435.1 261.6 432.9Z" fill="#66CDAA"/>
<ellipse cx="271" cy="430.4" rx="4.04" ry="6.21" transform="rotate(10 271 430.4)" fill="#3CB371"/>
<path d="M278.8 426.9C280 425.2 281.9 424.3 285.7 424.4C289.5 424.4 299.1 425.4 301.6 427.5C304 429.5 302.8 433.8 300.3 436.4C297.8 439.1 290.1 442.3 286.5 443.3C282.9 444.3 280.2 443.9 278.8 442.5C277.4 441 278.1 437.3 278.1 434.7C278.1 432.1 277.5 428.7 278.8 426.9Z" fill="#FFC0CB"/>
<path d="M285 428.9C287.2 427.5 289.9 427.3 292.4 427.3C295 427.2 299.2 427.5 300.3 428.7C301.4 430 301.1 433.4 299 435C296.8 436.5 290.6 436.9 287.5 437.9C284.3 439 281.4 441.6 280.1 441.2C278.8 440.8 278.8 437.5 279.6 435.5C280.4 433.4 282.9 430.3 285 428.9Z" fill="#D26A82"/>
<ellipse cx="293.4" cy="432.1" rx="5.59" ry="2.48" transform="rotate(-20 293.4 432.1)" fill="#C84A72"/>
<ellipse cx="299.5" cy="429.5" rx="1.55" ry="1.24" fill="#B84A62"/>
<ellipse cx="283.1" cy="439" rx="3.61" ry="2.95" fill="#D26A82"/>
<path d="M241.7 449.4C242.7 447.6 247 447.6 249.4 447.6C251.9 447.6 255.1 447.2 256.3 449.4C257.6 451.5 257.8 458.6 256.7 460.6C255.5 462.6 251.7 461.9 249.4 461.5C247.2 461 244.7 460 243.4 458C242.1 456 240.7 451.1 241.7 449.4Z" fill="#FFC0CB"/>
<ellipse cx="251.5" cy="454.6" rx="3.28" ry="5.57" fill="#D26A82"/>
<ellipse cx="251.5" cy="455.4" rx="1.4" ry="2.8" fill="#C84A72"/>
<path d="M259.4 451.6C261.5 449.7 270.1 449.7 272.2 450.6C274.3 451.5 272.7 455 271.9 457.1C271.1 459.2 269.6 462.3 267.6 463.2C265.5 464 261.1 464.2 259.8 462.3C258.4 460.4 257.4 453.6 259.4 451.6Z" fill="#FFC0CB"/>
<path d="M260 453C261.1 451.5 266 450.9 267.4 452.2C268.8 453.6 269.3 459.6 268.2 461.2C267.1 462.8 262.2 463.1 260.8 461.7C259.5 460.4 258.9 454.6 260 453Z" fill="#D26A82"/>
<ellipse cx="263.6" cy="458" rx="3.11" ry="3.42" fill="#C84A72"/>
<ellipse cx="263.2" cy="458.2" rx="1.86" ry="2.17" fill="#B84A62"/>
<ellipse cx="267.6" cy="452.8" rx="2.62" ry="1.31" fill="#66CDAA"/>
<path d="M248 460.4C249.7 458.9 257.2 458.2 259.2 459.5C261.1 460.7 261.6 466.6 259.8 468.1C258.1 469.7 250.8 469.9 248.8 468.6C246.9 467.4 246.3 462 248 460.4Z" fill="#66CDAA"/>
<ellipse cx="253.9" cy="464" rx="4.35" ry="3.11" fill="#3CB371"/>
<ellipse cx="252.9" cy="463.7" rx="1.86" ry="1.4" fill="#008B8B"/>
<path d="M260.7 463.2C262.8 462.7 267 460.9 268.4 462.7C269.9 464.4 271.4 471.6 269.3 473.5C267.1 475.5 257.8 475.7 255.5 474.4C253.2 473.1 254.6 467.6 255.5 465.8C256.3 463.9 258.5 463.7 260.7 463.2Z" fill="#FFC0CB"/>
<path d="M261.6 464.2C263.3 463.8 266.4 462.6 267.5 463.9C268.5 465.3 269.9 470.9 268.1 472.4C266.4 474 258.8 474.1 257 473.1C255.1 472.1 256.2 468.2 257 466.7C257.7 465.2 259.8 464.7 261.6 464.2Z" fill="#D26A82"/>
<ellipse cx="262.4" cy="468.9" rx="4.35" ry="3.73" fill="#C84A72"/>
<ellipse cx="263.6" cy="465.8" rx="1.55" ry="1.4" fill="#B84A62"/>
<ellipse cx="270.1" cy="466.6" rx="1.97" ry="4.26" fill="#66CDAA"/>
<ellipse cx="270.1" cy="466.6" rx="0.93" ry="2.33" fill="#3CB371"/>
<path d="M222.7 461.5C224.6 459.3 232.6 458.7 234.8 460.6C236.9 462.5 237.5 470.5 235.6 472.7C233.8 474.8 225.7 475.4 223.6 473.5C221.4 471.7 220.8 463.6 222.7 461.5Z" fill="#FFC0CB"/>
<ellipse cx="229.6" cy="467.1" rx="4.59" ry="4.92" fill="#D26A82"/>
<ellipse cx="228.7" cy="467.8" rx="2.17" ry="2.48" fill="#C84A72"/>
<path d="M235.6 464C237.2 460.7 244 460 246 463.2C247.9 466.3 249 479.7 247.4 483C245.8 486.3 238.5 486.2 236.5 483C234.5 479.9 234.1 467.4 235.6 464Z" fill="#E0FFFF"/>
<path d="M236.7 465.3C238 462.5 243.4 462.1 244.9 464.8C246.4 467.6 247 478.9 245.8 481.7C244.5 484.5 239.1 484.5 237.6 481.7C236.1 479 235.5 468.1 236.7 465.3Z" fill="#66CDAA"/>
<ellipse cx="240.8" cy="470.9" rx="3.11" ry="5.59" fill="#3CB371"/>
<ellipse cx="240.5" cy="473.5" rx="1.55" ry="2.48" fill="#008B8B"/>
<path d="M241.7 476.1C243.3 474.8 250.2 474.1 252 475.3C253.8 476.4 254.2 481.7 252.5 483C250.9 484.4 244 484.5 242.2 483.4C240.4 482.2 240 477.5 241.7 476.1Z" fill="#FFC0CB"/>
<ellipse cx="246.9" cy="479.6" rx="4.26" ry="2.95" fill="#D26A82"/>
<ellipse cx="246.9" cy="479.6" rx="2.8" ry="1.71" fill="#C84A72"/>
<ellipse cx="246.3" cy="479.9" rx="1.24" ry="0.78" fill="#B84A62"/>
<path d="M253.3 473.8C256 472.2 266.8 471.2 269.7 472.2C272.5 473.2 271.4 477.5 270.5 479.6C269.5 481.6 267.2 483.5 263.9 484.5C260.6 485.5 252.6 486.2 250.8 485.8C249 485.4 252.8 484 253.3 482C253.7 480 250.5 475.5 253.3 473.8Z" fill="#66CDAA"/>
<path d="M255.2 474.9C257.4 473.6 266.1 473 268.3 473.6C270.5 474.3 269.4 477.4 268.6 478.9C267.8 480.5 265.8 482.1 263.3 483C260.8 483.8 255 484.2 253.7 483.9C252.4 483.6 255.3 482.6 255.5 481.1C255.8 479.6 253.1 476.1 255.2 474.9Z" fill="#3CB371"/>
<ellipse cx="259.8" cy="480.4" rx="4.97" ry="1.55" fill="#008B8B"/>
<ellipse cx="258.9" cy="480.6" rx="4.04" ry="0.93" fill="#6495ED"/>
<ellipse cx="248.6" cy="471.8" rx="3.8" ry="2.42" fill="#E0FFFF"/>
<ellipse cx="241.7" cy="486.1" rx="3.28" ry="1.15" fill="#D26A82"/>
<path d="M222.2 473.9C224 471.5 231.5 471.5 233.7 472.7C235.9 474 235.5 478.9 235.3 481.3C235.2 483.6 234.9 486 232.9 487C230.8 487.9 224.8 489.2 223 487C221.3 484.8 220.4 476.3 222.2 473.9Z" fill="#66CDAA"/>
<ellipse cx="228.4" cy="479.9" rx="4.66" ry="5.59" fill="#3CB371"/>
<ellipse cx="244.4" cy="490.9" rx="3.36" ry="3.05" fill="#FFE2E0"/>
<ellipse cx="270" cy="480.6" rx="2.2" ry="3.85" transform="rotate(15 270 480.6)" fill="#B84A62"/>
<ellipse cx="270" cy="480.3" rx="0.96" ry="1.92" transform="rotate(15 270 480.3)" fill="#E08262"/>
</g>
<g transform="translate(165.4 457.3)" fill="none" stroke-linejoin="round"><use href="#pv" stroke="#0a0a0a" stroke-width="0.75"/><use href="#cn" stroke="#000" stroke-width="0.95"/><use href="#co" stroke="#000" stroke-width="1.5"/></g>
<g transform="translate(278.50 465.10)">
<rect width="24.90" height="31.10" fill="#fff"/>
<path d="M0.4 0.4 L17.6 0.4 C15.5 2.2 12 4 8.5 4.7 C5.5 5.2 2.5 3.8 0.4 0.4Z" fill="#66CDAA" stroke="#000" stroke-width="1.1"/>
<circle cx="5.8" cy="7.3" r="1.35" fill="#66CDAA" stroke="#000" stroke-width="0.8"/>
<path d="M18 0.4 L22.4 0.4 L21.4 3.6 L19.4 2.4Z" fill="#E08262" stroke="#000" stroke-width="0.6"/>
<use href="#dots"/>
<rect width="24.90" height="31.10" fill="none" stroke="#333" stroke-width="0.75"/>
</g>
<rect x="165.40" y="413.40" width="138.00" height="82.80" fill="none" stroke="#3a3a3a" stroke-width="0.75"/>
<path d="M166.05 496.20 v0.9M170.39 496.20 v0.9M174.72 496.20 v0.9M179.06 496.20 v0.9M183.39 496.20 v1.7M187.73 496.20 v0.9M192.07 496.20 v0.9M196.40 496.20 v0.9M200.74 496.20 v0.9M205.07 496.20 v1.7M209.41 496.20 v0.9M213.75 496.20 v0.9M218.08 496.20 v0.9M222.42 496.20 v0.9M226.75 496.20 v1.7M231.09 496.20 v0.9M235.43 496.20 v0.9M239.76 496.20 v0.9M244.10 496.20 v0.9M248.43 496.20 v1.7M252.77 496.20 v0.9M257.11 496.20 v0.9M261.44 496.20 v0.9M265.78 496.20 v0.9M270.11 496.20 v1.7M274.45 496.20 v0.9M278.79 496.20 v0.9M283.12 496.20 v0.9M287.46 496.20 v0.9M291.79 496.20 v1.7M296.13 496.20 v0.9M300.47 496.20 v0.9M165.40 494.19 h-0.9M165.40 489.85 h-1.7M165.40 485.51 h-0.9M165.40 481.17 h-0.9M165.40 476.83 h-0.9M165.40 472.49 h-0.9M165.40 468.15 h-1.7M165.40 463.81 h-0.9M165.40 459.47 h-0.9M165.40 455.13 h-0.9M165.40 450.79 h-0.9M165.40 446.45 h-1.7M165.40 442.11 h-0.9M165.40 437.77 h-0.9M165.40 433.43 h-0.9M165.40 429.09 h-0.9M165.40 424.75 h-1.7M165.40 420.41 h-0.9M165.40 416.07 h-0.9" fill="none" stroke="#3a3a3a" stroke-width="0.45"/>
<text class="k" x="183.39" y="502.90" text-anchor="middle">80°E</text>
<text class="k" x="205.07" y="502.90" text-anchor="middle">90°E</text>
<text class="k" x="226.75" y="502.90" text-anchor="middle">100°E</text>
<text class="k" x="248.43" y="502.90" text-anchor="middle">110°E</text>
<text class="k" x="270.11" y="502.90" text-anchor="middle">120°E</text>
<text class="k" x="291.79" y="502.90" text-anchor="middle">130°E</text>
<text class="l" x="166.30" y="409.70">n</text>
<text class="t" x="233.55" y="410.10">Mode 14 of pentad 40</text>
<clipPath id="c14"><use href="#cn" transform="translate(309.7 457.3)"/></clipPath>
<g clip-path="url(#c14)">
<rect x="309.7" y="413.4" width="138" height="82.8" fill="#E0FFFF"/>
<path d="M328.1 434.7C329.6 433.4 334.7 431.4 337.6 431.3C340.5 431.1 344.2 432.4 345.4 433.8C346.5 435.3 346.1 438.7 344.5 439.9C342.9 441 338.5 440.9 335.9 440.7C333.3 440.6 330.3 440 329 439C327.7 438 326.7 436 328.1 434.7Z" fill="#AFEEEE"/>
<ellipse cx="335.9" cy="436.1" rx="4.59" ry="1.64" transform="rotate(15 335.9 436.1)" fill="#66CDAA"/>
<ellipse cx="334.2" cy="435.6" rx="1.55" ry="0.62" transform="rotate(15 334.2 435.6)" fill="#3CB371"/>
<path d="M338.5 441.6C339.8 440 344.4 438.4 348 438.2C351.6 437.9 357.7 438.3 360 439.9C362.3 441.5 363.2 446.1 361.8 447.6C360.3 449.2 355 449.4 351.4 449.4C347.8 449.4 342.4 448.9 340.2 447.6C338 446.4 337.2 443.2 338.5 441.6Z" fill="#FFE2E0"/>
<ellipse cx="350" cy="443.3" rx="6.9" ry="3.11" fill="#FFC0CB"/>
<path d="M349.3 449.4C350.9 447.8 355.3 447.8 361.8 445.9C368.2 444.1 383.6 437.3 388 438.2C392.4 439 389.3 448.2 388 451.1C386.6 454 381.8 454.1 379.9 455.4C378 456.8 378.6 458.8 376.4 459.2C374.3 459.6 369.4 458.8 366.9 458C364.5 457.2 364.2 455 361.8 454.6C359.3 454.1 354.3 456.3 352.3 455.4C350.2 454.6 347.8 451 349.3 449.4Z" fill="#FFE2E0"/>
<path d="M352.3 449.4C352.3 448.3 357.3 447.7 361.8 447.1C366.2 446.6 376.1 444.7 379 445.9C381.9 447.2 380.8 452.8 379 454.6C377.3 456.3 371.5 456.5 368.7 456.3C365.8 456.1 364.5 454.5 361.8 453.3C359 452.2 352.3 450.4 352.3 449.4Z" fill="#FFC0CB"/>
<ellipse cx="368.7" cy="451.1" rx="6.56" ry="2.3" transform="rotate(10 368.7 451.1)" fill="#D26A82"/>
<ellipse cx="369" cy="450.8" rx="4.35" ry="1.24" transform="rotate(10 369 450.8)" fill="#C84A72"/>
<ellipse cx="369.5" cy="450.6" rx="2.17" ry="0.62" transform="rotate(10 369.5 450.6)" fill="#B84A62"/>
<path d="M324.7 458.5C325.5 457.1 331.3 457 335.9 457.1C340.5 457.3 349.5 457.5 352.3 459.2C355 460.9 353.9 465.8 352.3 467.5C350.7 469.2 346.4 469.9 342.8 469.6C339.2 469.3 333.7 467.6 330.7 465.8C327.7 463.9 323.8 460 324.7 458.5Z" fill="#FFE2E0"/>
<path d="M325.9 459.2C326.6 458.1 331.7 458 335.9 458.2C340.1 458.3 348.5 458.8 351.1 460.2C353.6 461.7 352.5 465.3 351.1 466.6C349.7 468 346 468.6 342.8 468.4C339.5 468.1 334.4 466.4 331.6 464.9C328.8 463.4 325.2 460.3 325.9 459.2Z" fill="#FFC0CB"/>
<path d="M327.5 460.4C328.3 459.6 332.6 459.3 336 459.8C339.5 460.2 346.3 462.1 348.3 463.2C350.4 464.3 349.5 465.8 348.3 466.5C347.1 467.1 343.8 467.3 340.9 467C338.1 466.6 333.3 465.4 331.1 464.3C328.9 463.3 326.7 461.2 327.5 460.4Z" fill="#D26A82"/>
<ellipse cx="331.1" cy="463" rx="2.02" ry="0.78" transform="rotate(15 331.1 463)" fill="#C84A72"/>
<ellipse cx="345.4" cy="465.8" rx="1.55" ry="0.62" fill="#C84A72"/>
<path d="M351.4 463.2C353 461.9 358.9 461.2 361.8 461.5C364.6 461.7 367.6 463 368.7 464.9C369.8 466.8 370.1 471.2 368.3 472.7C366.6 474.1 361 474.1 358.3 473.5C355.6 473 353.4 470.9 352.3 469.2C351.1 467.5 349.8 464.5 351.4 463.2Z" fill="#AFEEEE"/>
<ellipse cx="365.2" cy="466.6" rx="1.64" ry="2.62" fill="#66CDAA"/>
<ellipse cx="374.7" cy="467.5" rx="6.04" ry="5.52" fill="#AFEEEE"/>
<ellipse cx="376.4" cy="467.5" rx="2.42" ry="1.55" fill="#FFE2E0"/>
<ellipse cx="369.5" cy="480.4" rx="2.42" ry="5.52" fill="#FFE2E0"/>
<ellipse cx="377.3" cy="481.3" rx="4.49" ry="5.18" fill="#AFEEEE"/>
<path d="M361.7 442.5C363.4 440.7 367.4 440.7 372 439.9C376.6 439 383.5 438.2 389.3 437.3C395 436.4 403.2 436.4 406.5 434.7C409.8 433 406.8 428.7 409.1 426.9C411.4 425.2 418.3 423.6 420.3 424.4C422.3 425.1 422.3 429.5 421.2 431.3C420 433 415.1 432.7 413.4 434.7C411.7 436.7 413.4 441.6 410.8 443.3C408.2 445.1 402.6 444.5 397.9 445.1C393.1 445.6 386.7 446.2 382.4 446.8C378 447.4 375.5 447.9 372 448.5C368.6 449.1 363.4 451.2 361.7 450.2C359.9 449.2 359.9 444.2 361.7 442.5Z" fill="#FFE2E0"/>
<path d="M365.1 443.3C366.3 442.1 368 442.1 372 441.3C376 440.5 383.4 439.4 389.3 438.5C395.2 437.6 403.9 437.9 407.4 436.1C410.8 434.3 408 429.5 410 427.8C412 426.1 417.8 425.3 419.5 425.7C421.1 426.2 421.1 429 420 430.4C418.8 431.7 414.3 431.9 412.6 433.8C410.8 435.8 412.1 440.3 409.6 442C407.2 443.6 402.4 443.1 397.9 443.7C393.3 444.3 387.8 444.6 382.4 445.4C376.9 446.2 368 448.9 365.1 448.5C362.2 448.2 364 444.5 365.1 443.3Z" fill="#FFC0CB"/>
<path d="M409.4 427C410.3 426.2 413.4 425 415.1 424.9C416.9 424.7 419.3 425.4 420 426.2C420.8 427 420.7 429 419.7 429.8C418.8 430.6 415.9 431.1 414.3 431.1C412.7 431.1 410.7 430.5 409.9 429.8C409.1 429.1 408.5 427.8 409.4 427Z" fill="#D26A82"/>
<ellipse cx="414.8" cy="428.2" rx="3.11" ry="1.4" fill="#C84A72"/>
<path d="M417.8 418.8C419.3 417.3 426.6 417.3 429 418.3C431.4 419.3 430.2 422.8 432.3 424.5C434.3 426.2 440.1 426.7 441.3 428.6C442.5 430.5 441.4 434.4 439.6 436C437.9 437.6 432.7 439.3 430.6 438.5C428.6 437.6 429.1 433 427.4 431.1C425.6 429.2 421.6 429 420 427C418.4 424.9 416.3 420.2 417.8 418.8Z" fill="#66CDAA"/>
<path d="M419.3 419.6C420.2 418.5 426 418.5 427.9 419.3C429.7 420.1 430.4 423.1 430.5 424.6C430.6 426.1 430 427.9 428.6 428.2C427.3 428.4 424 427.2 422.4 425.8C420.9 424.4 418.4 420.7 419.3 419.6Z" fill="#3CB371"/>
<ellipse cx="435" cy="432.1" rx="3.42" ry="3.11" fill="#3CB371"/>
<ellipse cx="374.6" cy="451.6" rx="4.92" ry="3.61" fill="#D26A82"/>
<ellipse cx="373.7" cy="451.1" rx="2.48" ry="1.71" fill="#C84A72"/>
<path d="M388.4 446.8C389.8 444.3 394.9 444.3 397.9 444.2C400.9 444.1 404.9 443.6 406.5 445.9C408.1 448.2 408.8 455.4 407.4 458C405.9 460.6 400.9 461.3 397.9 461.5C394.9 461.7 390.8 461.7 389.3 459.2C387.7 456.8 387 449.3 388.4 446.8Z" fill="#AFEEEE"/>
<path d="M390 447.9C391.2 445.9 395.4 445.8 397.9 445.8C400.4 445.7 404 445.5 405.3 447.4C406.6 449.3 407 454.8 405.8 456.9C404.5 459 400.4 459.7 397.9 459.9C395.4 460 392 459.9 390.7 457.9C389.4 455.9 388.8 449.9 390 447.9Z" fill="#66CDAA"/>
<ellipse cx="397.9" cy="452.3" rx="5.28" ry="4.66" fill="#3CB371"/>
<ellipse cx="397.5" cy="459.2" rx="1.86" ry="1.4" fill="#008B8B"/>
<ellipse cx="397.9" cy="460.2" rx="1.4" ry="0.93" fill="#6495ED"/>
<path d="M405.7 450.6C407.4 449.1 415.3 448.6 417.2 449.9C419.1 451.2 419 457 417.2 458.5C415.4 460 408.4 460.2 406.5 458.9C404.6 457.5 403.9 452.1 405.7 450.6Z" fill="#FFC0CB"/>
<path d="M406.8 451.4C408.3 450.3 414.7 449.9 416.3 450.9C417.9 452 417.8 456.5 416.3 457.7C414.8 458.8 409 459 407.4 458C405.9 457 405.3 452.6 406.8 451.4Z" fill="#D26A82"/>
<ellipse cx="411" cy="454.9" rx="3.73" ry="2.17" fill="#C84A72"/>
<path d="M380.6 458C383.1 456.8 393.4 456.1 396.2 457.1C398.9 458.1 399.5 462.8 397 464C394.6 465.3 384.2 465.4 381.5 464.4C378.8 463.4 378.2 459.2 380.6 458Z" fill="#FFC0CB"/>
<path d="M382 458.6C384.1 457.7 392.7 457.2 395 458C397.2 458.7 397.5 462.3 395.5 463.2C393.4 464.2 384.9 464.3 382.7 463.6C380.4 462.8 380 459.6 382 458.6Z" fill="#D26A82"/>
<ellipse cx="388.4" cy="460.9" rx="5.59" ry="1.71" fill="#C84A72"/>
<ellipse cx="387.5" cy="460.9" rx="3.11" ry="0.78" fill="#B84A62"/>
<ellipse cx="391.9" cy="465.8" rx="2.48" ry="1.55" fill="#3CB371"/>
<ellipse cx="391.3" cy="466.1" rx="1.09" ry="0.62" fill="#6495ED"/>
<path d="M397.9 458.5C400.8 457.4 412.9 457.5 416 458.5C419.1 459.6 419.4 463.8 416.5 464.9C413.7 466.1 401.9 466.5 398.8 465.4C395.6 464.4 395 459.7 397.9 458.5Z" fill="#FFC0CB"/>
<ellipse cx="410.3" cy="461.6" rx="5.25" ry="2.46" fill="#D26A82"/>
<ellipse cx="410.7" cy="461.6" rx="3.73" ry="1.4" fill="#C84A72"/>
<path d="M394.4 466.6C397.3 465.8 409.5 465.8 412.6 466.6C415.7 467.5 416 470.9 413.1 471.8C410.2 472.7 398.4 472.7 395.3 471.8C392.2 470.9 391.6 467.5 394.4 466.6Z" fill="#FFC0CB"/>
<path d="M395.7 467.3C398.2 466.6 408.7 466.6 411.3 467.3C414 467.9 414.1 470.5 411.6 471.2C409.2 471.8 399.2 471.8 396.5 471.2C393.9 470.5 393.3 467.9 395.7 467.3Z" fill="#D26A82"/>
<ellipse cx="403.9" cy="469.2" rx="6.99" ry="1.4" fill="#C84A72"/>
<ellipse cx="403.9" cy="469.2" rx="4.97" ry="0.7" fill="#B84A62"/>
<ellipse cx="380.6" cy="468.4" rx="5.18" ry="3.8" fill="#AFEEEE"/>
<ellipse cx="378.9" cy="469.2" rx="1.97" ry="1.48" fill="#66CDAA"/>
<path d="M388.4 471.8C392.1 470.4 407.7 470 411.7 471.3C415.7 472.6 416.3 478.1 412.6 479.6C408.8 481 393.3 481.2 389.3 479.9C385.2 478.6 384.7 473.2 388.4 471.8Z" fill="#AFEEEE"/>
<ellipse cx="394.4" cy="475.3" rx="4.92" ry="3.28" fill="#66CDAA"/>
<ellipse cx="394.1" cy="475.3" rx="2.17" ry="1.55" fill="#3CB371"/>
<ellipse cx="413.4" cy="470.1" rx="2.42" ry="4.49" fill="#FFC0CB"/>
<ellipse cx="413.4" cy="473.7" rx="0.78" ry="0.62" fill="#6495ED"/>
<path d="M380.3 478.2C382.4 476.9 391.9 476.7 394.4 477.8C396.9 479 397.5 483.8 395.3 485.1C393.1 486.4 384 486.8 381.5 485.6C379 484.5 378.1 479.5 380.3 478.2Z" fill="#FFE2E0"/>
<ellipse cx="387.5" cy="481.3" rx="6.21" ry="3.11" fill="#FFC0CB"/>
<path d="M390.1 482.2C393 481.4 403.8 481 406.5 481.6C409.2 482.3 408.2 485 406.2 486.1C404.2 487.3 397.3 488.5 394.4 488.5C391.6 488.6 390 487.5 389.3 486.5C388.5 485.4 387.3 483 390.1 482.2Z" fill="#FFC0CB"/>
<path d="M391.3 482.8C393.8 482.2 403 482 405.2 482.5C407.5 482.9 406.5 484.6 404.7 485.4C403 486.2 397 487.3 394.6 487.4C392.2 487.4 391 486.5 390.5 485.7C389.9 485 388.8 483.3 391.3 482.8Z" fill="#D26A82"/>
<ellipse cx="397.9" cy="484.8" rx="6.21" ry="1.24" transform="rotate(-5 397.9 484.8)" fill="#C84A72"/>
<ellipse cx="374.6" cy="480.4" rx="4.83" ry="6.21" fill="#AFEEEE"/>
<ellipse cx="376.3" cy="482.2" rx="1.64" ry="2.95" fill="#66CDAA"/>
<ellipse cx="389.4" cy="490.9" rx="3.36" ry="3.05" fill="#FFE2E0"/>
<ellipse cx="415" cy="480.6" rx="2.32" ry="4.06" transform="rotate(15 415 480.6)" fill="#66CDAA"/>
<ellipse cx="415" cy="480.3" rx="0.96" ry="1.92" transform="rotate(15 415 480.3)" fill="#3CB371"/>
</g>
<g transform="translate(309.7 457.3)" fill="none" stroke-linejoin="round"><use href="#pv" stroke="#0a0a0a" stroke-width="0.75"/><use href="#cn" stroke="#000" stroke-width="0.95"/><use href="#co" stroke="#000" stroke-width="1.5"/></g>
<g transform="translate(422.80 465.10)">
<rect width="24.90" height="31.10" fill="#fff"/>
<path d="M0.4 0.4 L17.6 0.4 C15.5 2.2 12 4 8.5 4.7 C5.5 5.2 2.5 3.8 0.4 0.4Z" fill="#FFC0CB" stroke="#000" stroke-width="1.1"/>
<circle cx="5.8" cy="7.3" r="1.35" fill="#FFC0CB" stroke="#000" stroke-width="0.8"/>
<path d="M18 0.4 L22.4 0.4 L21.4 3.6 L19.4 2.4Z" fill="#66CDAA" stroke="#000" stroke-width="0.6"/>
<use href="#dots"/>
<rect width="24.90" height="31.10" fill="none" stroke="#333" stroke-width="0.75"/>
</g>
<rect x="309.70" y="413.40" width="138.00" height="82.80" fill="none" stroke="#3a3a3a" stroke-width="0.75"/>
<path d="M310.35 496.20 v0.9M314.69 496.20 v0.9M319.02 496.20 v0.9M323.36 496.20 v0.9M327.69 496.20 v1.7M332.03 496.20 v0.9M336.37 496.20 v0.9M340.70 496.20 v0.9M345.04 496.20 v0.9M349.37 496.20 v1.7M353.71 496.20 v0.9M358.05 496.20 v0.9M362.38 496.20 v0.9M366.72 496.20 v0.9M371.05 496.20 v1.7M375.39 496.20 v0.9M379.73 496.20 v0.9M384.06 496.20 v0.9M388.40 496.20 v0.9M392.73 496.20 v1.7M397.07 496.20 v0.9M401.41 496.20 v0.9M405.74 496.20 v0.9M410.08 496.20 v0.9M414.41 496.20 v1.7M418.75 496.20 v0.9M423.09 496.20 v0.9M427.42 496.20 v0.9M431.76 496.20 v0.9M436.09 496.20 v1.7M440.43 496.20 v0.9M444.77 496.20 v0.9M309.70 494.19 h-0.9M309.70 489.85 h-1.7M309.70 485.51 h-0.9M309.70 481.17 h-0.9M309.70 476.83 h-0.9M309.70 472.49 h-0.9M309.70 468.15 h-1.7M309.70 463.81 h-0.9M309.70 459.47 h-0.9M309.70 455.13 h-0.9M309.70 450.79 h-0.9M309.70 446.45 h-1.7M309.70 442.11 h-0.9M309.70 437.77 h-0.9M309.70 433.43 h-0.9M309.70 429.09 h-0.9M309.70 424.75 h-1.7M309.70 420.41 h-0.9M309.70 416.07 h-0.9" fill="none" stroke="#3a3a3a" stroke-width="0.45"/>
<text class="k" x="327.69" y="502.90" text-anchor="middle">80°E</text>
<text class="k" x="349.37" y="502.90" text-anchor="middle">90°E</text>
<text class="k" x="371.05" y="502.90" text-anchor="middle">100°E</text>
<text class="k" x="392.73" y="502.90" text-anchor="middle">110°E</text>
<text class="k" x="414.41" y="502.90" text-anchor="middle">120°E</text>
<text class="k" x="436.09" y="502.90" text-anchor="middle">130°E</text>
<text class="l" x="310.60" y="409.70">o</text>
<text class="t" x="377.85" y="410.10">Mode 15 of pentad 40</text>
<g>
<path d="M111.00 514.70 L97.50 526.00 L111.00 537.30 Z" fill="#A23E0C"/>
<path d="M360.00 514.70 L373.50 526.00 L360.00 537.30 Z" fill="#191970"/>
<rect x="109.50" y="514.70" width="16.95" height="22.60" fill="#A23E0C"/>
<rect x="125.25" y="514.70" width="16.95" height="22.60" fill="#C24E0E"/>
<rect x="141.00" y="514.70" width="16.95" height="22.60" fill="#E08262"/>
<rect x="156.75" y="514.70" width="16.95" height="22.60" fill="#B84A62"/>
<rect x="172.50" y="514.70" width="16.95" height="22.60" fill="#C84A72"/>
<rect x="188.25" y="514.70" width="16.95" height="22.60" fill="#D26A82"/>
<rect x="204.00" y="514.70" width="16.95" height="22.60" fill="#FFC0CB"/>
<rect x="219.75" y="514.70" width="16.95" height="22.60" fill="#FFE2E0"/>
<rect x="235.50" y="514.70" width="16.95" height="22.60" fill="#E0FFFF"/>
<rect x="251.25" y="514.70" width="16.95" height="22.60" fill="#AFEEEE"/>
<rect x="267.00" y="514.70" width="16.95" height="22.60" fill="#66CDAA"/>
<rect x="282.75" y="514.70" width="16.95" height="22.60" fill="#3CB371"/>
<rect x="298.50" y="514.70" width="16.95" height="22.60" fill="#008B8B"/>
<rect x="314.25" y="514.70" width="16.95" height="22.60" fill="#6495ED"/>
<rect x="330.00" y="514.70" width="16.95" height="22.60" fill="#4169E1"/>
<rect x="345.75" y="514.70" width="15.75" height="22.60" fill="#191970"/>
<path d="M97.50 526.00 L109.50 514.70 L361.50 514.70 L373.50 526.00 L361.50 537.30 L109.50 537.30 Z" fill="none" stroke="#555" stroke-width="0.35"/>
<path d="M125.25 537.30 v1.6" stroke="#3a3a3a" stroke-width="0.45"/>
<text class="k" x="125.25" y="544.60" text-anchor="middle">−0.07</text>
<path d="M141.00 537.30 v1.6" stroke="#3a3a3a" stroke-width="0.45"/>
<text class="k" x="141.00" y="544.60" text-anchor="middle">−0.06</text>
<path d="M156.75 537.30 v1.6" stroke="#3a3a3a" stroke-width="0.45"/>
<text class="k" x="156.75" y="544.60" text-anchor="middle">−0.05</text>
<path d="M172.50 537.30 v1.6" stroke="#3a3a3a" stroke-width="0.45"/>
<text class="k" x="172.50" y="544.60" text-anchor="middle">−0.04</text>
<path d="M188.25 537.30 v1.6" stroke="#3a3a3a" stroke-width="0.45"/>
<text class="k" x="188.25" y="544.60" text-anchor="middle">−0.03</text>
<path d="M204.00 537.30 v1.6" stroke="#3a3a3a" stroke-width="0.45"/>
<text class="k" x="204.00" y="544.60" text-anchor="middle">−0.02</text>
<path d="M219.75 537.30 v1.6" stroke="#3a3a3a" stroke-width="0.45"/>
<text class="k" x="219.75" y="544.60" text-anchor="middle">−0.01</text>
<path d="M235.50 537.30 v1.6" stroke="#3a3a3a" stroke-width="0.45"/>
<text class="k" x="235.50" y="544.60" text-anchor="middle">0.00</text>
<path d="M251.25 537.30 v1.6" stroke="#3a3a3a" stroke-width="0.45"/>
<text class="k" x="251.25" y="544.60" text-anchor="middle">0.01</text>
<path d="M267.00 537.30 v1.6" stroke="#3a3a3a" stroke-width="0.45"/>
<text class="k" x="267.00" y="544.60" text-anchor="middle">0.02</text>
<path d="M282.75 537.30 v1.6" stroke="#3a3a3a" stroke-width="0.45"/>
<text class="k" x="282.75" y="544.60" text-anchor="middle">0.03</text>
<path d="M298.50 537.30 v1.6" stroke="#3a3a3a" stroke-width="0.45"/>
<text class="k" x="298.50" y="544.60" text-anchor="middle">0.04</text>
<path d="M314.25 537.30 v1.6" stroke="#3a3a3a" stroke-width="0.45"/>
<text class="k" x="314.25" y="544.60" text-anchor="middle">0.05</text>
<path d="M330.00 537.30 v1.6" stroke="#3a3a3a" stroke-width="0.45"/>
<text class="k" x="330.00" y="544.60" text-anchor="middle">0.06</text>
<path d="M345.75 537.30 v1.6" stroke="#3a3a3a" stroke-width="0.45"/>
<text class="k" x="345.75" y="544.60" text-anchor="middle">0.07</text>
</g>
</svg></body></html>
